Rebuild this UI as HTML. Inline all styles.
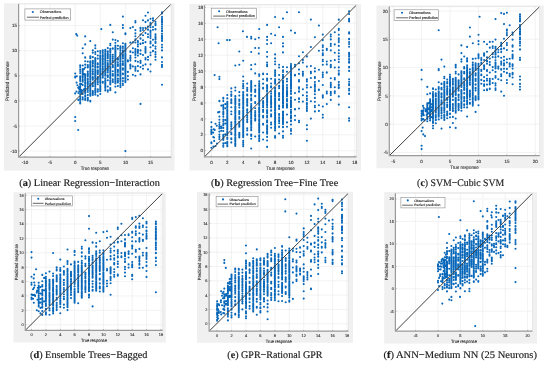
<!DOCTYPE html><html><head><meta charset="utf-8"><style>html,body{margin:0;padding:0;background:#fff;overflow:hidden}svg{display:block;text-rendering:geometricPrecision}</style></head><body>
<svg width="550" height="365" viewBox="0 0 550 365">
<g><rect x="4" y="3.3" width="170.5" height="167.3" fill="#f0f0f0"/><rect x="18.6" y="4" width="152.6" height="153.2" fill="#fff"/><path d="M25.0 4V157.2M18.6 151.1H171.2M50.1 4V157.2M18.6 126.0H171.2M75.2 4V157.2M18.6 100.9H171.2M100.3 4V157.2M18.6 75.8H171.2M125.4 4V157.2M18.6 50.7H171.2M150.5 4V157.2M18.6 25.6H171.2" stroke="#eeeeee" stroke-width="0.7" fill="none"/><path d="M110.3 70.8h0M137.9 61.7h0M90.3 84.6h0M137.9 53.0h0M97.8 82.3h0M105.3 85.5h0M102.8 81.9h0M110.3 89.3h0M80.2 81.0h0M122.9 50.7h0M110.3 55.3h0M100.3 59.6h0M125.4 59.3h0M97.8 95.8h0M105.3 75.0h0M87.8 71.6h0M102.8 77.1h0M90.3 95.5h0M95.3 81.8h0M122.9 52.8h0M95.3 63.5h0M107.8 51.2h0M162.0 40.2h0M148.0 29.6h0M120.4 50.6h0M110.3 74.6h0M95.3 58.6h0M90.3 92.0h0M162.0 50.4h0M110.3 68.4h0M87.8 82.5h0M115.4 71.1h0M125.4 34.3h0M115.4 49.5h0M150.5 38.1h0M81.5 92.0h0M110.3 56.2h0M105.3 78.8h0M82.7 97.2h0M115.4 68.7h0M130.4 67.0h0M115.4 74.7h0M95.3 70.8h0M130.4 42.8h0M110.3 62.8h0M110.3 61.1h0M122.9 51.6h0M90.3 69.1h0M125.4 72.8h0M120.4 47.3h0M125.4 60.4h0M90.3 77.9h0M125.4 56.4h0M90.3 90.4h0M85.2 96.8h0M135.4 42.5h0M135.4 52.3h0M140.5 53.7h0M105.3 82.0h0M95.3 62.7h0M78.3 99.9h0M115.4 75.6h0M120.4 71.4h0M125.4 59.5h0M95.3 54.0h0M92.8 63.7h0M115.4 57.7h0M125.4 55.9h0M148.0 26.6h0M90.3 94.1h0M107.8 58.2h0M145.5 58.1h0M105.3 72.4h0M112.8 81.0h0M80.2 69.3h0M117.9 41.0h0M155.5 29.5h0M125.4 43.7h0M140.5 74.4h0M117.9 70.8h0M95.3 89.6h0M122.9 48.0h0M92.8 92.0h0M125.4 57.4h0M82.7 76.5h0M125.4 44.6h0M90.3 81.5h0M100.3 77.6h0M97.8 70.9h0M120.4 61.5h0M90.3 76.3h0M102.8 55.8h0M78.2 87.8h0M95.3 75.1h0M105.3 61.3h0M85.2 82.7h0M115.4 79.8h0M100.3 68.5h0M120.4 56.2h0M115.4 66.3h0M105.3 67.1h0M135.4 30.1h0M115.4 75.4h0M125.4 54.3h0M100.3 71.4h0M110.3 78.3h0M90.3 95.8h0M162.0 36.5h0M95.3 66.6h0M95.3 83.8h0M85.2 61.2h0M95.3 71.5h0M122.9 58.5h0M120.4 57.7h0M87.8 99.5h0M100.3 79.1h0M105.3 73.9h0M117.9 80.4h0M105.3 66.0h0M112.8 75.0h0M130.4 68.5h0M120.4 64.2h0M100.3 73.2h0M105.3 83.5h0M100.3 71.9h0M85.2 86.1h0M90.3 77.1h0M95.3 86.3h0M97.8 66.7h0M97.8 84.3h0M112.8 60.6h0M162.0 22.7h0M125.4 44.0h0M125.4 48.0h0M122.9 73.6h0M115.4 73.1h0M150.5 34.0h0M120.4 65.4h0M107.8 53.9h0M85.2 85.9h0M107.8 54.2h0M92.8 50.4h0M87.8 74.8h0M110.3 83.0h0M125.4 63.5h0M95.3 71.7h0M122.9 64.7h0M110.3 50.5h0M90.3 61.3h0M153.0 27.0h0M102.8 64.6h0M95.3 77.8h0M130.4 57.6h0M87.8 65.0h0M120.4 60.6h0M90.3 41.1h0M102.8 63.4h0M95.3 64.1h0M130.4 64.9h0M102.8 71.3h0M162.0 47.4h0M115.4 74.8h0M120.4 64.5h0M110.3 80.5h0M97.8 51.2h0M102.8 71.6h0M132.9 48.3h0M90.3 84.2h0M122.9 55.5h0M100.3 56.7h0M115.4 48.9h0M100.3 74.7h0M100.3 65.4h0M110.3 63.1h0M75.2 76.9h0M107.8 56.9h0M162.0 28.7h0M95.3 92.8h0M122.9 63.2h0M105.3 78.3h0M92.8 78.6h0M150.5 22.8h0M75.2 93.4h0M97.8 71.9h0M162.0 30.9h0M95.3 72.0h0M130.4 55.7h0M115.4 45.5h0M125.4 74.0h0M115.4 52.9h0M100.3 79.3h0M122.9 50.4h0M80.2 86.2h0M105.3 65.7h0M100.3 66.5h0M107.8 90.2h0M87.8 65.9h0M92.8 93.1h0M110.3 68.4h0M102.8 61.5h0M125.4 81.3h0M115.4 81.5h0M135.4 53.7h0M120.4 55.4h0M115.4 58.8h0M95.3 82.8h0M125.4 62.0h0M95.3 78.7h0M85.2 79.0h0M148.0 37.1h0M110.3 54.6h0M125.4 46.1h0M110.3 74.6h0M115.4 61.8h0M80.2 91.7h0M90.3 64.8h0M117.9 81.5h0M112.8 48.8h0M90.3 87.7h0M143.0 43.1h0M90.3 88.8h0M110.3 64.0h0M90.3 65.3h0M120.4 65.8h0M95.3 75.4h0M87.8 95.1h0M82.7 48.2h0M90.3 70.9h0M90.3 86.5h0M110.3 80.3h0M105.3 51.0h0M143.0 55.0h0M143.0 43.3h0M125.4 59.2h0M117.9 64.9h0M130.4 51.2h0M127.9 76.1h0M80.2 83.5h0M87.8 81.4h0M100.3 71.3h0M85.2 82.9h0M115.4 86.6h0M95.3 59.3h0M95.3 64.9h0M95.3 80.3h0M85.2 75.8h0M120.4 64.0h0M115.4 67.8h0M115.4 59.1h0M80.2 78.8h0M105.3 75.7h0M120.4 61.7h0M90.3 85.2h0M100.3 87.8h0M80.2 87.0h0M85.2 88.4h0M92.8 60.9h0M105.3 75.5h0M105.3 69.7h0M140.5 34.6h0M97.8 78.6h0M80.2 65.6h0M125.4 71.3h0M82.7 93.9h0M85.2 80.6h0M148.0 56.9h0M122.9 68.7h0M100.3 88.1h0M87.8 66.8h0M102.8 56.8h0M100.3 59.5h0M140.5 38.8h0M105.3 56.5h0M85.2 64.6h0M155.5 48.8h0M115.4 75.6h0M87.8 61.6h0M85.2 92.0h0M105.3 51.9h0M85.2 75.3h0M115.4 60.9h0M115.4 72.5h0M80.2 80.0h0M125.4 67.9h0M125.4 51.8h0M150.5 27.2h0M117.9 59.5h0M120.4 68.5h0M90.3 62.8h0M80.2 67.0h0M82.7 73.7h0M153.0 39.8h0M115.4 68.6h0M137.9 51.7h0M100.3 62.4h0M122.9 43.2h0M82.7 99.5h0M90.3 83.9h0M95.3 72.0h0M110.3 80.7h0M110.3 77.6h0M107.8 77.1h0M105.3 59.3h0M112.8 65.5h0M153.0 29.7h0M105.3 90.1h0M125.4 81.1h0M82.7 76.4h0M100.3 56.4h0M110.3 59.2h0M115.4 75.9h0M95.3 78.8h0M102.8 66.5h0M137.9 71.0h0M115.4 68.2h0M112.8 32.2h0M82.7 98.9h0M82.7 81.5h0M92.8 62.1h0M87.8 100.6h0M162.0 44.7h0M76.5 91.5h0M100.3 88.8h0M82.7 70.1h0M115.4 69.4h0M82.7 69.1h0M84.0 69.1h0M85.2 91.7h0M95.3 63.1h0M112.8 62.2h0M125.4 72.7h0M95.3 67.7h0M95.3 88.2h0M125.4 65.3h0M120.4 66.9h0M87.8 74.5h0M125.4 64.9h0M125.4 69.9h0M90.3 78.0h0M115.4 56.4h0M90.3 76.2h0M95.3 92.7h0M107.8 69.0h0M110.3 67.1h0M107.8 68.9h0M110.3 51.3h0M92.8 66.4h0M125.4 73.1h0M95.3 84.6h0M150.5 23.6h0M110.3 48.7h0M97.8 78.2h0M90.3 100.8h0M107.8 64.5h0M100.3 67.8h0M115.4 47.6h0M107.8 65.2h0M80.2 84.0h0M125.4 69.2h0M82.7 72.9h0M125.4 47.0h0M125.4 65.4h0M155.5 42.3h0M117.9 74.4h0M90.3 91.8h0M105.3 80.3h0M105.3 58.7h0M115.4 58.0h0M100.3 65.5h0M117.9 58.4h0M90.3 101.5h0M100.3 62.9h0M110.3 63.7h0M105.3 56.9h0M87.8 86.1h0M153.0 45.5h0M120.4 65.4h0M125.4 58.9h0M100.3 86.2h0M132.9 42.4h0M125.4 64.7h0M162.0 36.1h0M90.3 67.6h0M107.8 48.1h0M100.3 65.0h0M115.4 48.8h0M95.3 81.7h0M85.2 90.5h0M107.8 54.3h0M115.4 77.6h0M100.3 62.5h0M162.0 12.4h0M102.8 68.3h0M97.8 77.1h0M125.4 54.8h0M105.3 55.4h0M95.3 58.1h0M95.3 59.0h0M137.9 46.5h0M148.0 69.4h0M115.4 57.1h0M95.3 71.8h0M120.4 70.6h0M92.8 92.1h0M100.3 55.2h0M110.3 63.5h0M102.8 56.6h0M100.3 61.6h0M162.0 18.8h0M90.3 77.4h0M115.4 62.3h0M80.2 96.6h0M85.2 36.4h0M92.8 85.4h0M162.0 66.9h0M120.4 72.4h0M135.4 51.4h0M82.7 77.4h0M120.4 75.3h0M105.3 74.3h0M105.3 62.4h0M120.4 54.4h0M97.8 80.0h0M110.3 61.6h0M95.3 90.5h0M102.8 69.6h0M110.3 55.1h0M90.3 86.6h0M95.3 67.2h0M105.3 50.0h0M105.3 58.4h0M125.4 78.5h0M115.4 63.6h0M110.3 43.7h0M140.5 30.9h0M90.3 73.1h0M85.2 77.8h0M102.8 59.9h0M87.8 66.0h0M110.3 49.0h0M112.8 75.7h0M87.8 66.9h0M120.4 48.1h0M110.3 80.3h0M105.3 68.9h0M150.5 43.5h0M135.4 61.1h0M92.8 77.4h0M90.3 85.4h0M150.5 55.3h0M90.3 69.0h0M122.9 68.3h0M97.8 55.5h0M100.3 57.5h0M110.3 62.5h0M155.5 54.2h0M76.6 82.6h0M90.3 56.3h0M120.4 56.7h0M102.8 72.4h0M95.3 80.5h0M148.0 12.5h0M95.3 58.9h0M120.4 58.7h0M153.0 51.2h0M122.9 78.0h0M120.4 78.3h0M120.4 56.8h0M125.4 54.6h0M95.3 73.7h0M115.4 80.1h0M125.4 60.6h0M145.5 49.2h0M150.5 47.2h0M150.5 42.0h0M85.2 57.7h0M100.3 57.4h0M105.3 58.5h0M145.5 47.1h0M105.3 83.1h0M95.3 72.0h0M80.2 98.7h0M95.3 75.3h0M125.4 65.2h0M80.2 76.3h0M90.3 91.0h0M97.8 91.8h0M110.3 58.6h0M100.3 51.3h0M140.5 43.9h0M92.8 77.0h0M110.3 73.3h0M125.4 72.9h0M155.5 43.0h0M140.5 53.9h0M87.8 76.5h0M125.4 55.4h0M117.9 78.5h0M105.3 53.5h0M80.2 77.0h0M90.3 81.0h0M122.9 46.5h0M85.2 93.1h0M97.8 89.2h0M95.3 83.2h0M120.4 48.9h0M100.3 65.9h0M85.2 79.6h0M100.3 75.9h0M100.3 79.0h0M120.4 52.6h0M100.3 68.7h0M120.4 59.4h0M110.3 54.2h0M145.5 22.1h0M120.4 70.2h0M102.8 72.5h0M107.8 66.9h0M105.3 90.4h0M140.5 43.5h0M87.8 67.5h0M105.3 62.6h0M110.3 74.6h0M105.3 66.4h0M115.4 83.5h0M107.8 86.5h0M105.3 80.3h0M120.4 81.3h0M100.3 64.0h0M115.4 60.4h0M120.4 66.4h0M87.8 90.2h0M100.3 89.1h0M132.9 52.5h0M153.0 18.3h0M162.0 21.1h0M81.5 84.0h0M125.4 73.4h0M127.9 79.5h0M150.5 32.1h0M120.4 63.5h0M117.9 45.7h0M120.4 48.5h0M112.8 39.6h0M125.4 80.5h0M110.3 62.6h0M92.8 91.1h0M85.2 67.5h0M150.5 64.4h0M122.9 74.2h0M90.3 89.3h0M125.4 49.0h0M97.8 91.3h0M115.4 60.5h0M100.3 81.4h0M92.8 74.5h0M90.3 74.5h0M84.0 74.2h0M85.2 96.1h0M84.0 89.2h0M85.2 92.3h0M125.4 67.9h0M110.3 69.2h0M87.8 81.4h0M110.3 84.5h0M110.3 52.3h0M107.8 64.7h0M92.8 63.3h0M105.3 74.7h0M140.5 67.1h0M100.3 94.0h0M110.3 61.0h0M155.5 54.4h0M95.3 59.4h0M120.4 57.6h0M107.8 63.3h0M125.4 78.8h0M100.3 51.0h0M110.3 73.3h0M100.3 58.5h0M135.4 54.9h0M150.5 41.6h0M115.4 82.2h0M162.0 12.4h0M120.4 83.4h0M125.4 81.3h0M145.5 51.8h0M95.3 67.0h0M162.0 66.0h0M102.8 52.9h0M107.8 76.6h0M90.3 84.1h0M125.4 80.4h0M100.3 88.9h0M120.4 58.6h0M92.8 57.0h0M100.3 77.6h0M100.3 77.9h0M95.3 75.9h0M80.2 90.8h0M122.9 63.4h0M137.9 66.1h0M92.8 73.6h0M90.3 71.8h0M100.3 66.1h0M85.2 74.9h0M115.4 46.1h0M100.3 79.1h0M110.3 88.1h0M150.5 31.5h0M135.4 68.9h0M155.5 34.3h0M127.9 72.1h0M112.8 54.7h0M110.3 71.9h0M80.2 86.2h0M85.2 83.4h0M110.3 24.9h0M135.4 36.2h0M105.3 71.1h0M76.8 76.3h0M92.8 69.3h0M122.9 27.9h0M90.3 76.1h0M90.3 66.0h0M95.3 60.2h0M115.4 40.0h0M125.4 49.9h0M92.8 52.8h0M115.4 69.7h0M110.3 73.2h0M105.3 51.4h0M112.8 71.2h0M125.4 53.3h0M92.8 95.0h0M107.8 72.5h0M85.2 89.1h0M110.3 75.0h0M125.4 66.5h0M162.0 31.2h0M105.3 59.8h0M97.8 74.1h0M112.8 65.1h0M100.3 64.9h0M87.8 88.8h0M110.3 60.3h0M125.4 66.0h0M145.5 64.4h0M162.0 13.5h0M100.3 65.4h0M95.3 67.8h0M85.2 64.8h0M105.3 75.7h0M125.4 72.7h0M95.3 75.2h0M130.4 42.5h0M120.4 65.1h0M90.3 58.2h0M115.4 48.9h0M125.4 65.7h0M155.5 56.9h0M90.3 65.8h0M125.4 54.3h0M125.4 55.3h0M95.3 74.7h0M95.3 69.4h0M143.0 40.2h0M100.3 67.9h0M95.3 72.7h0M120.4 61.2h0M87.8 75.6h0M107.8 55.5h0M100.3 83.0h0M110.3 56.7h0M115.4 65.3h0M115.4 67.0h0M105.3 75.3h0M145.5 15.8h0M125.4 60.6h0M155.5 41.9h0M105.3 87.4h0M120.4 64.7h0M105.3 86.6h0M95.3 52.1h0M115.4 60.0h0M137.9 44.4h0M125.4 64.4h0M95.3 69.3h0M92.8 82.7h0M125.4 44.5h0M120.4 54.8h0M135.4 60.9h0M90.3 57.8h0M135.4 66.9h0M105.3 59.1h0M95.3 61.5h0M100.3 70.9h0M162.0 57.4h0M143.0 35.3h0M85.2 83.9h0M97.8 70.4h0M120.4 57.3h0M80.2 97.1h0M80.2 89.8h0M82.7 76.0h0M135.4 50.9h0M100.3 78.7h0M97.8 90.8h0M125.4 49.8h0M97.8 73.7h0M120.4 64.3h0M100.3 60.8h0M97.8 67.3h0M102.8 55.1h0M90.3 66.0h0M85.2 88.8h0M140.5 50.4h0M135.4 33.4h0M105.3 81.1h0M120.4 80.1h0M135.4 70.7h0M102.8 59.0h0M120.4 67.3h0M122.9 73.6h0M85.2 80.9h0M87.8 92.0h0M122.9 78.5h0M120.4 78.4h0M90.3 88.3h0M125.4 63.4h0M125.4 62.2h0M100.3 86.6h0M100.3 59.5h0M85.2 78.5h0M105.3 84.4h0M85.2 80.3h0M110.3 58.4h0M115.4 56.5h0M112.8 79.2h0M85.2 74.4h0M115.4 42.7h0M122.9 78.2h0M90.3 93.5h0M115.4 72.2h0M125.4 71.6h0M90.3 67.2h0M150.5 52.6h0M162.0 17.0h0M120.4 65.2h0M140.5 60.8h0M95.3 74.1h0M117.9 59.7h0M155.5 39.4h0M82.7 73.9h0M125.4 77.2h0M95.3 63.1h0M125.4 55.0h0M115.4 68.2h0M125.4 54.5h0M102.8 50.9h0M105.3 64.8h0M155.5 54.5h0M85.2 77.7h0M90.3 65.9h0M162.0 37.9h0M150.5 18.7h0M90.3 89.6h0M162.0 30.8h0M95.3 58.5h0M145.5 59.5h0M150.5 30.5h0M80.2 84.0h0M79.0 87.1h0M100.3 79.0h0M155.5 36.0h0M125.4 78.8h0M102.8 77.6h0M135.4 68.8h0M97.8 67.6h0M100.3 53.0h0M90.3 85.4h0M148.0 59.7h0M125.4 50.7h0M105.3 65.9h0M95.3 60.7h0M153.0 50.7h0M102.8 75.4h0M92.8 73.5h0M105.3 88.0h0M120.4 54.0h0M122.9 81.0h0M85.2 82.5h0M137.9 42.0h0M117.9 82.4h0M82.7 70.8h0M125.4 69.1h0M162.0 16.9h0M130.4 51.9h0M79.2 88.9h0M105.3 69.1h0M112.8 65.1h0M145.5 33.1h0M110.3 73.0h0M85.2 95.2h0M155.5 25.2h0M137.9 50.5h0M107.8 70.9h0M82.7 81.8h0M130.4 57.7h0M120.4 70.4h0M162.0 21.4h0M78.5 93.0h0M105.3 88.0h0M95.3 66.5h0M85.2 99.9h0M120.4 87.1h0M100.3 83.1h0M80.2 77.6h0M87.8 79.8h0M125.4 71.5h0M115.4 68.1h0M92.8 63.6h0M120.4 78.2h0M87.8 78.7h0M117.9 72.0h0M115.4 53.4h0M77.4 85.2h0M110.3 63.1h0M120.4 73.7h0M122.9 25.1h0M120.4 58.0h0M140.5 62.2h0M122.9 64.9h0M155.5 29.1h0M105.3 75.5h0M80.2 84.4h0M90.3 73.4h0M95.3 77.1h0M81.5 90.1h0M85.2 74.3h0M110.3 56.4h0M95.3 76.9h0M120.4 74.4h0M135.4 57.5h0M135.4 39.3h0M100.3 85.1h0M120.4 76.5h0M130.4 64.6h0M90.3 56.5h0M90.3 79.3h0M115.4 54.8h0M95.3 80.6h0M90.3 70.4h0M100.3 69.6h0M75.2 76.6h0M105.3 87.9h0M82.7 90.7h0M95.3 76.3h0M92.8 65.9h0M100.3 82.6h0M87.8 73.4h0M105.3 63.0h0M120.4 69.4h0M100.3 58.1h0M155.5 24.6h0M135.4 69.1h0M97.8 66.7h0M80.2 73.1h0M122.9 56.6h0M95.3 45.3h0M100.3 89.5h0M112.8 62.3h0M162.0 24.6h0M97.8 79.7h0M105.3 73.5h0M115.4 76.5h0M120.4 70.2h0M92.8 94.1h0M115.4 64.9h0M110.3 70.6h0M117.9 75.6h0M85.2 89.1h0M87.8 88.1h0M162.0 40.2h0M125.4 70.8h0M125.4 71.1h0M127.9 60.3h0M148.0 34.3h0M102.8 73.9h0M122.9 58.1h0M115.4 66.8h0M110.3 68.1h0M117.9 59.4h0M97.8 66.6h0M135.4 39.9h0M102.8 58.3h0M90.3 73.6h0M79.3 91.4h0M115.4 53.7h0M95.3 82.0h0M143.0 20.3h0M90.3 81.8h0M97.8 95.6h0M162.0 21.4h0M110.3 45.3h0M155.5 23.7h0M125.4 53.6h0M87.8 97.8h0M92.8 86.2h0M102.8 55.0h0M140.5 38.3h0M100.3 59.3h0M105.3 66.4h0M107.8 60.8h0M100.3 64.3h0M125.4 60.0h0M82.7 74.8h0M92.8 71.7h0M125.4 51.7h0M115.4 62.9h0M110.3 76.1h0M100.3 82.1h0M87.8 86.2h0M105.3 73.7h0M162.0 57.2h0M115.4 74.0h0M112.8 48.3h0M162.0 38.8h0M140.5 28.7h0M162.0 26.7h0M143.0 43.3h0M117.9 58.8h0M97.8 81.8h0M115.4 68.7h0M100.3 81.7h0M125.4 74.1h0M87.8 74.5h0M105.3 63.7h0M130.4 58.8h0M105.3 70.4h0M115.4 60.4h0M85.2 88.3h0M95.3 72.6h0M143.0 30.0h0M117.9 86.1h0M100.3 76.3h0M110.3 66.8h0M125.4 61.7h0M125.4 62.2h0M125.4 68.4h0M95.3 94.6h0M95.3 82.4h0M115.4 56.1h0M110.3 58.8h0M110.3 61.2h0M92.8 73.8h0M97.8 58.6h0M122.9 64.0h0M100.3 85.1h0M122.9 83.5h0M82.7 85.1h0M137.9 49.9h0M92.8 78.4h0M107.8 75.8h0M155.5 37.3h0M95.3 59.4h0M92.8 62.8h0M162.0 35.9h0M150.5 36.1h0M110.3 58.0h0M82.7 71.5h0M115.4 52.0h0M95.3 45.6h0M92.8 93.2h0M155.5 46.6h0M115.4 58.2h0M105.3 87.9h0M82.7 71.0h0M100.3 69.7h0M135.4 21.0h0M97.8 72.7h0M100.3 89.4h0M115.4 92.4h0M95.3 48.2h0M110.3 84.1h0M122.9 64.5h0M95.3 66.2h0M105.3 71.0h0M112.8 66.1h0M100.3 80.5h0M92.8 63.0h0M85.2 75.0h0M110.3 72.1h0M127.9 71.8h0M75.2 93.5h0M135.4 22.5h0M148.0 29.8h0M110.3 81.9h0M153.0 20.4h0M120.4 67.6h0M110.3 62.6h0M105.3 71.3h0M105.3 54.1h0M120.4 65.3h0M95.3 77.3h0M120.4 53.5h0M107.8 80.2h0M117.9 66.0h0M132.9 74.7h0M95.3 76.4h0M102.8 69.7h0M95.3 61.0h0M82.7 79.2h0M115.4 70.1h0M115.4 61.2h0M162.0 40.9h0M115.4 56.8h0M102.8 50.3h0M145.5 48.6h0M75.2 73.5h0M97.8 64.3h0M122.9 69.7h0M90.3 62.5h0M100.3 81.1h0M130.4 28.1h0M100.3 71.7h0M95.3 72.0h0M145.5 27.9h0M85.2 85.8h0M135.4 49.1h0M97.8 63.4h0M92.8 71.3h0M107.8 91.7h0M107.8 70.2h0M153.0 45.2h0M122.9 85.1h0M105.3 53.8h0M110.3 90.3h0M97.8 72.1h0M162.0 40.9h0M100.3 71.3h0M145.5 52.8h0M115.4 62.0h0M150.5 25.1h0M100.3 82.2h0M105.3 71.2h0M100.3 90.1h0M125.4 67.1h0M143.0 28.0h0M125.4 45.1h0M105.3 85.5h0M125.4 58.4h0M120.4 64.9h0M110.3 51.5h0M90.3 71.3h0M95.3 73.6h0M120.4 46.4h0M90.3 75.1h0M110.3 55.0h0M125.4 55.6h0M115.4 55.6h0M115.4 48.0h0M95.3 61.2h0M87.8 98.5h0M80.2 94.3h0M82.7 53.2h0M95.3 71.9h0M110.3 64.3h0M105.3 62.5h0M90.3 89.9h0M97.8 71.8h0M105.3 60.1h0M125.4 51.2h0M115.4 50.8h0M81.5 93.1h0M107.8 63.0h0M90.3 66.2h0M135.4 75.7h0M140.5 63.0h0M110.3 49.9h0M120.4 59.3h0M120.4 78.9h0M125.4 62.0h0M95.3 78.0h0M92.8 92.4h0M120.4 75.4h0M148.0 20.4h0M95.3 84.6h0M112.8 56.7h0M110.3 73.0h0M100.3 73.8h0M122.9 54.8h0M87.8 74.4h0M100.3 69.9h0M105.3 68.2h0M143.0 68.7h0M120.4 76.8h0M120.4 55.3h0M162.0 20.0h0M92.8 57.2h0M115.4 49.8h0M85.2 57.3h0M90.3 61.9h0M120.4 85.4h0M125.4 55.5h0M115.4 78.9h0M112.8 74.0h0M125.4 67.1h0M143.0 65.5h0M155.5 59.7h0M125.4 64.5h0M105.3 70.2h0M122.9 58.3h0M95.3 74.6h0M150.5 71.5h0M95.3 91.9h0M162.0 50.2h0M97.8 90.8h0M95.3 83.1h0M100.3 70.5h0M107.8 52.1h0M90.3 73.1h0M95.3 77.9h0M140.5 27.7h0M155.5 52.1h0M90.3 67.7h0M105.3 54.5h0M105.3 73.9h0M125.4 33.4h0M117.9 64.2h0M102.8 82.7h0M125.4 70.8h0M115.4 59.6h0M92.8 79.8h0M125.4 54.6h0M105.3 69.2h0M145.5 42.1h0M117.9 62.2h0M90.3 85.3h0M122.9 55.4h0M112.8 67.2h0M110.3 68.7h0M105.3 82.6h0M117.9 48.7h0M82.7 65.5h0M110.3 66.8h0M127.9 61.5h0M90.3 94.5h0M87.8 84.3h0M105.3 49.8h0M110.3 43.8h0M100.3 68.0h0M107.8 75.2h0M117.9 58.4h0M125.4 75.8h0M82.7 76.6h0M100.3 91.3h0M115.4 51.4h0M80.2 103.4h0M137.9 55.6h0M115.4 81.0h0M107.8 66.0h0M105.3 68.8h0M90.3 85.8h0M84.0 74.1h0M117.9 69.8h0M155.5 37.9h0M125.4 82.1h0M80.2 71.1h0M80.2 88.1h0M110.3 74.4h0M112.8 75.2h0M115.4 69.8h0M145.5 21.8h0M162.0 33.7h0M100.3 80.6h0M105.3 70.4h0M162.0 64.7h0M120.4 73.6h0M82.7 80.2h0M150.5 24.0h0M115.4 67.8h0M90.3 73.1h0M100.3 80.6h0M112.8 58.5h0M115.4 71.2h0M105.3 68.4h0M120.4 69.0h0M110.3 82.1h0M162.0 21.1h0M130.4 65.7h0M90.3 64.5h0M85.2 44.4h0M130.4 60.6h0M115.4 74.7h0M162.0 62.0h0M105.3 72.2h0M90.3 83.4h0M80.2 65.4h0M122.9 68.4h0M85.2 98.8h0M115.4 66.2h0M110.3 59.0h0M120.4 65.7h0M132.9 27.0h0M95.3 58.9h0M107.8 68.1h0M122.9 61.2h0M90.3 66.6h0M85.2 76.5h0M87.8 83.4h0M155.5 21.8h0M125.4 78.0h0M90.3 94.0h0M75.2 77.4h0M115.4 48.5h0M100.3 67.9h0M92.8 83.4h0M90.3 66.1h0M105.3 60.9h0M100.3 55.7h0M132.9 66.4h0M110.3 60.4h0M145.5 42.3h0M155.5 42.2h0M145.5 50.0h0M107.8 70.4h0M112.8 81.9h0M110.3 49.3h0M80.2 100.0h0M137.9 41.1h0M90.3 89.6h0M110.3 68.0h0M120.4 69.0h0M125.4 78.0h0M110.3 49.4h0M115.4 67.2h0M125.4 63.4h0M115.4 59.2h0M117.9 69.9h0M135.4 49.2h0M85.2 86.4h0M110.3 72.1h0M80.2 89.9h0M90.3 85.1h0M80.2 102.1h0M75.2 117.0h0M75.2 121.0h0M78.2 130.0h0M125.4 151.1h0M140.5 103.9h0M76.2 34.1h0M77.2 35.6h0M101.3 29.1h0M122.9 16.6h0M162.0 84.8h0" stroke="#0867b9" stroke-width="2.1" stroke-linecap="round" fill="none"/><path d="M18.9 156.9L170.8 4.4" stroke="#404040" stroke-width="1.0" fill="none"/><path d="M18.6 4H171.2V157.2" stroke="#dcdcdc" stroke-width="0.6" fill="none"/><path d="M18.6 4V157.2H171.2" stroke="#9a9a9a" stroke-width="1.2" fill="none"/><path d="M25.0 157.2v-1.2M18.6 151.1h1.2M50.1 157.2v-1.2M18.6 126.0h1.2M75.2 157.2v-1.2M18.6 100.9h1.2M100.3 157.2v-1.2M18.6 75.8h1.2M125.4 157.2v-1.2M18.6 50.7h1.2M150.5 157.2v-1.2M18.6 25.6h1.2" stroke="#9a9a9a" stroke-width="0.7" fill="none"/><g font-family="Liberation Sans, sans-serif" font-size="4.5" fill="#333" stroke="#333" stroke-width="0.12"><text x="25.0" y="164.3" text-anchor="middle">-10</text><text x="17.0" y="152.7" text-anchor="end">-10</text><text x="50.1" y="164.3" text-anchor="middle">-5</text><text x="17.0" y="127.6" text-anchor="end">-5</text><text x="75.2" y="164.3" text-anchor="middle">0</text><text x="17.0" y="102.5" text-anchor="end">0</text><text x="100.3" y="164.3" text-anchor="middle">5</text><text x="17.0" y="77.4" text-anchor="end">5</text><text x="125.4" y="164.3" text-anchor="middle">10</text><text x="17.0" y="52.3" text-anchor="end">10</text><text x="150.5" y="164.3" text-anchor="middle">15</text><text x="17.0" y="27.2" text-anchor="end">15</text></g><text x="80.7" y="170.2" textLength="28.4" lengthAdjust="spacingAndGlyphs" font-family="Liberation Sans, sans-serif" font-size="4.9" fill="#333" stroke="#333" stroke-width="0.12">True response</text><text transform="translate(8.7 100.9) rotate(-90)" textLength="39.4" lengthAdjust="spacingAndGlyphs" font-family="Liberation Sans, sans-serif" font-size="4.9" fill="#333" stroke="#333" stroke-width="0.12">Predicted response</text><rect x="24.9" y="8.9" width="45.8" height="11.2" fill="#fff" stroke="#8a8a8a" stroke-width="0.6"/><path d="M32.8 12.0h0" stroke="#0867b9" stroke-width="2.1" stroke-linecap="round"/><path d="M26.9 17.2H39.1" stroke="#666" stroke-width="1.0"/><text x="39.8" y="13.4" textLength="21.6" lengthAdjust="spacingAndGlyphs" font-family="Liberation Sans, sans-serif" font-size="3.65" fill="#222" stroke="#222" stroke-width="0.1">Observations</text><text x="39.8" y="18.5" textLength="28.9" lengthAdjust="spacingAndGlyphs" font-family="Liberation Sans, sans-serif" font-size="3.7" fill="#222" stroke="#222" stroke-width="0.1">Perfect prediction</text></g>
<g><rect x="189.4" y="4" width="171.6" height="166.5" fill="#f0f0f0"/><rect x="204.5" y="5.0" width="152.0" height="151.8" fill="#fff"/><path d="M211.4 5.0V156.8M204.5 150.7H356.5M227.3 5.0V156.8M204.5 134.8H356.5M243.2 5.0V156.8M204.5 118.9H356.5M259.2 5.0V156.8M204.5 102.9H356.5M275.1 5.0V156.8M204.5 87.0H356.5M291.0 5.0V156.8M204.5 71.1H356.5M306.9 5.0V156.8M204.5 55.2H356.5M322.8 5.0V156.8M204.5 39.3H356.5M338.8 5.0V156.8M204.5 23.3H356.5M354.7 5.0V156.8M204.5 7.4H356.5" stroke="#eeeeee" stroke-width="0.7" fill="none"/><path d="M243.2 124.0h0M247.2 128.3h0M291.0 111.5h0M227.3 101.7h0M275.1 109.2h0M283.0 131.4h0M235.3 125.5h0M223.3 111.2h0M243.2 97.3h0M279.1 106.1h0M267.1 113.0h0M235.3 96.2h0M259.2 108.1h0M279.1 99.0h0M259.2 124.9h0M275.1 110.3h0M334.8 52.7h0M283.0 115.2h0M255.2 115.9h0M235.3 116.0h0M251.2 124.2h0M267.1 110.1h0M322.8 40.1h0M291.0 77.6h0M247.2 99.3h0M338.8 28.8h0M259.2 135.2h0M283.0 136.0h0M227.3 106.3h0M227.3 129.5h0M235.3 145.0h0M314.9 68.3h0M279.1 67.5h0M299.0 108.5h0M275.1 102.1h0M255.2 89.5h0M267.1 98.2h0M275.1 113.9h0M306.9 66.6h0M259.2 98.5h0M322.8 85.0h0M275.1 106.6h0M291.0 102.9h0M263.1 109.7h0M283.0 127.3h0M251.2 90.6h0M267.1 104.3h0M239.3 125.9h0M227.3 124.9h0M219.4 131.6h0M283.0 100.4h0M259.2 107.8h0M322.8 95.4h0M291.0 68.3h0M251.2 85.2h0M349.1 19.2h0M275.1 108.1h0M287.0 95.3h0M255.2 89.9h0M235.3 100.4h0M235.3 126.3h0M235.3 107.5h0M275.1 102.2h0M227.3 121.3h0M219.4 139.3h0M291.0 81.7h0M227.3 132.6h0M259.2 125.0h0M263.1 102.1h0M275.1 64.3h0M267.1 80.7h0M295.0 115.7h0M287.0 100.2h0M271.1 101.6h0M275.1 122.6h0M267.1 97.7h0M334.8 44.4h0M239.3 118.7h0M283.0 99.4h0M267.1 110.8h0M221.3 130.7h0M247.2 90.8h0M338.8 38.2h0M291.0 106.2h0M211.4 126.9h0M247.2 103.9h0M217.0 143.5h0M291.0 102.5h0M227.3 111.1h0M223.3 143.2h0M349.1 59.6h0M259.2 84.1h0M247.2 121.5h0M223.3 137.3h0M255.2 112.7h0M251.2 115.9h0M267.1 121.4h0M215.5 123.7h0M235.3 127.3h0M239.3 95.6h0M259.2 107.8h0M247.2 115.7h0M275.1 61.5h0M243.2 133.3h0M330.8 64.9h0M326.8 104.1h0M223.3 112.3h0M239.3 134.0h0M267.1 78.5h0M287.0 85.0h0M223.3 127.9h0M235.3 140.8h0M259.2 99.7h0M279.1 96.0h0M330.8 46.0h0M306.9 108.1h0M291.0 81.3h0M223.3 124.2h0M349.1 33.3h0M275.1 106.0h0M227.3 112.1h0M243.2 95.4h0M275.1 127.5h0M251.2 130.2h0M259.2 97.7h0M291.0 71.2h0M291.0 90.5h0M267.1 113.5h0M291.0 106.4h0M255.2 108.3h0M349.1 62.6h0M275.1 130.5h0M334.8 32.3h0M221.3 105.6h0M314.9 101.7h0M267.1 99.2h0M283.0 102.9h0M235.3 126.3h0M267.1 122.0h0M243.2 130.0h0M227.3 116.5h0M214.2 140.9h0M330.8 84.2h0M279.1 108.4h0M235.3 106.7h0M243.2 110.8h0M259.2 103.7h0M291.0 100.5h0M231.3 142.6h0M334.8 93.1h0M302.9 74.3h0M243.2 107.7h0M275.1 95.7h0M251.2 87.0h0M283.0 95.1h0M227.3 144.0h0M259.2 108.5h0M271.1 98.1h0M275.1 112.3h0M283.0 82.1h0M322.8 64.8h0M243.2 110.6h0M235.3 134.0h0M255.2 103.1h0M271.1 122.5h0M326.8 48.7h0M283.0 120.6h0M283.0 121.3h0M349.1 33.0h0M243.2 127.3h0M243.2 115.0h0M259.2 119.0h0M243.2 115.8h0M275.1 92.6h0M310.9 87.2h0M235.3 119.4h0M267.1 129.6h0M279.1 94.3h0M263.1 116.4h0M330.8 67.0h0M283.0 85.4h0M314.9 71.4h0M227.3 125.7h0M235.3 137.3h0M223.3 113.7h0M291.0 116.6h0M326.8 91.6h0M211.4 134.0h0M291.0 121.3h0M283.0 117.3h0M330.8 85.6h0M243.2 119.9h0M283.0 103.4h0M243.2 121.2h0M227.3 125.2h0M283.0 135.9h0M221.3 126.5h0M283.0 86.1h0M243.2 106.6h0M263.1 79.3h0M322.8 45.3h0M243.2 119.1h0M259.2 81.5h0M251.2 122.1h0M235.3 118.7h0M259.2 90.4h0M235.3 143.6h0M291.0 84.3h0M275.1 100.9h0M243.2 132.3h0M349.1 32.2h0M251.2 86.4h0M279.1 93.2h0M283.0 90.4h0M243.2 144.4h0M211.4 143.3h0M322.8 77.1h0M318.9 89.6h0M235.3 133.8h0M235.3 126.4h0M259.2 122.7h0M275.1 105.8h0M349.1 81.7h0M326.8 61.5h0M349.1 18.8h0M243.2 106.3h0M275.1 87.9h0M259.2 105.1h0M243.2 137.2h0M223.3 114.6h0M235.3 115.7h0M251.2 120.4h0M227.3 124.1h0M235.3 143.9h0M223.3 125.2h0M275.1 109.5h0M263.1 132.5h0M243.2 124.6h0M267.1 99.8h0M259.2 89.8h0M279.1 99.8h0M338.8 40.0h0M251.2 105.9h0M275.1 104.7h0M239.3 107.6h0M302.9 95.2h0M275.1 137.1h0M235.3 100.0h0M243.2 117.3h0M235.3 130.7h0M235.3 102.7h0M247.2 99.5h0M291.0 72.8h0M259.2 99.9h0M243.2 112.1h0M259.2 136.8h0M243.2 83.8h0M283.0 88.4h0M223.3 107.3h0M243.2 112.0h0M251.2 129.0h0M235.3 110.4h0M283.0 96.0h0M235.3 141.6h0M247.2 90.9h0M223.3 101.1h0M287.0 67.3h0M251.2 135.4h0M275.1 109.9h0M239.3 112.1h0M219.4 111.7h0M251.2 110.0h0M291.0 71.2h0M291.0 102.7h0M251.2 111.0h0M299.0 63.2h0M223.3 113.1h0M267.1 122.5h0M243.2 123.7h0M259.2 131.0h0M239.3 111.8h0M322.8 59.7h0M247.2 87.9h0M302.9 59.9h0M227.3 131.3h0M259.2 132.6h0M259.2 86.3h0M283.0 115.9h0M251.2 106.6h0M263.1 117.5h0M225.3 104.1h0M247.2 134.7h0M283.0 101.6h0M227.3 139.0h0M259.2 130.4h0M243.2 88.3h0M235.3 111.2h0M231.3 94.7h0M291.0 68.6h0M283.0 83.2h0M251.2 114.8h0M255.2 102.1h0M283.0 119.1h0M275.1 83.8h0M330.8 39.4h0M338.8 74.3h0M263.1 88.6h0M279.1 85.7h0M267.1 88.3h0M247.2 99.9h0M259.2 119.6h0M283.0 97.5h0M267.1 112.8h0M275.1 100.9h0M263.1 74.2h0M318.9 105.3h0M291.0 106.4h0M231.3 94.3h0M291.0 86.5h0M330.8 66.9h0M291.0 75.4h0M251.2 109.7h0M251.2 95.8h0M223.3 120.0h0M259.2 94.9h0M299.0 88.7h0M287.0 92.9h0M279.1 115.0h0M299.0 99.0h0M279.1 88.3h0M239.3 133.6h0M291.0 93.9h0M251.2 98.2h0M322.8 50.4h0M251.2 107.4h0M227.3 122.7h0M283.0 99.7h0M314.9 77.1h0M259.2 141.0h0M291.0 111.6h0M223.3 116.7h0M267.1 101.8h0M279.1 96.4h0M231.3 142.4h0M275.1 93.1h0M235.3 117.4h0M247.2 112.8h0M251.2 134.8h0M275.1 79.3h0M231.3 102.5h0M235.3 124.4h0M291.0 118.2h0M283.0 119.6h0M259.2 96.3h0M243.2 119.1h0M283.0 76.9h0M259.2 94.9h0M247.2 83.6h0M314.9 97.9h0M235.3 119.8h0M291.0 98.1h0M275.1 98.2h0M275.1 108.1h0M283.0 137.7h0M287.0 94.9h0M314.9 88.0h0M338.8 19.5h0M243.2 112.2h0M235.3 127.5h0M322.8 74.9h0M235.3 124.9h0M239.3 105.3h0M291.0 97.4h0M334.8 67.5h0M299.0 87.4h0M267.1 90.0h0M251.2 114.4h0M349.1 21.4h0M283.0 74.7h0M275.1 103.6h0M218.1 112.4h0M235.3 135.3h0M211.4 130.7h0M330.8 34.5h0M243.2 99.8h0M235.3 119.3h0M271.1 116.4h0M235.3 128.9h0M267.1 115.8h0M310.9 101.3h0M306.9 95.9h0M243.2 116.2h0M330.8 99.9h0M255.2 118.9h0M267.1 136.9h0M251.2 112.5h0M349.1 54.3h0M247.2 130.5h0M283.0 84.9h0M275.1 81.6h0M283.0 117.8h0M227.3 137.5h0M267.1 140.5h0M349.1 33.6h0M267.1 116.3h0M235.3 119.4h0M223.3 105.0h0M251.2 81.9h0M283.0 70.2h0M219.4 111.9h0M223.3 119.5h0M279.1 106.0h0M314.9 91.5h0M259.2 124.1h0M275.1 120.0h0M243.2 120.5h0M243.2 92.0h0M259.2 91.7h0M239.3 124.7h0M259.2 103.3h0M235.3 129.6h0M275.1 94.0h0M227.3 103.9h0M235.3 112.8h0M291.0 85.6h0M251.2 69.3h0M243.2 134.1h0M219.4 101.2h0M279.1 119.0h0M271.1 115.5h0M299.0 101.8h0M235.3 98.6h0M287.0 126.7h0M291.0 111.6h0M291.0 107.1h0M283.0 90.7h0M259.2 97.5h0M223.3 131.0h0M275.1 117.4h0M219.4 119.7h0M227.3 109.9h0M255.2 119.7h0M231.3 103.2h0M259.2 76.0h0M299.0 120.7h0M235.3 135.4h0M291.0 104.0h0M349.1 46.8h0M219.4 122.6h0M259.2 140.1h0M283.0 117.9h0M283.0 107.0h0M243.2 113.4h0M291.0 117.7h0M251.2 100.1h0M235.3 119.7h0M267.1 96.8h0M275.1 98.9h0M299.0 80.1h0M279.1 127.0h0M227.3 125.7h0M271.1 103.5h0M251.2 118.1h0M283.0 97.9h0M223.3 109.1h0M279.1 105.6h0M291.0 100.3h0M221.3 127.9h0M211.4 133.1h0M322.8 61.3h0M322.8 47.1h0M235.3 117.3h0M338.8 70.7h0M255.2 136.5h0M267.1 94.2h0M259.2 103.0h0M251.2 104.0h0M314.9 111.6h0M275.1 136.0h0M338.8 96.4h0M275.1 110.8h0M338.8 59.2h0M267.1 107.4h0M259.2 83.6h0M271.1 127.8h0M215.5 146.0h0M287.0 105.1h0M235.3 116.8h0M302.9 62.6h0M223.3 124.0h0M283.0 82.8h0M287.0 71.8h0M267.1 97.8h0M227.3 119.2h0M291.0 83.8h0M251.2 90.0h0M243.2 76.5h0M283.0 111.9h0M349.1 59.0h0M227.3 107.1h0M259.2 111.1h0M279.1 94.5h0M243.2 92.7h0M338.8 19.7h0M275.1 101.7h0M227.3 128.9h0M235.3 133.9h0M235.3 90.5h0M259.2 112.7h0M330.8 67.3h0M227.3 104.8h0M235.3 109.2h0M239.3 126.7h0M271.1 91.6h0M259.2 108.6h0M259.2 109.4h0M235.3 134.8h0M291.0 85.7h0M263.1 107.3h0M306.9 98.5h0M219.4 137.1h0M259.2 109.4h0M251.2 125.8h0M299.0 81.5h0M283.0 71.9h0M267.1 99.3h0M235.3 87.5h0M283.0 122.3h0M322.8 53.2h0M291.0 80.6h0M334.8 91.4h0M275.1 95.1h0M247.2 109.4h0M239.3 125.7h0M291.0 80.8h0M291.0 97.2h0M275.1 98.5h0M291.0 66.4h0M263.1 111.9h0M299.0 98.3h0M283.0 81.4h0M243.2 98.0h0M271.1 99.8h0M275.1 118.8h0M235.3 96.0h0M295.0 75.4h0M291.0 100.4h0M235.3 119.0h0M239.3 114.3h0M213.4 146.6h0M295.0 64.7h0M235.3 112.6h0M291.0 88.2h0M267.1 101.2h0M223.3 127.9h0M239.3 134.8h0M243.2 140.7h0M287.0 90.9h0M251.2 123.8h0M235.3 115.8h0M310.9 118.6h0M267.1 111.0h0M225.3 143.1h0M349.1 39.2h0M279.1 123.2h0M259.2 99.8h0M235.3 118.7h0M283.0 88.4h0M227.3 98.4h0M295.0 109.1h0M287.0 96.5h0M283.0 92.1h0M287.0 107.6h0M306.9 85.1h0M259.2 130.9h0M291.0 118.1h0M227.3 141.7h0M283.0 97.4h0M287.0 105.3h0M239.3 111.0h0M227.3 120.1h0M330.8 87.3h0M322.8 96.5h0M227.3 135.1h0M271.1 86.4h0M235.3 125.9h0M235.3 116.0h0M338.8 45.9h0M279.1 82.6h0M287.0 101.5h0M243.2 126.6h0M291.0 67.3h0M279.1 93.1h0M251.2 122.5h0M263.1 115.9h0M243.2 104.2h0M275.1 113.2h0M235.3 99.4h0M259.2 107.2h0M306.9 81.5h0M279.1 114.0h0M275.1 83.3h0M227.3 116.8h0M291.0 91.8h0M275.1 83.4h0M310.9 47.0h0M338.8 62.0h0M338.8 50.3h0M267.1 90.7h0M287.0 99.0h0M227.3 126.5h0M223.3 97.7h0M291.0 116.8h0M279.1 79.5h0M310.9 66.1h0M247.2 109.7h0M263.1 87.9h0M291.0 81.9h0M275.1 128.2h0M299.0 56.3h0M255.2 92.1h0M299.0 91.8h0M306.9 110.9h0M330.8 36.5h0M255.2 102.1h0M330.8 82.7h0M247.2 105.8h0M275.1 117.5h0M349.1 107.3h0M275.1 100.8h0M275.1 99.3h0M251.2 123.9h0M267.1 133.8h0M263.1 105.5h0M279.1 121.2h0M267.1 100.3h0M247.2 112.5h0M235.3 110.9h0M349.1 55.7h0M275.1 80.6h0M235.3 113.2h0M251.2 120.6h0M275.1 121.8h0M243.2 128.9h0M322.8 72.6h0M267.1 64.9h0M279.1 133.5h0M279.1 75.0h0M235.3 118.1h0M338.8 67.4h0M299.0 91.3h0M235.3 132.1h0M271.1 83.5h0M267.1 98.8h0M247.2 121.8h0M251.2 81.1h0M243.2 135.8h0M275.1 71.7h0M259.2 104.1h0M227.3 145.5h0M239.3 104.7h0M235.3 110.4h0M275.1 98.8h0M267.1 104.1h0M255.2 120.6h0M267.1 110.1h0M275.1 136.1h0M239.3 99.5h0M223.3 146.8h0M326.8 49.9h0M235.3 110.7h0M243.2 136.4h0M283.0 107.6h0M349.1 56.7h0M231.3 138.2h0M255.2 95.9h0M306.9 56.4h0M227.3 122.6h0M243.2 81.0h0M275.1 118.7h0M291.0 133.7h0M227.3 127.2h0M259.2 114.5h0M275.1 91.7h0M267.1 90.7h0M267.1 125.4h0M349.1 79.2h0M349.1 70.9h0M239.3 113.3h0M243.2 86.3h0M255.2 111.0h0M227.3 125.0h0M235.3 96.5h0M267.1 120.7h0M349.1 62.7h0M243.2 102.9h0M235.3 140.2h0M275.1 124.1h0M247.2 95.4h0M211.4 122.3h0M227.3 110.3h0M314.9 90.1h0M227.3 102.6h0M275.1 121.3h0M259.2 115.3h0M287.0 114.5h0M267.1 87.0h0M243.2 127.9h0M239.3 132.9h0M243.2 108.7h0M243.2 107.3h0M243.2 130.9h0M247.2 99.0h0M275.1 120.1h0M267.1 99.4h0M225.3 120.1h0M259.2 93.5h0M338.8 73.4h0M295.0 109.4h0M247.2 102.3h0M235.3 118.3h0M243.2 133.5h0M231.3 95.9h0M243.2 129.0h0M338.8 74.7h0M314.9 90.6h0M259.2 29.0h0M267.1 86.1h0M283.0 78.4h0M283.0 75.9h0M283.0 105.9h0M283.0 112.3h0M275.1 94.2h0M231.3 88.4h0M283.0 122.9h0M279.1 126.5h0M235.3 121.5h0M235.3 101.8h0M275.1 90.3h0M251.2 112.1h0M291.0 105.3h0M243.2 114.0h0M279.1 120.8h0M275.1 96.5h0M227.3 115.3h0M243.2 117.8h0M251.2 134.6h0M247.2 121.8h0M227.3 113.4h0M243.2 120.9h0M267.1 131.9h0M239.3 121.9h0M275.1 82.9h0M259.2 85.8h0M259.2 138.5h0M239.3 103.5h0M291.0 98.3h0M227.3 131.7h0M302.9 75.7h0M271.1 101.0h0M302.9 73.5h0M267.1 95.4h0M251.2 107.5h0M251.2 112.0h0M338.8 88.1h0M267.1 94.0h0M255.2 116.7h0M235.3 128.2h0M235.3 123.7h0M259.2 129.3h0M259.2 112.7h0M291.0 87.3h0M231.3 138.5h0M259.2 100.9h0M231.3 111.5h0M243.2 99.8h0M263.1 83.5h0M314.9 37.3h0M231.3 101.0h0M235.3 101.3h0M283.0 81.2h0M267.1 85.1h0M227.3 133.6h0M283.0 118.8h0M326.8 72.4h0M283.0 96.9h0M349.1 53.1h0M283.0 93.9h0M251.2 136.0h0M291.0 130.9h0M271.1 124.4h0M227.3 118.5h0M251.2 94.8h0M310.9 78.0h0M275.1 102.1h0M251.2 111.5h0M283.0 96.0h0M283.0 124.2h0M235.3 121.3h0M259.2 136.4h0M291.0 107.3h0M231.3 126.7h0M267.1 101.6h0M231.3 114.2h0M243.2 102.3h0M287.0 78.9h0M251.2 121.8h0M291.0 84.5h0M283.0 103.0h0M275.1 126.4h0M235.3 117.6h0M259.2 95.7h0M314.9 94.2h0M275.1 126.3h0M225.3 108.2h0M267.1 116.6h0M259.2 128.0h0M263.1 106.9h0M259.2 125.6h0M291.0 69.0h0M267.1 102.6h0M306.9 79.4h0M318.9 81.0h0M322.8 117.6h0M287.0 93.3h0M219.4 126.6h0M213.7 129.2h0M235.3 100.5h0M267.1 111.9h0M247.2 105.2h0M231.3 134.2h0M338.8 56.4h0M259.2 89.2h0M235.3 110.3h0M267.1 100.2h0M349.1 90.5h0M283.0 99.4h0M338.8 84.7h0M231.3 99.4h0M283.0 105.4h0M251.2 65.0h0M251.2 117.0h0M259.2 131.3h0M259.2 119.3h0M291.0 109.8h0M247.2 105.4h0M259.2 88.8h0M259.2 94.8h0M275.1 88.4h0M267.1 74.1h0M223.3 139.9h0M306.9 106.5h0M275.1 104.1h0M235.3 124.6h0M263.1 104.8h0M322.8 55.2h0M314.9 82.0h0M255.2 64.3h0M243.2 105.7h0M310.9 71.9h0M283.0 102.2h0M279.1 86.8h0M255.2 85.8h0M306.9 100.2h0M235.3 139.0h0M291.0 112.1h0M291.0 64.1h0M267.1 87.3h0M251.2 123.2h0M283.0 82.0h0M255.2 73.4h0M259.2 116.9h0M243.2 94.3h0M291.0 121.2h0M235.3 146.0h0M263.1 83.8h0M259.2 120.3h0M349.1 11.4h0M227.3 128.3h0M267.1 110.7h0M239.3 133.2h0M310.9 73.3h0M231.3 91.8h0M330.8 60.8h0M275.1 104.0h0M235.3 122.5h0M259.2 109.1h0M243.2 108.5h0M263.1 103.2h0M291.0 82.2h0M263.1 101.0h0M349.1 54.0h0M330.8 91.9h0M239.3 136.3h0M231.3 139.0h0M283.0 114.8h0M251.2 87.7h0M243.2 129.6h0M338.8 84.6h0M271.1 96.7h0M243.2 101.0h0M267.1 79.5h0M267.1 112.4h0M291.0 124.6h0M259.2 136.4h0M267.1 107.4h0M235.3 140.8h0M299.0 122.2h0M338.8 85.3h0M213.3 137.0h0M287.0 88.9h0M349.1 118.4h0M306.9 103.1h0M291.0 68.1h0M239.3 123.0h0M349.1 85.3h0M251.2 121.4h0M306.9 129.3h0M291.0 97.4h0M275.1 115.3h0M334.8 79.5h0M318.9 90.0h0M259.2 126.2h0M259.2 110.0h0M330.8 50.4h0M259.2 119.2h0M306.9 104.6h0M239.3 117.1h0M243.2 108.2h0M255.2 115.2h0M247.2 122.1h0M259.2 81.3h0M239.3 122.6h0M235.3 114.8h0M251.2 100.0h0M235.3 122.4h0M251.2 108.8h0M255.2 96.2h0M302.9 52.2h0M259.2 126.1h0M275.1 100.5h0M338.8 82.1h0M259.2 121.2h0M243.2 135.5h0M271.1 104.9h0M291.0 120.6h0M243.2 86.8h0M283.0 123.0h0M263.1 139.5h0M267.1 131.7h0M275.1 119.0h0M259.2 94.8h0M235.3 99.9h0M243.2 92.2h0M223.3 121.8h0M314.9 84.4h0M275.1 107.9h0M295.0 93.0h0M247.2 130.3h0M267.1 133.7h0M271.1 78.8h0M235.3 127.8h0M267.1 62.6h0M275.1 90.2h0M259.2 98.6h0M251.2 84.1h0M243.2 131.5h0M227.3 120.6h0M275.1 75.9h0M235.3 108.9h0M227.3 107.6h0M349.1 52.8h0M322.8 106.5h0M251.2 89.9h0M259.2 97.3h0M235.3 104.5h0M349.1 67.5h0M247.2 119.6h0M291.0 100.2h0M287.0 81.4h0M211.4 142.3h0M219.4 139.1h0M259.2 115.0h0M219.4 124.7h0M338.8 30.1h0M349.1 84.0h0M275.1 126.0h0M247.2 99.9h0M239.3 134.1h0M231.3 107.3h0M271.1 107.4h0M235.3 110.9h0M239.3 137.5h0M283.0 102.5h0M306.9 81.1h0M275.1 100.3h0M318.9 110.9h0M291.0 107.0h0M259.2 109.2h0M251.2 110.4h0M235.3 139.9h0M291.0 76.1h0M267.1 105.0h0M314.9 78.1h0M263.1 123.8h0M314.9 86.4h0M283.0 81.6h0M271.1 110.4h0M283.0 111.8h0M283.0 76.5h0M223.3 98.6h0M291.0 113.1h0M227.3 107.8h0M267.1 99.1h0M263.1 73.5h0M287.0 104.1h0M239.3 117.2h0M283.0 90.3h0M291.0 73.4h0M251.2 120.8h0M271.1 106.7h0M259.2 111.9h0M287.0 105.8h0M314.9 85.4h0M267.1 132.8h0M211.4 131.3h0M338.8 53.2h0M271.1 110.7h0M235.3 131.2h0M283.0 105.3h0M259.2 96.0h0M235.3 102.8h0M251.2 109.8h0M275.1 73.1h0M251.2 100.5h0M235.3 125.6h0M223.3 134.7h0M251.2 117.0h0M283.0 105.5h0M251.2 113.7h0M259.2 128.1h0M291.0 65.8h0M275.1 100.2h0M349.1 94.1h0M291.0 80.9h0M295.0 109.5h0M267.1 101.1h0M291.0 74.1h0M349.1 38.7h0M211.4 131.5h0M259.2 93.3h0M283.0 86.5h0M243.2 85.4h0M225.3 123.5h0M267.1 117.5h0M223.3 107.2h0M235.3 101.9h0M223.3 135.6h0M283.0 52.4h0M223.3 106.2h0M338.8 87.2h0M267.1 126.8h0M255.2 90.3h0M235.3 138.7h0M255.2 91.6h0M243.2 107.9h0M306.9 109.0h0M267.1 90.8h0M211.4 132.9h0M295.0 120.1h0M349.1 66.9h0M243.2 83.7h0M263.1 110.6h0M283.0 86.9h0M227.3 143.3h0M259.2 83.6h0M251.2 107.4h0M306.9 125.3h0M219.4 134.6h0M338.8 42.1h0M219.4 116.6h0M338.8 104.6h0M259.2 120.7h0M235.3 129.8h0M247.2 89.5h0M295.0 99.7h0M235.3 106.6h0M291.0 101.6h0M322.8 114.7h0M247.2 110.3h0M271.1 102.7h0M267.1 91.8h0M295.0 66.5h0M235.3 110.8h0M251.2 138.8h0M279.1 100.1h0M235.3 108.7h0M243.2 117.4h0M287.0 92.0h0M275.1 70.2h0M267.1 127.9h0M306.9 92.4h0M243.2 136.0h0M330.8 93.2h0M251.2 126.0h0M330.8 65.4h0M283.0 115.1h0M283.0 97.0h0M275.1 129.8h0M291.0 129.0h0M247.2 134.4h0M283.0 113.8h0M231.3 122.4h0M275.1 119.1h0M349.1 42.1h0M326.8 93.4h0M243.2 125.2h0M322.8 54.5h0M275.1 122.8h0M259.2 95.7h0M251.2 99.2h0M259.2 124.5h0M259.2 127.5h0M310.9 66.0h0M287.0 94.0h0M235.3 144.4h0M291.0 77.9h0M275.1 116.3h0M349.1 44.1h0M243.2 108.8h0M283.0 106.5h0M267.1 66.2h0M239.3 112.3h0M231.3 124.3h0M322.8 34.6h0M211.4 132.4h0M243.2 98.6h0M259.2 92.7h0M243.2 135.4h0M267.1 120.9h0M235.3 117.5h0M291.0 104.8h0M271.1 114.2h0M275.1 113.4h0M349.1 93.5h0M235.3 109.0h0M259.2 130.8h0M235.3 103.6h0M247.2 112.5h0M267.1 105.4h0M287.0 106.9h0M235.3 110.9h0M291.0 85.6h0M283.0 120.5h0M259.2 101.3h0M314.9 107.3h0M259.2 81.6h0M349.1 84.3h0M334.8 60.1h0M259.2 114.4h0M318.9 25.6h0M287.0 122.4h0M267.1 101.6h0M275.1 117.7h0M291.0 75.1h0M326.8 72.8h0M330.8 78.3h0M318.9 50.8h0M255.2 114.5h0M216.8 125.7h0M231.3 103.2h0M251.2 88.9h0M227.3 117.4h0M267.1 102.1h0M231.3 122.5h0M247.2 112.1h0M247.2 100.9h0M330.8 95.1h0M259.2 87.7h0M227.3 128.7h0M287.0 87.3h0M295.0 74.9h0M283.0 80.7h0M214.7 129.9h0M299.0 69.6h0M239.3 92.1h0M291.0 106.9h0M291.0 79.4h0M283.0 96.6h0M227.3 117.2h0M251.2 118.8h0M231.3 128.9h0M291.0 117.1h0M225.3 134.4h0M259.2 129.6h0M283.0 111.5h0M291.0 83.4h0M259.2 102.9h0M227.3 146.3h0M314.9 111.4h0M247.2 94.6h0M263.1 102.4h0M213.2 132.6h0M247.2 117.4h0M302.9 101.6h0M283.0 118.7h0M283.0 88.0h0M267.1 146.9h0M231.3 133.5h0M239.3 100.9h0M318.9 69.7h0M227.3 122.7h0M279.1 117.2h0M251.2 82.8h0M283.0 92.9h0M235.3 122.8h0M227.3 142.7h0M267.1 101.9h0M243.2 142.5h0M291.0 115.4h0M349.1 120.7h0M231.3 134.1h0M243.2 108.3h0M235.3 125.7h0M255.2 116.8h0M243.2 119.8h0M275.1 91.2h0M251.2 91.7h0M267.1 120.4h0M306.9 87.6h0M306.9 140.7h0M235.3 122.2h0M243.2 116.5h0M271.1 96.1h0M259.2 120.0h0M219.4 136.6h0M283.0 66.9h0M291.0 107.1h0M259.2 74.4h0M231.3 100.8h0M283.0 77.4h0M223.3 125.1h0M223.3 138.4h0M271.1 87.5h0M259.2 135.7h0M349.1 59.0h0M243.2 122.6h0M235.3 143.3h0M251.2 148.5h0M314.9 105.7h0M283.0 112.6h0M214.1 137.5h0M231.3 139.2h0M310.9 19.6h0M271.1 93.8h0M259.2 114.8h0M227.3 95.0h0M239.3 51.5h0M211.4 143.1h0M299.0 73.9h0M338.8 34.7h0M267.1 131.3h0M291.0 112.6h0M231.3 125.7h0M243.2 98.1h0M275.1 74.9h0M283.0 92.6h0M275.1 102.7h0M227.3 138.9h0M243.2 96.1h0M283.0 90.5h0M306.9 56.3h0M231.3 132.6h0M259.2 101.1h0M275.1 90.1h0M349.1 20.3h0M283.0 86.8h0M259.2 89.8h0M283.0 126.9h0M267.1 99.9h0M227.3 121.4h0M239.3 135.4h0M275.1 124.4h0M279.1 64.7h0M259.2 116.2h0M243.2 128.3h0M223.3 145.3h0M287.0 104.5h0M235.3 137.7h0M283.0 114.8h0M302.9 71.8h0M291.0 71.0h0M275.1 113.0h0M223.3 136.5h0M283.0 102.1h0M349.1 88.9h0M247.2 121.4h0M299.0 81.4h0M267.1 129.1h0M291.0 81.2h0M283.0 103.7h0M247.2 115.2h0M263.1 124.6h0M227.3 104.9h0M231.3 133.8h0M243.2 128.3h0M283.0 89.7h0M255.2 119.9h0M306.9 103.6h0M279.1 106.3h0M330.8 43.9h0M291.0 88.6h0M259.2 125.1h0M227.3 123.2h0M263.1 98.3h0M267.1 97.5h0M227.3 113.9h0M235.3 116.6h0M349.1 61.5h0M291.0 75.2h0M251.2 127.5h0M219.4 100.8h0M243.2 119.9h0M267.1 101.6h0M334.8 78.1h0M219.4 128.4h0M283.0 99.7h0M326.8 64.4h0M334.8 87.3h0M275.1 137.8h0M291.0 75.9h0M283.0 89.2h0M211.4 129.6h0M243.2 146.3h0M302.9 89.3h0M227.3 107.7h0M235.3 139.5h0M275.1 105.1h0M322.8 97.6h0M251.2 106.3h0M275.1 112.7h0M349.1 14.0h0M291.0 84.1h0M211.4 147.7h0M279.1 108.9h0M217.6 27.3h0M218.6 43.2h0M227.1 40.1h0M229.7 40.1h0M242.9 31.3h0M247.0 36.9h0M251.2 36.9h0M251.2 38.5h0M255.2 39.3h0M258.8 37.7h0M251.2 52.0h0M258.8 53.6h0M255.2 48.0h0M258.8 48.0h0M267.1 24.9h0M267.1 36.9h0M267.1 40.1h0M267.1 44.0h0M271.1 33.7h0M271.1 43.2h0M275.1 17.0h0M279.1 27.3h0M283.0 18.6h0M287.0 12.2h0M275.1 35.3h0M283.0 36.9h0M283.0 43.2h0M283.0 46.4h0M243.2 60.8h0M235.3 65.5h0M239.3 64.7h0M267.1 52.0h0M267.1 56.8h0M275.1 54.4h0M275.1 58.4h0M299.0 12.2h0M291.0 30.5h0M295.0 32.9h0M219.4 76.7h0M219.4 79.1h0M214.6 75.1h0" stroke="#0867b9" stroke-width="2.1" stroke-linecap="round" fill="none"/><path d="M204.8 156.5L356.1 5.4" stroke="#404040" stroke-width="1.0" fill="none"/><path d="M204.5 5.0H356.5V156.8" stroke="#dcdcdc" stroke-width="0.6" fill="none"/><path d="M204.5 5.0V156.8H356.5" stroke="#9a9a9a" stroke-width="1.2" fill="none"/><path d="M211.4 156.8v-1.2M204.5 150.7h1.2M227.3 156.8v-1.2M204.5 134.8h1.2M243.2 156.8v-1.2M204.5 118.9h1.2M259.2 156.8v-1.2M204.5 102.9h1.2M275.1 156.8v-1.2M204.5 87.0h1.2M291.0 156.8v-1.2M204.5 71.1h1.2M306.9 156.8v-1.2M204.5 55.2h1.2M322.8 156.8v-1.2M204.5 39.3h1.2M338.8 156.8v-1.2M204.5 23.3h1.2M354.7 156.8v-1.2M204.5 7.4h1.2" stroke="#9a9a9a" stroke-width="0.7" fill="none"/><g font-family="Liberation Sans, sans-serif" font-size="4.5" fill="#333" stroke="#333" stroke-width="0.12"><text x="211.4" y="163.9" text-anchor="middle">0</text><text x="202.9" y="152.3" text-anchor="end">0</text><text x="227.3" y="163.9" text-anchor="middle">2</text><text x="202.9" y="136.4" text-anchor="end">2</text><text x="243.2" y="163.9" text-anchor="middle">4</text><text x="202.9" y="120.5" text-anchor="end">4</text><text x="259.2" y="163.9" text-anchor="middle">6</text><text x="202.9" y="104.6" text-anchor="end">6</text><text x="275.1" y="163.9" text-anchor="middle">8</text><text x="202.9" y="88.6" text-anchor="end">8</text><text x="291.0" y="163.9" text-anchor="middle">10</text><text x="202.9" y="72.7" text-anchor="end">10</text><text x="306.9" y="163.9" text-anchor="middle">12</text><text x="202.9" y="56.8" text-anchor="end">12</text><text x="322.8" y="163.9" text-anchor="middle">14</text><text x="202.9" y="40.9" text-anchor="end">14</text><text x="338.8" y="163.9" text-anchor="middle">16</text><text x="202.9" y="25.0" text-anchor="end">16</text><text x="354.7" y="163.9" text-anchor="middle">18</text><text x="202.9" y="9.0" text-anchor="end">18</text></g><text x="266.3" y="169.8" textLength="28.4" lengthAdjust="spacingAndGlyphs" font-family="Liberation Sans, sans-serif" font-size="4.9" fill="#333" stroke="#333" stroke-width="0.12">True response</text><text transform="translate(195.6 100.9) rotate(-90)" textLength="39.4" lengthAdjust="spacingAndGlyphs" font-family="Liberation Sans, sans-serif" font-size="4.9" fill="#333" stroke="#333" stroke-width="0.12">Predicted response</text><rect x="211.2" y="8.2" width="45.2" height="10.7" fill="#fff" stroke="#8a8a8a" stroke-width="0.6"/><path d="M219.1 11.2h0" stroke="#0867b9" stroke-width="2.1" stroke-linecap="round"/><path d="M213.2 16.1H225.4" stroke="#666" stroke-width="1.0"/><text x="226.1" y="12.5" textLength="21.6" lengthAdjust="spacingAndGlyphs" font-family="Liberation Sans, sans-serif" font-size="3.65" fill="#222" stroke="#222" stroke-width="0.1">Observations</text><text x="226.1" y="17.4" textLength="28.9" lengthAdjust="spacingAndGlyphs" font-family="Liberation Sans, sans-serif" font-size="3.7" fill="#222" stroke="#222" stroke-width="0.1">Perfect prediction</text></g>
<g><rect x="376.5" y="5.5" width="167.3" height="162.8" fill="#f0f0f0"/><rect x="389.3" y="6.6" width="150.4" height="149.1" fill="#fff"/><path d="M393.2 6.6V155.7M389.3 152.5H539.7M421.6 6.6V155.7M389.3 124.2H539.7M450.0 6.6V155.7M389.3 95.9H539.7M478.5 6.6V155.7M389.3 67.6H539.7M506.9 6.6V155.7M389.3 39.3H539.7M535.3 6.6V155.7M389.3 11.0H539.7" stroke="#eeeeee" stroke-width="0.7" fill="none"/><path d="M433.0 115.0h0M444.3 103.6h0M478.5 72.5h0M464.2 68.1h0M433.0 112.3h0M455.7 87.5h0M458.6 94.5h0M438.7 92.7h0M472.8 69.3h0M433.0 107.9h0M452.9 88.0h0M461.4 110.8h0M455.7 78.5h0M464.2 105.0h0M472.8 83.6h0M498.3 52.3h0M444.3 110.2h0M467.1 82.4h0M472.8 85.5h0M444.3 96.4h0M423.2 111.8h0M520.0 37.9h0M447.2 91.4h0M447.2 82.7h0M501.2 91.6h0M464.2 100.5h0M455.7 93.2h0M478.5 75.5h0M427.3 118.7h0M472.8 79.9h0M450.0 104.7h0M433.0 97.6h0M469.9 84.7h0M512.6 51.0h0M441.5 104.2h0M467.1 104.6h0M447.2 82.4h0M472.8 75.5h0M472.8 76.7h0M441.5 84.1h0M478.5 77.3h0M469.9 78.0h0M472.8 72.1h0M478.5 82.9h0M455.7 95.0h0M475.6 100.1h0M495.5 76.1h0M433.0 104.9h0M484.1 66.2h0M452.9 81.9h0M458.6 85.8h0M438.7 100.6h0M472.8 94.7h0M444.3 112.1h0M495.5 60.3h0M444.3 87.5h0M461.4 102.8h0M452.9 104.0h0M467.1 61.4h0M438.7 98.9h0M438.7 95.2h0M472.8 71.3h0M475.6 88.3h0M464.2 100.6h0M512.6 84.3h0M441.5 107.2h0M484.1 90.3h0M438.7 69.0h0M509.7 76.2h0M467.1 91.6h0M467.1 88.4h0M520.0 79.7h0M478.5 80.7h0M478.5 81.2h0M430.1 106.2h0M450.0 105.5h0M433.0 112.7h0M438.7 113.4h0M441.5 111.0h0M489.8 64.6h0M435.8 107.3h0M447.2 88.3h0M458.6 106.3h0M484.1 53.2h0M509.7 66.4h0M472.8 81.5h0M441.5 83.5h0M461.4 86.9h0M472.8 95.3h0M430.1 103.2h0M469.9 75.5h0M450.0 100.8h0M464.2 78.4h0M469.9 80.3h0M469.9 69.3h0M461.4 96.9h0M461.4 94.3h0M438.7 107.2h0M458.6 83.1h0M435.8 99.2h0M458.6 88.6h0M461.4 82.1h0M478.5 97.8h0M452.9 99.9h0M427.3 117.6h0M461.4 105.1h0M438.7 108.2h0M472.8 104.2h0M452.9 90.0h0M450.0 90.5h0M506.9 59.2h0M452.9 104.9h0M450.0 86.8h0M450.0 82.5h0M458.6 82.0h0M433.0 94.5h0M461.4 78.5h0M461.4 86.8h0M472.8 71.6h0M492.7 70.2h0M484.1 60.0h0M472.8 85.5h0M478.5 84.7h0M478.5 96.8h0M444.3 107.7h0M458.6 107.5h0M450.0 104.2h0M444.3 108.3h0M464.2 101.3h0M447.2 82.0h0M467.1 89.8h0M464.2 87.5h0M433.0 116.9h0M455.7 90.0h0M452.9 83.6h0M472.8 89.9h0M433.0 106.1h0M438.7 88.2h0M461.4 45.4h0M452.9 87.5h0M469.9 96.9h0M450.0 85.3h0M438.7 106.8h0M512.6 65.9h0M444.3 86.3h0M438.7 105.0h0M444.3 119.9h0M450.0 106.2h0M441.5 102.7h0M461.4 85.2h0M481.3 74.6h0M435.8 108.7h0M455.7 100.7h0M469.9 91.3h0M495.5 54.7h0M520.0 20.6h0M438.7 101.1h0M461.4 85.4h0M495.5 89.9h0M430.1 112.8h0M464.2 85.4h0M438.7 110.2h0M475.6 78.8h0M481.3 75.2h0M461.4 90.2h0M425.7 111.3h0M430.1 106.5h0M455.7 102.5h0M484.1 54.6h0M444.3 81.9h0M469.9 84.1h0M452.9 81.1h0M444.3 110.1h0M472.8 102.9h0M447.2 99.1h0M450.0 101.6h0M475.6 63.3h0M458.6 107.7h0M478.5 85.6h0M461.4 77.5h0M438.7 94.9h0M455.7 110.6h0M495.5 77.8h0M461.4 81.4h0M509.7 64.2h0M422.6 111.5h0M450.0 105.6h0M475.6 66.9h0M472.8 72.8h0M461.4 86.6h0M469.9 102.9h0M495.5 57.1h0M472.8 87.2h0M461.4 82.9h0M461.4 99.1h0M469.9 93.6h0M450.0 85.0h0M469.9 78.5h0M467.1 98.3h0M478.5 66.2h0M458.6 80.4h0M427.3 121.3h0M461.4 106.9h0M489.8 62.0h0M467.1 80.5h0M467.1 74.7h0M452.9 79.3h0M450.0 99.3h0M472.8 92.4h0M433.0 128.2h0M489.8 83.9h0M495.5 53.1h0M504.0 48.4h0M435.8 123.3h0M435.8 96.4h0M501.2 57.8h0M452.9 84.7h0M444.3 102.7h0M450.0 96.7h0M469.9 97.1h0M438.7 119.3h0M458.6 95.4h0M469.9 72.1h0M472.8 80.0h0M421.6 110.9h0M478.5 80.4h0M455.7 82.5h0M455.7 118.5h0M461.4 79.8h0M444.3 114.6h0M501.2 69.8h0M441.5 110.2h0M461.4 78.5h0M438.7 96.1h0M467.1 70.9h0M506.9 12.7h0M495.5 52.8h0M435.8 115.6h0M467.1 76.5h0M501.2 44.9h0M438.7 103.1h0M455.7 84.7h0M472.8 82.9h0M472.8 68.1h0M455.7 81.7h0M467.1 77.3h0M469.9 90.5h0M450.0 107.1h0M467.1 98.2h0M464.2 100.2h0M472.8 81.6h0M461.4 73.3h0M450.0 109.1h0M455.7 99.0h0M512.6 54.5h0M438.7 103.3h0M438.7 115.3h0M421.6 118.5h0M484.1 66.4h0M520.0 33.6h0M444.3 99.7h0M444.3 115.9h0M438.7 108.8h0M467.1 84.0h0M458.6 97.0h0M478.5 74.7h0M441.5 128.6h0M495.5 57.6h0M455.7 82.7h0M478.5 86.3h0M478.5 54.3h0M506.9 30.8h0M458.6 80.7h0M467.1 94.3h0M461.4 96.7h0M438.7 97.8h0M461.4 103.6h0M512.6 57.5h0M506.9 68.9h0M427.3 108.5h0M469.9 91.9h0M450.0 90.1h0M435.8 95.0h0M438.7 104.6h0M478.5 75.4h0M504.0 95.8h0M461.4 59.2h0M450.0 85.5h0M461.4 95.8h0M478.5 68.2h0M472.8 80.1h0M430.1 99.2h0M441.5 103.5h0M489.8 78.9h0M458.6 110.1h0M469.9 95.5h0M478.5 94.1h0M467.1 46.9h0M472.8 87.3h0M461.4 96.7h0M441.5 96.4h0M438.7 91.4h0M520.0 31.5h0M426.5 110.0h0M472.8 93.7h0M495.5 71.9h0M444.3 116.5h0M430.1 110.4h0M452.9 94.1h0M450.0 87.0h0M455.7 112.8h0M455.7 85.4h0M487.0 51.7h0M435.8 93.7h0M487.0 80.6h0M430.1 103.4h0M481.3 62.6h0M450.0 93.7h0M472.8 83.4h0M423.3 119.0h0M455.7 83.3h0M469.9 75.4h0M467.1 76.4h0M478.5 78.8h0M438.7 105.3h0M452.9 94.1h0M467.1 83.8h0M427.3 113.6h0M478.5 58.3h0M455.7 88.5h0M444.3 76.7h0M441.5 93.5h0M467.1 65.2h0M430.1 111.7h0M444.3 78.3h0M447.2 113.9h0M444.3 96.9h0M472.8 70.2h0M467.1 94.1h0M506.9 83.0h0M472.8 86.2h0M444.3 104.8h0M450.0 80.1h0M435.8 104.6h0M444.3 89.9h0M467.1 86.8h0M472.8 74.3h0M447.2 92.0h0M450.0 89.1h0M478.5 54.3h0M504.0 65.5h0M433.0 96.1h0M433.0 101.0h0M475.6 65.5h0M458.6 104.9h0M455.7 106.9h0M467.1 84.7h0M475.6 73.3h0M431.5 117.0h0M504.0 63.2h0M504.0 71.8h0M455.7 80.4h0M455.7 88.9h0M444.3 87.0h0M464.2 56.5h0M438.7 103.4h0M461.4 75.3h0M506.9 45.1h0M461.4 102.4h0M478.5 68.5h0M438.7 70.2h0M495.5 71.7h0M435.8 106.5h0M441.5 104.6h0M472.8 82.9h0M447.2 99.4h0M435.8 89.5h0M433.0 97.1h0M478.5 64.9h0M427.3 116.6h0M430.1 103.7h0M487.0 60.6h0M478.5 88.6h0M450.0 108.7h0M438.7 95.8h0M489.8 58.6h0M478.5 90.6h0M469.9 76.7h0M461.4 80.7h0M461.4 93.3h0M520.0 29.8h0M461.4 97.3h0M433.0 97.5h0M433.0 95.6h0M467.1 76.5h0M472.8 64.5h0M467.1 74.1h0M472.8 84.8h0M444.3 109.9h0M450.0 100.1h0M444.3 97.4h0M450.0 91.0h0M444.3 92.2h0M478.5 99.4h0M438.7 112.1h0M441.5 93.2h0M472.8 86.7h0M452.9 89.8h0M450.0 94.7h0M520.0 33.2h0M501.2 42.9h0M441.5 94.5h0M438.7 95.8h0M458.6 80.9h0M464.2 82.0h0M450.0 108.1h0M467.1 84.5h0M469.9 76.5h0M478.5 96.9h0M444.3 111.7h0M467.1 71.5h0M430.1 115.3h0M430.1 115.4h0M430.1 114.2h0M435.8 94.2h0M478.5 78.5h0M450.0 97.1h0M458.6 86.8h0M455.7 91.6h0M441.5 96.8h0M430.1 116.3h0M438.7 110.0h0M489.8 41.9h0M450.0 84.2h0M455.7 82.8h0M444.3 106.0h0M472.8 78.5h0M472.8 65.2h0M450.0 93.5h0M461.4 91.1h0M452.9 107.1h0M464.2 93.4h0M467.1 84.9h0M464.2 73.3h0M501.2 74.6h0M492.7 53.2h0M430.1 106.5h0M450.0 84.3h0M428.7 108.5h0M450.0 101.1h0M478.5 80.9h0M469.9 76.8h0M464.2 79.3h0M433.0 95.3h0M478.5 77.3h0M467.1 73.5h0M447.2 88.7h0M478.5 78.1h0M427.3 111.4h0M438.7 97.6h0M478.5 96.8h0M430.1 106.6h0M435.8 102.2h0M461.4 80.9h0M472.8 83.3h0M464.2 89.4h0M427.3 105.9h0M444.3 103.6h0M472.8 72.2h0M450.0 114.1h0M438.7 96.3h0M423.2 113.2h0M444.3 107.5h0M512.6 74.3h0M430.1 104.0h0M461.4 81.0h0M506.9 62.5h0M472.8 98.8h0M444.3 96.6h0M467.1 60.0h0M435.8 105.1h0M458.6 86.1h0M444.3 66.6h0M495.5 83.4h0M489.8 82.0h0M475.6 96.3h0M450.0 103.0h0M478.5 88.7h0M520.0 76.5h0M450.0 97.7h0M461.4 90.4h0M438.7 97.5h0M433.0 103.2h0M472.8 78.1h0M430.1 101.9h0M467.1 69.6h0M433.0 108.0h0M469.9 73.0h0M475.6 69.4h0M487.0 75.3h0M452.9 88.6h0M452.9 78.9h0M452.9 91.2h0M472.8 83.9h0M478.5 94.1h0M435.8 107.4h0M450.0 100.8h0M430.1 102.4h0M444.3 99.3h0M472.8 67.4h0M481.3 79.9h0M520.0 37.5h0M431.5 109.9h0M452.9 92.6h0M495.5 65.0h0M461.4 83.8h0M450.0 94.9h0M478.5 44.2h0M489.8 88.5h0M438.7 93.5h0M461.4 75.6h0M438.7 87.0h0M438.7 101.9h0M461.4 83.5h0M444.3 93.5h0M478.5 70.0h0M450.0 82.1h0M438.7 91.2h0M467.1 67.1h0M444.3 94.3h0M431.5 111.2h0M520.0 86.7h0M438.7 98.2h0M435.8 108.3h0M458.6 80.9h0M423.3 110.3h0M478.5 86.8h0M433.0 106.1h0M428.7 113.3h0M509.7 63.4h0M461.4 103.9h0M512.6 55.5h0M501.2 43.0h0M472.8 71.1h0M427.3 110.3h0M467.1 84.5h0M430.1 106.9h0M426.6 115.0h0M484.1 55.8h0M447.2 106.9h0M472.8 68.3h0M461.4 103.5h0M478.5 90.2h0M467.1 84.2h0M520.0 25.0h0M455.7 86.2h0M484.1 84.4h0M478.5 92.4h0M464.2 73.0h0M461.4 102.5h0M455.7 101.8h0M467.1 77.5h0M438.7 88.9h0M455.7 87.2h0M467.1 93.2h0M447.2 104.7h0M441.5 97.6h0M433.0 117.8h0M478.5 89.3h0M495.5 66.9h0M478.5 82.2h0M472.8 43.2h0M467.1 104.6h0M430.1 120.4h0M495.5 50.6h0M455.7 110.4h0M472.8 84.1h0M435.8 109.6h0M472.8 97.0h0M438.7 100.3h0M504.0 13.9h0M472.8 77.6h0M461.4 90.0h0M467.1 94.2h0M444.3 89.8h0M458.6 105.4h0M433.0 114.7h0M444.3 95.5h0M444.3 119.4h0M438.7 109.8h0M455.7 92.6h0M430.1 115.9h0M427.3 119.0h0M450.0 117.3h0M520.0 29.8h0M472.8 87.8h0M455.7 87.8h0M438.7 111.8h0M435.8 95.6h0M455.7 95.1h0M467.1 72.7h0M478.5 77.7h0M455.7 94.7h0M484.1 69.1h0M478.5 72.9h0M484.1 68.0h0M450.0 77.0h0M455.7 71.8h0M438.7 110.8h0M464.2 85.3h0M428.7 108.6h0M455.7 90.0h0M438.7 116.8h0M458.6 74.3h0M438.7 107.7h0M422.8 114.0h0M455.7 66.1h0M455.7 99.9h0M461.4 76.1h0M435.8 119.3h0M458.6 90.5h0M447.2 88.2h0M433.0 108.5h0M455.7 80.8h0M469.9 82.4h0M447.2 94.8h0M472.8 71.6h0M478.5 74.7h0M421.6 120.5h0M441.5 108.0h0M444.3 83.1h0M467.1 93.0h0M458.6 83.7h0M464.2 98.3h0M433.0 113.0h0M444.3 106.0h0M438.7 98.7h0M472.8 83.7h0M472.8 105.8h0M447.2 97.8h0M495.5 39.6h0M435.8 96.0h0M421.6 115.6h0M450.0 106.3h0M469.9 94.6h0M492.7 67.1h0M461.4 53.1h0M435.8 102.3h0M467.1 102.3h0M421.6 113.4h0M478.5 105.3h0M450.0 106.2h0M433.0 118.3h0M438.7 112.3h0M478.5 82.0h0M506.9 35.0h0M438.7 100.5h0M520.0 19.0h0M489.8 84.4h0M450.0 85.5h0M430.1 103.2h0M438.7 106.6h0M455.7 101.5h0M441.5 87.9h0M438.7 94.1h0M444.3 96.9h0M495.5 85.5h0M427.3 104.4h0M512.6 64.4h0M455.7 111.0h0M472.8 58.8h0M461.4 81.3h0M487.0 89.2h0M438.7 82.2h0M444.3 115.5h0M461.4 83.6h0M461.4 72.3h0M450.0 106.4h0M447.2 113.2h0M433.0 118.2h0M461.4 83.9h0M478.5 34.8h0M489.8 47.8h0M455.7 94.6h0M520.0 49.4h0M509.7 73.7h0M447.2 99.9h0M435.8 112.2h0M478.5 69.8h0M487.0 90.3h0M467.1 101.3h0M509.7 58.8h0M458.6 74.5h0M461.4 90.4h0M433.0 114.4h0M450.0 105.3h0M512.6 34.8h0M433.0 99.2h0M435.8 117.2h0M427.3 111.2h0M458.6 99.5h0M467.1 96.5h0M461.4 80.8h0M495.5 88.2h0M469.9 103.7h0M467.1 76.0h0M467.1 94.7h0M461.4 83.0h0M433.0 119.0h0M433.0 110.1h0M467.1 84.0h0M441.5 102.7h0M455.7 102.6h0M467.1 72.4h0M467.1 96.0h0M444.3 95.7h0M444.3 115.9h0M438.7 92.3h0M469.9 99.5h0M472.8 79.7h0M435.8 94.5h0M444.3 98.3h0M438.7 112.0h0M467.1 91.4h0M447.2 98.6h0M495.5 53.4h0M444.3 95.0h0M467.1 68.1h0M467.1 83.3h0M487.0 70.1h0M472.8 73.3h0M512.6 58.5h0M464.2 85.0h0M423.7 107.9h0M450.0 99.1h0M472.8 86.6h0M450.0 82.2h0M469.9 69.5h0M435.8 94.5h0M467.1 94.4h0M450.0 108.7h0M492.7 46.3h0M433.0 108.3h0M450.0 89.5h0M475.6 64.6h0M452.9 110.4h0M455.7 104.6h0M450.0 97.0h0M433.0 100.4h0M450.0 110.2h0M495.5 68.2h0M475.6 90.6h0M447.2 92.9h0M469.9 92.1h0M478.5 79.5h0M478.5 80.4h0M430.1 106.0h0M438.7 109.2h0M498.3 56.4h0M444.3 92.4h0M478.5 80.5h0M467.1 70.5h0M495.5 47.1h0M433.0 104.1h0M481.3 83.8h0M495.5 66.2h0M444.3 110.0h0M472.8 81.8h0M424.5 120.4h0M489.8 82.1h0M455.7 108.5h0M472.8 80.6h0M478.5 70.8h0M427.3 107.9h0M495.5 62.5h0M433.0 116.0h0M438.7 95.6h0M455.7 101.3h0M444.3 91.1h0M467.1 84.9h0M438.7 111.9h0M467.1 86.1h0M475.6 90.5h0M504.0 64.7h0M452.9 108.7h0M444.3 119.7h0M464.2 88.0h0M467.1 78.6h0M512.6 56.6h0M464.2 88.7h0M455.7 93.7h0M447.2 93.7h0M472.8 68.3h0M467.1 82.5h0M433.0 105.0h0M447.2 83.5h0M438.7 97.2h0M458.6 84.8h0M450.0 76.7h0M438.7 103.4h0M461.4 93.5h0M469.9 36.6h0M450.0 81.8h0M478.5 83.6h0M433.0 115.0h0M430.1 118.5h0M472.8 85.6h0M461.4 76.6h0M475.6 111.9h0M481.3 69.8h0M461.4 71.3h0M478.5 79.3h0M467.1 72.4h0M461.4 96.9h0M461.4 79.4h0M520.0 57.7h0M450.0 74.8h0M455.7 98.9h0M455.7 64.9h0M467.1 102.1h0M430.1 101.5h0M467.1 69.4h0M427.3 111.2h0M450.0 104.9h0M455.7 105.8h0M461.4 81.1h0M464.2 73.0h0M467.1 86.3h0M427.3 108.8h0M450.0 78.1h0M472.8 97.2h0M455.7 73.5h0M478.5 98.6h0M461.4 91.5h0M464.2 84.5h0M469.9 27.5h0M520.0 34.8h0M423.8 115.2h0M435.8 98.8h0M433.0 97.6h0M441.5 94.0h0M427.3 105.5h0M520.0 14.4h0M438.7 96.7h0M455.7 80.0h0M495.5 68.5h0M455.7 84.6h0M444.3 100.5h0M444.3 90.0h0M455.7 101.5h0M447.2 93.0h0M455.7 100.6h0M455.7 91.9h0M433.0 106.9h0M495.5 54.8h0M509.7 25.2h0M461.4 61.6h0M433.0 103.4h0M506.9 43.0h0M450.0 81.8h0M450.0 80.6h0M444.3 103.2h0M512.6 68.6h0M472.8 95.1h0M447.2 91.4h0M450.0 104.2h0M455.7 85.0h0M450.0 105.0h0M469.9 84.3h0M492.7 57.1h0M428.7 103.1h0M484.1 65.2h0M484.1 41.8h0M441.5 112.7h0M520.0 37.7h0M495.5 52.2h0M472.8 98.2h0M433.0 100.5h0M455.7 101.0h0M475.6 68.1h0M461.4 103.2h0M430.1 116.9h0M475.6 97.2h0M455.7 98.6h0M441.5 113.5h0M450.0 83.4h0M433.0 102.0h0M450.0 82.9h0M421.6 116.1h0M520.0 33.9h0M435.8 93.2h0M450.0 102.6h0M447.2 105.0h0M455.7 87.2h0M450.0 89.3h0M501.2 69.0h0M438.7 113.8h0M520.0 31.4h0M452.9 83.5h0M520.0 16.4h0M450.0 91.5h0M433.0 107.6h0M478.5 86.5h0M438.7 94.1h0M472.8 75.9h0M495.5 46.7h0M441.5 88.6h0M447.2 115.4h0M461.4 96.7h0M489.8 47.5h0M489.8 80.8h0M458.6 104.3h0M461.4 72.0h0M478.5 63.7h0M438.7 108.6h0M512.6 39.8h0M489.8 89.1h0M444.3 93.3h0M467.1 80.4h0M472.8 92.7h0M467.1 75.0h0M433.0 125.8h0M430.1 108.1h0M441.5 118.1h0M433.0 88.4h0M458.6 82.0h0M472.8 97.2h0M464.2 97.0h0M506.9 80.0h0M458.6 104.0h0M455.7 79.5h0M435.8 120.2h0M498.3 49.8h0M469.9 75.5h0M520.0 59.9h0M481.3 59.9h0M433.0 88.9h0M467.1 85.0h0M458.6 83.0h0M475.6 75.6h0M430.1 105.8h0M469.9 84.8h0M467.1 68.1h0M450.0 100.2h0M435.8 100.3h0M472.8 82.9h0M430.1 106.1h0M450.0 80.5h0M427.3 117.4h0M447.2 115.0h0M444.3 99.9h0M467.1 89.9h0M472.8 82.5h0M472.8 76.3h0M455.7 84.2h0M475.6 88.6h0M469.9 72.9h0M461.4 97.8h0M478.5 86.5h0M520.0 34.4h0M458.6 85.6h0M504.0 24.1h0M467.1 95.9h0M452.9 87.4h0M458.6 82.3h0M467.1 70.2h0M447.2 111.6h0M512.6 45.3h0M450.0 97.7h0M467.1 81.7h0M489.8 89.1h0M478.5 70.5h0M469.9 96.8h0M472.8 58.9h0M475.6 99.2h0M464.2 89.9h0M455.7 106.3h0M501.2 13.1h0M438.7 106.4h0M435.8 95.2h0M447.2 93.3h0M444.3 95.0h0M520.0 41.7h0M461.4 80.7h0M495.5 65.9h0M461.4 86.2h0M441.5 115.7h0M495.5 53.4h0M495.5 68.2h0M435.8 94.2h0M475.6 68.9h0M464.2 71.7h0M438.7 101.5h0M450.0 90.9h0M472.8 73.0h0M438.7 110.7h0M467.1 58.2h0M461.4 82.8h0M461.4 86.4h0M438.7 111.5h0M478.5 96.8h0M461.4 108.1h0M472.8 88.6h0M467.1 100.2h0M450.0 94.2h0M472.8 101.1h0M452.9 123.0h0M512.6 33.0h0M455.7 88.8h0M438.7 99.8h0M455.7 97.8h0M452.9 96.4h0M492.7 79.0h0M447.2 89.9h0M501.2 48.9h0M427.3 114.3h0M435.8 112.7h0M444.3 98.0h0M472.8 78.6h0M467.1 84.2h0M455.7 77.8h0M455.7 93.4h0M484.1 81.1h0M441.5 96.9h0M478.5 86.9h0M450.0 104.5h0M472.8 71.9h0M478.5 95.0h0M455.7 111.4h0M438.7 101.6h0M444.3 93.0h0M444.3 89.3h0M433.0 114.0h0M455.7 83.1h0M467.1 72.2h0M452.9 111.0h0M498.3 68.6h0M481.3 71.0h0M478.5 69.2h0M478.5 94.2h0M447.2 86.4h0M475.6 74.8h0M430.1 99.2h0M427.3 111.9h0M431.5 104.2h0M447.2 93.2h0M472.8 99.3h0M427.3 112.3h0M450.0 113.6h0M467.1 97.9h0M484.1 80.7h0M461.4 92.3h0M444.3 117.4h0M433.0 116.6h0M461.4 107.5h0M478.5 74.9h0M478.5 73.6h0M467.1 90.4h0M438.7 105.3h0M433.0 121.0h0M430.1 102.3h0M444.3 111.8h0M461.4 82.8h0M438.7 105.5h0M467.1 100.5h0M447.2 118.3h0M478.5 88.4h0M461.4 74.7h0M475.6 87.8h0M444.3 96.5h0M464.2 87.9h0M501.2 74.3h0M421.6 111.3h0M512.6 72.9h0M467.1 78.8h0M520.0 83.9h0M444.3 84.8h0M458.6 100.2h0M472.8 69.7h0M467.1 73.1h0M467.1 92.3h0M489.8 65.0h0M438.7 107.9h0M472.8 90.6h0M455.7 84.3h0M506.9 59.2h0M492.7 48.0h0M455.7 67.5h0M450.0 103.1h0M501.2 76.2h0M487.0 78.8h0M478.5 93.7h0M506.9 50.0h0M492.7 54.2h0M458.6 89.1h0M450.0 90.7h0M430.1 115.1h0M455.7 89.0h0M441.5 109.0h0M472.8 87.5h0M467.1 73.4h0M481.3 58.0h0M472.8 69.0h0M444.3 90.0h0M450.0 102.7h0M461.4 86.1h0M461.4 83.2h0M487.0 57.4h0M467.1 91.2h0M450.0 127.2h0M444.3 106.0h0M464.2 67.1h0M433.0 122.1h0M455.7 91.9h0M501.2 49.5h0M512.6 64.9h0M461.4 82.6h0M461.4 108.0h0M450.0 97.3h0M464.2 104.2h0M455.7 100.1h0M467.1 83.4h0M498.3 66.5h0M475.6 84.3h0M435.8 110.1h0M438.7 107.0h0M472.8 102.1h0M520.0 28.0h0M467.1 95.2h0M484.1 77.1h0M444.3 96.7h0M444.3 112.3h0M520.0 32.6h0M495.5 48.2h0M455.7 93.7h0M478.5 76.6h0M467.1 61.5h0M478.5 55.6h0M464.2 85.9h0M472.8 62.6h0M487.0 61.4h0M455.7 105.9h0M472.8 79.3h0M504.0 38.7h0M428.7 109.1h0M444.3 108.0h0M450.0 84.8h0M464.2 68.5h0M455.7 110.5h0M487.0 44.3h0M438.7 103.1h0M447.2 102.5h0M433.0 104.6h0M438.7 108.9h0M467.1 101.1h0M430.1 110.9h0M487.0 71.1h0M475.6 67.0h0M433.0 92.0h0M478.5 89.8h0M435.8 111.2h0M461.4 83.3h0M441.5 89.5h0M438.7 97.8h0M461.4 86.1h0M495.5 63.6h0M433.0 116.8h0M441.5 115.8h0M458.6 103.8h0M498.3 68.0h0M450.0 90.7h0M495.5 63.1h0M461.4 83.6h0M455.7 79.4h0M475.6 84.8h0M438.7 119.4h0M461.4 90.6h0M427.3 107.0h0M461.4 81.5h0M520.0 89.6h0M433.0 122.9h0M433.0 103.4h0M464.2 79.6h0M512.6 39.5h0M461.4 86.2h0M504.0 68.8h0M447.2 94.7h0M520.0 43.3h0M441.5 101.9h0M478.5 92.8h0M450.0 100.0h0M478.5 90.9h0M427.3 103.3h0M447.2 93.3h0M512.6 74.5h0M478.5 70.5h0M458.6 99.3h0M450.0 79.9h0M487.0 84.6h0M438.7 96.1h0M438.7 106.2h0M430.1 93.4h0M469.9 79.4h0M506.9 72.7h0M435.8 115.0h0M475.6 79.4h0M475.6 58.5h0M438.7 115.0h0M461.4 97.4h0M464.2 73.5h0M430.1 100.5h0M487.0 63.8h0M435.8 109.7h0M438.7 93.4h0M472.8 101.2h0M461.4 105.5h0M478.5 69.3h0M467.1 61.0h0M433.0 95.7h0M455.7 85.5h0M520.0 21.5h0M447.2 105.6h0M438.7 101.4h0M501.2 80.2h0M433.0 101.2h0M452.9 95.1h0M520.0 29.4h0M489.8 72.5h0M435.8 101.4h0M433.0 104.7h0M458.6 87.9h0M472.8 83.8h0M478.5 69.4h0M438.7 109.5h0M455.7 85.2h0M455.7 81.5h0M447.2 91.0h0M469.9 73.3h0M461.4 103.7h0M455.7 79.5h0M475.6 80.9h0M447.2 79.6h0M467.1 89.3h0M478.5 57.0h0M450.0 106.3h0M427.3 114.0h0M423.0 105.9h0M478.5 68.4h0M478.5 77.3h0M472.8 79.9h0M427.3 94.2h0M444.3 98.7h0M492.7 41.7h0M461.4 80.0h0M455.7 103.6h0M520.0 37.7h0M509.7 75.3h0M444.3 83.9h0M472.8 76.6h0M478.5 81.0h0M484.1 55.2h0M506.9 35.2h0M475.6 69.1h0M431.5 107.2h0M447.2 107.1h0M438.7 113.2h0M467.1 80.9h0M461.4 91.3h0M520.0 18.4h0M444.3 112.2h0M435.8 109.6h0M427.3 86.9h0M438.7 114.2h0M501.2 61.5h0M467.1 100.4h0M444.3 82.1h0M464.2 93.1h0M467.1 84.0h0M450.0 84.4h0M421.6 120.0h0M472.8 84.8h0M464.2 82.0h0M433.0 106.8h0M461.4 72.8h0M438.7 110.5h0M455.7 99.4h0M472.8 72.1h0M467.1 107.4h0M450.0 93.1h0M475.6 98.4h0M444.3 99.5h0M467.1 103.6h0M444.3 85.9h0M467.1 116.5h0M464.2 83.5h0M467.1 74.4h0M484.1 85.9h0M478.5 41.1h0M520.0 39.5h0M441.5 59.6h0M520.0 49.6h0M469.9 79.6h0M438.7 110.1h0M423.2 114.6h0M444.3 98.1h0M455.7 81.7h0M467.1 82.0h0M501.2 52.1h0M484.1 68.3h0M512.6 77.5h0M495.5 19.1h0M495.5 50.2h0M520.0 26.2h0M475.6 70.1h0M438.7 98.7h0M464.2 107.3h0M455.7 81.7h0M472.8 85.8h0M444.3 93.4h0M512.6 45.7h0M444.3 92.4h0M455.7 79.4h0M438.7 112.5h0M512.6 46.7h0M501.2 63.3h0M492.7 83.0h0M441.5 100.3h0M450.0 103.1h0M506.9 33.0h0M495.5 77.6h0M433.0 107.8h0M455.7 127.9h0M430.1 110.6h0M478.5 96.8h0M484.1 68.6h0M481.3 64.1h0M478.5 79.2h0M455.7 100.9h0M450.0 91.9h0M469.9 102.7h0M455.7 90.5h0M504.0 56.7h0M455.7 98.9h0M455.7 94.8h0M520.0 45.6h0M444.3 91.5h0M450.0 81.7h0M433.0 106.2h0M512.6 73.7h0M461.4 79.0h0M455.7 112.7h0M501.2 64.8h0M506.9 72.9h0M441.5 97.6h0M435.8 116.1h0M495.5 71.7h0M498.3 66.5h0M461.4 97.7h0M472.8 90.0h0M427.3 109.1h0M458.6 90.7h0M433.0 105.8h0M435.8 103.5h0M430.1 106.3h0M461.4 86.0h0M464.2 98.3h0M455.7 103.1h0M472.8 82.0h0M433.0 94.2h0M444.3 100.0h0M438.7 92.1h0M461.4 78.8h0M478.5 72.3h0M438.7 99.4h0M501.2 46.2h0M450.0 83.7h0M438.7 115.6h0M444.3 108.4h0M475.6 73.5h0M425.5 109.4h0M455.7 81.6h0M444.3 108.3h0M461.4 75.8h0M452.9 116.9h0M433.0 93.7h0M438.7 91.8h0M504.0 60.4h0M461.4 101.0h0M512.6 32.5h0M498.3 79.2h0M467.1 82.2h0M506.9 29.6h0M455.7 92.8h0M447.2 91.9h0M478.5 75.6h0M450.0 106.9h0M444.3 110.1h0M458.6 109.3h0M452.9 96.8h0M421.6 145.7h0M421.6 149.1h0M421.6 131.0h0M423.3 134.4h0M425.0 136.1h0M422.7 127.6h0M438.7 30.2h0M479.6 16.7h0M421.6 69.9h0M421.6 79.5h0" stroke="#0867b9" stroke-width="2.1" stroke-linecap="round" fill="none"/><path d="M389.6 155.4L539.3 7.0" stroke="#404040" stroke-width="1.0" fill="none"/><path d="M389.3 6.6H539.7V155.7" stroke="#dcdcdc" stroke-width="0.6" fill="none"/><path d="M389.3 6.6V155.7H539.7" stroke="#9a9a9a" stroke-width="1.2" fill="none"/><path d="M393.2 155.7v-1.2M389.3 152.5h1.2M421.6 155.7v-1.2M389.3 124.2h1.2M450.0 155.7v-1.2M389.3 95.9h1.2M478.5 155.7v-1.2M389.3 67.6h1.2M506.9 155.7v-1.2M389.3 39.3h1.2M535.3 155.7v-1.2M389.3 11.0h1.2" stroke="#9a9a9a" stroke-width="0.7" fill="none"/><g font-family="Liberation Sans, sans-serif" font-size="4.5" fill="#333" stroke="#333" stroke-width="0.12"><text x="393.2" y="162.8" text-anchor="middle">-5</text><text x="387.7" y="154.1" text-anchor="end">-5</text><text x="421.6" y="162.8" text-anchor="middle">0</text><text x="387.7" y="125.8" text-anchor="end">0</text><text x="450.0" y="162.8" text-anchor="middle">5</text><text x="387.7" y="97.5" text-anchor="end">5</text><text x="478.5" y="162.8" text-anchor="middle">10</text><text x="387.7" y="69.2" text-anchor="end">10</text><text x="506.9" y="162.8" text-anchor="middle">15</text><text x="387.7" y="40.9" text-anchor="end">15</text><text x="535.3" y="162.8" text-anchor="middle">20</text><text x="387.7" y="12.6" text-anchor="end">20</text></g><text x="450.3" y="168.7" textLength="28.4" lengthAdjust="spacingAndGlyphs" font-family="Liberation Sans, sans-serif" font-size="4.9" fill="#333" stroke="#333" stroke-width="0.12">True response</text><text transform="translate(381.3 100.9) rotate(-90)" textLength="39.4" lengthAdjust="spacingAndGlyphs" font-family="Liberation Sans, sans-serif" font-size="4.9" fill="#333" stroke="#333" stroke-width="0.12">Predicted response</text><rect x="394.1" y="9.8" width="44.5" height="10.8" fill="#fff" stroke="#8a8a8a" stroke-width="0.6"/><path d="M402.0 12.8h0" stroke="#0867b9" stroke-width="2.1" stroke-linecap="round"/><path d="M396.1 17.8H408.3" stroke="#666" stroke-width="1.0"/><text x="409.0" y="14.1" textLength="21.6" lengthAdjust="spacingAndGlyphs" font-family="Liberation Sans, sans-serif" font-size="3.65" fill="#222" stroke="#222" stroke-width="0.1">Observations</text><text x="409.0" y="19.1" textLength="28.9" lengthAdjust="spacingAndGlyphs" font-family="Liberation Sans, sans-serif" font-size="3.7" fill="#222" stroke="#222" stroke-width="0.1">Perfect prediction</text></g>
<g><rect x="13.5" y="192.3" width="152.3" height="150.2" fill="#f0f0f0"/><rect x="25.3" y="193.2" width="137.4" height="137.1" fill="#fff"/><path d="M31.5 193.2V330.3M25.3 324.7H162.7M45.9 193.2V330.3M25.3 310.3H162.7M60.3 193.2V330.3M25.3 295.9H162.7M74.6 193.2V330.3M25.3 281.6H162.7M89.0 193.2V330.3M25.3 267.2H162.7M103.4 193.2V330.3M25.3 252.8H162.7M117.8 193.2V330.3M25.3 238.4H162.7M132.2 193.2V330.3M25.3 224.0H162.7M146.5 193.2V330.3M25.3 209.7H162.7M160.9 193.2V330.3M25.3 195.3H162.7" stroke="#eeeeee" stroke-width="0.7" fill="none"/><path d="M114.2 258.3h0M81.8 273.7h0M155.9 243.3h0M45.9 308.7h0M89.0 279.9h0M67.5 283.2h0M103.4 273.2h0M53.1 299.0h0M125.0 243.9h0M81.8 282.5h0M78.2 261.9h0M74.6 275.1h0M103.4 253.6h0M155.9 261.3h0M67.5 292.1h0M142.9 267.7h0M146.5 233.7h0M53.1 283.6h0M89.0 270.5h0M96.2 268.3h0M114.2 263.4h0M92.6 272.0h0M49.5 287.3h0M78.2 288.9h0M78.2 274.8h0M78.2 269.0h0M135.8 249.8h0M67.5 294.5h0M56.7 299.8h0M81.8 280.4h0M89.0 249.3h0M107.0 286.2h0M85.4 289.9h0M60.3 275.9h0M146.5 276.9h0M78.2 265.3h0M92.6 270.9h0M74.6 263.3h0M56.7 306.0h0M96.2 272.0h0M99.8 283.5h0M53.1 304.3h0M74.6 270.2h0M67.5 306.2h0M53.1 273.6h0M56.7 290.9h0M135.8 251.8h0M125.0 261.4h0M67.5 249.5h0M96.2 283.3h0M40.5 302.6h0M139.4 223.6h0M81.8 295.0h0M103.4 275.3h0M60.3 274.9h0M67.5 278.9h0M67.5 269.4h0M155.9 237.0h0M74.6 252.0h0M78.2 286.5h0M128.6 264.4h0M139.4 241.6h0M71.0 279.7h0M63.9 288.0h0M103.4 279.8h0M45.9 314.5h0M71.0 287.5h0M125.0 253.4h0M139.4 238.1h0M60.3 270.9h0M45.9 292.0h0M103.4 272.5h0M89.0 283.8h0M60.3 313.2h0M81.8 271.2h0M45.9 283.0h0M96.2 281.3h0M81.8 276.6h0M96.2 254.5h0M45.9 308.8h0M89.0 274.1h0M67.5 281.6h0M78.2 303.2h0M67.5 294.1h0M89.0 270.4h0M85.4 289.6h0M89.0 271.4h0M42.3 311.1h0M56.7 305.4h0M45.9 290.6h0M67.5 287.7h0M78.2 272.6h0M45.9 296.7h0M92.6 290.0h0M78.2 271.4h0M78.2 277.5h0M89.0 272.9h0M107.0 280.8h0M85.4 272.9h0M45.9 298.9h0M53.1 307.8h0M96.2 283.5h0M67.5 293.1h0M99.8 258.0h0M81.8 288.8h0M67.5 294.7h0M96.2 232.8h0M53.1 288.5h0M60.3 274.3h0M60.3 285.6h0M74.6 267.9h0M139.4 239.3h0M103.4 265.2h0M103.4 280.0h0M89.0 276.3h0M36.1 269.2h0M60.3 294.6h0M81.8 280.0h0M132.2 232.7h0M67.5 287.1h0M81.8 287.0h0M110.6 276.9h0M67.5 301.7h0M99.8 259.1h0M89.0 265.5h0M81.8 266.7h0M89.0 258.4h0M78.2 281.1h0M45.9 276.9h0M132.2 267.2h0M142.9 255.4h0M103.4 253.2h0M67.5 261.9h0M89.0 267.9h0M99.8 267.7h0M42.3 298.0h0M103.4 277.7h0M45.9 296.2h0M114.2 272.0h0M60.3 288.6h0M135.8 241.4h0M60.3 279.9h0M81.8 291.1h0M103.4 274.2h0M155.9 229.8h0M96.2 264.0h0M103.4 279.2h0M71.0 276.8h0M99.8 263.1h0M67.5 278.6h0M146.5 253.9h0M103.4 274.9h0M67.5 282.2h0M103.4 281.2h0M44.1 290.2h0M146.5 230.6h0M96.2 284.8h0M67.5 284.9h0M89.0 269.7h0M103.4 267.3h0M89.0 228.8h0M132.2 245.5h0M74.6 278.3h0M67.5 292.4h0M67.5 291.7h0M60.3 288.3h0M78.2 291.1h0M99.8 257.7h0M125.0 256.3h0M89.0 291.0h0M103.4 263.1h0M155.9 247.6h0M92.6 272.7h0M45.9 285.3h0M89.0 269.7h0M38.7 288.2h0M92.6 266.9h0M155.9 265.1h0M78.2 280.6h0M146.5 262.0h0M38.7 302.2h0M53.1 304.1h0M110.6 267.2h0M63.9 294.3h0M71.0 285.6h0M49.5 288.4h0M38.7 301.7h0M99.8 260.7h0M96.2 246.3h0M49.5 300.3h0M89.0 261.7h0M60.3 304.2h0M132.2 246.8h0M49.5 286.1h0M85.4 288.6h0M132.2 279.2h0M81.8 274.3h0M92.6 263.2h0M103.4 266.4h0M96.2 262.6h0M103.4 258.0h0M56.7 280.7h0M139.4 215.9h0M81.8 285.7h0M139.4 264.7h0M96.2 284.1h0M96.2 265.5h0M121.4 235.3h0M45.9 305.6h0M125.0 266.9h0M60.3 296.3h0M103.4 277.9h0M56.7 277.5h0M74.6 278.2h0M49.5 305.1h0M103.4 260.5h0M60.3 300.6h0M74.6 296.8h0M103.4 281.0h0M67.5 286.8h0M125.0 255.6h0M81.8 267.7h0M114.2 255.3h0M103.4 250.4h0M96.2 246.7h0M63.9 284.9h0M81.8 278.3h0M114.2 269.2h0M146.5 237.7h0M60.3 281.6h0M60.3 293.7h0M60.3 287.8h0M89.0 273.1h0M53.1 283.1h0M96.2 274.5h0M63.9 279.7h0M110.6 244.5h0M60.3 286.9h0M146.5 257.0h0M67.5 276.4h0M38.7 293.2h0M53.1 305.8h0M103.4 274.8h0M53.1 298.4h0M60.3 277.7h0M155.9 238.7h0M74.6 250.9h0M89.0 272.6h0M81.8 265.4h0M74.6 283.9h0M132.2 275.9h0M38.7 295.2h0M67.5 269.2h0M74.6 271.8h0M96.2 287.8h0M96.2 259.2h0M33.7 278.4h0M45.9 293.5h0M60.3 288.8h0M67.5 290.0h0M99.8 267.8h0M96.2 277.7h0M146.5 231.5h0M71.0 274.9h0M74.6 279.0h0M53.1 283.6h0M132.2 246.2h0M132.2 248.5h0M128.6 267.6h0M96.2 263.1h0M125.0 239.8h0M85.4 276.5h0M110.6 248.5h0M67.5 304.9h0M99.8 269.5h0M99.8 266.4h0M89.0 278.2h0M110.6 271.9h0M92.6 276.3h0M60.3 279.4h0M42.3 285.0h0M67.5 301.9h0M53.1 279.6h0M139.4 260.3h0M81.8 286.3h0M96.2 282.3h0M146.5 238.8h0M103.4 279.4h0M117.8 256.2h0M81.8 246.8h0M99.8 255.8h0M128.6 254.0h0M74.6 268.2h0M96.2 251.3h0M128.6 235.2h0M60.3 294.8h0M45.9 285.2h0M78.2 266.6h0M132.2 274.7h0M81.8 262.8h0M56.7 291.0h0M155.9 229.2h0M74.6 282.8h0M74.6 281.9h0M45.9 299.3h0M74.6 278.9h0M155.9 229.4h0M74.6 280.5h0M103.4 270.0h0M146.5 221.9h0M33.0 289.2h0M96.2 268.8h0M53.1 298.7h0M81.8 297.0h0M110.6 256.1h0M67.5 274.7h0M96.2 279.2h0M60.3 293.3h0M89.0 272.1h0M96.2 271.7h0M81.8 297.8h0M67.5 293.0h0M96.2 288.6h0M49.5 310.4h0M67.5 281.9h0M103.4 286.2h0M81.8 275.0h0M45.9 288.1h0M92.6 273.8h0M139.4 233.3h0M53.1 304.4h0M146.5 255.5h0M34.7 285.4h0M128.6 234.3h0M89.0 281.3h0M60.3 307.1h0M53.1 301.7h0M74.6 276.2h0M74.6 270.7h0M81.8 297.0h0M81.8 263.2h0M45.9 295.1h0M60.3 281.2h0M53.1 281.0h0M103.4 265.1h0M53.1 293.9h0M92.6 286.9h0M45.9 309.4h0M89.0 273.0h0M74.6 293.0h0M81.8 285.9h0M99.8 291.5h0M63.9 291.5h0M96.2 276.2h0M139.4 261.6h0M96.2 278.5h0M89.0 275.0h0M96.2 286.5h0M132.2 264.4h0M38.7 287.1h0M155.9 258.1h0M74.6 292.6h0M132.2 264.6h0M42.3 306.5h0M60.3 285.7h0M81.8 296.4h0M85.4 277.3h0M107.0 269.0h0M63.9 272.1h0M60.3 283.8h0M89.0 290.5h0M53.1 300.0h0M139.4 256.6h0M60.3 298.8h0M34.0 287.8h0M89.0 271.8h0M56.7 307.8h0M139.4 267.9h0M45.9 295.7h0M81.8 278.1h0M89.0 284.7h0M78.2 282.6h0M42.3 303.1h0M81.8 268.9h0M49.5 271.6h0M40.5 313.4h0M139.4 227.9h0M60.3 294.3h0M44.1 277.9h0M31.5 297.6h0M117.8 263.7h0M117.8 261.5h0M96.2 260.6h0M103.4 270.5h0M60.3 283.3h0M85.4 256.4h0M96.2 264.5h0M60.3 281.8h0M96.2 276.4h0M103.4 266.3h0M81.8 293.4h0M89.0 287.2h0M38.7 297.1h0M67.5 292.6h0M67.5 289.7h0M67.5 281.7h0M146.5 271.0h0M114.2 274.7h0M42.3 292.0h0M85.4 274.5h0M53.1 294.9h0M89.0 260.2h0M155.9 235.1h0M53.1 291.0h0M71.0 274.6h0M67.5 270.9h0M96.2 259.8h0M103.4 252.8h0M42.3 290.6h0M56.7 294.6h0M67.5 289.3h0M135.8 250.9h0M99.8 270.9h0M89.0 253.1h0M142.9 218.3h0M71.0 273.1h0M103.4 282.6h0M60.3 298.3h0M60.3 285.1h0M139.4 258.6h0M103.4 257.0h0M89.0 278.3h0M53.1 304.9h0M63.9 272.9h0M146.5 236.4h0M74.6 267.1h0M40.5 307.9h0M60.3 292.2h0M85.4 274.1h0M117.8 242.4h0M74.6 282.2h0M60.3 300.3h0M103.4 279.5h0M63.9 280.3h0M60.3 295.9h0M85.4 287.6h0M81.8 287.1h0M117.8 274.5h0M74.6 280.5h0M89.0 288.6h0M74.6 266.5h0M92.6 265.6h0M132.2 262.0h0M45.9 300.5h0M132.2 266.0h0M139.4 257.5h0M67.5 291.2h0M33.8 302.7h0M74.6 294.8h0M92.6 277.7h0M53.1 280.4h0M53.1 301.6h0M67.5 288.8h0M132.2 232.5h0M89.0 271.9h0M96.2 266.2h0M85.4 263.8h0M92.6 242.8h0M74.6 282.7h0M78.2 278.4h0M45.9 313.6h0M155.9 245.4h0M53.1 308.4h0M103.4 257.4h0M89.0 269.8h0M99.8 286.6h0M81.8 294.8h0M81.8 270.1h0M67.5 283.3h0M45.9 300.9h0M89.0 267.5h0M89.0 265.2h0M67.5 298.2h0M146.5 265.7h0M146.5 252.9h0M67.5 278.7h0M74.6 276.7h0M56.7 289.8h0M96.2 272.7h0M53.1 276.1h0M63.9 296.8h0M128.6 251.4h0M53.1 294.7h0M132.2 241.3h0M81.8 270.5h0M53.1 300.2h0M103.4 253.8h0M85.4 276.8h0M103.4 283.6h0M67.5 304.3h0M63.9 266.5h0M45.9 280.8h0M49.5 280.2h0M81.8 252.7h0M71.0 288.5h0M42.3 314.9h0M53.1 287.7h0M78.2 284.7h0M42.3 293.9h0M36.7 292.6h0M92.6 273.1h0M45.9 301.2h0M74.6 275.3h0M107.0 270.5h0M45.9 314.2h0M71.0 290.1h0M53.1 308.0h0M103.4 256.8h0M81.8 268.5h0M45.9 312.3h0M99.8 268.6h0M146.5 265.5h0M103.4 262.7h0M56.7 267.2h0M155.9 239.8h0M92.6 306.4h0M67.5 280.4h0M45.9 305.8h0M81.8 281.4h0M45.9 294.1h0M49.5 292.6h0M89.0 272.2h0M99.8 273.9h0M89.0 287.7h0M74.6 277.2h0M103.4 264.5h0M117.8 267.0h0M38.7 289.3h0M96.2 276.8h0M103.4 281.5h0M89.0 258.5h0M74.6 275.5h0M103.4 270.6h0M38.7 285.6h0M139.4 238.1h0M81.8 285.3h0M85.4 276.6h0M92.6 262.4h0M74.6 265.7h0M63.9 271.0h0M60.3 281.8h0M53.1 310.1h0M31.5 282.8h0M117.8 253.5h0M155.9 238.3h0M96.2 263.5h0M63.9 304.6h0M71.0 271.7h0M103.4 276.0h0M78.2 270.8h0M71.0 289.5h0M103.4 232.1h0M60.3 288.4h0M45.9 278.7h0M71.0 273.2h0M125.0 235.0h0M155.9 233.1h0M56.7 303.0h0M103.4 265.9h0M45.9 305.9h0M92.6 259.5h0M49.5 279.8h0M56.7 279.2h0M103.4 262.7h0M45.9 281.9h0M81.8 286.0h0M67.5 294.1h0M155.9 236.8h0M99.8 262.6h0M60.3 298.3h0M155.9 252.7h0M89.0 291.2h0M53.1 294.5h0M60.3 296.8h0M103.4 273.4h0M135.8 226.2h0M38.7 311.2h0M85.4 272.5h0M53.1 309.6h0M96.2 274.6h0M34.6 294.7h0M96.2 273.0h0M81.8 283.0h0M89.0 284.4h0M78.2 277.6h0M92.6 259.7h0M103.4 273.9h0M45.9 288.2h0M67.5 277.8h0M53.1 310.4h0M74.6 281.3h0M89.0 289.5h0M71.0 292.1h0M103.4 264.9h0M31.5 284.7h0M53.1 282.9h0M49.5 287.8h0M45.9 296.8h0M89.0 259.4h0M96.2 290.1h0M67.5 298.3h0M96.2 267.6h0M67.5 271.2h0M85.4 278.3h0M40.5 287.1h0M67.5 284.4h0M42.3 274.9h0M99.8 278.6h0M92.6 269.1h0M117.8 250.1h0M125.0 269.2h0M81.8 287.7h0M53.1 294.4h0M63.9 274.8h0M89.0 271.4h0M96.2 254.6h0M96.2 270.4h0M45.9 294.3h0M49.5 294.7h0M96.2 256.0h0M45.9 285.5h0M81.8 267.2h0M74.6 293.6h0M103.4 288.4h0M45.9 282.8h0M96.2 260.9h0M67.5 291.3h0M92.6 290.7h0M53.1 289.8h0M89.0 269.2h0M99.8 250.6h0M96.2 263.2h0M99.8 269.8h0M89.0 278.1h0M81.8 287.8h0M92.6 259.4h0M49.5 284.7h0M92.6 272.1h0M53.1 288.1h0M74.6 295.6h0M74.6 265.9h0M45.9 283.3h0M56.7 299.5h0M96.2 290.5h0M89.0 268.3h0M78.2 288.0h0M96.2 266.5h0M71.0 288.1h0M74.6 278.1h0M74.6 278.4h0M99.8 262.8h0M42.3 298.9h0M103.4 260.2h0M37.5 299.7h0M67.5 286.6h0M155.9 235.6h0M56.7 277.9h0M67.5 276.2h0M53.1 299.1h0M110.6 283.2h0M53.1 290.5h0M71.0 284.9h0M67.5 291.2h0M56.7 278.1h0M81.8 283.1h0M67.5 295.7h0M114.2 263.0h0M74.6 282.3h0M96.2 278.2h0M38.7 300.0h0M110.6 259.0h0M89.0 248.4h0M63.9 291.5h0M81.8 275.7h0M31.5 257.6h0M53.1 300.6h0M96.2 268.6h0M74.6 298.0h0M132.2 231.8h0M96.2 277.0h0M107.0 237.7h0M110.6 270.7h0M49.5 281.7h0M110.6 272.4h0M96.2 269.0h0M53.1 292.0h0M53.1 289.8h0M63.9 304.8h0M103.4 255.0h0M71.0 273.2h0M81.8 280.6h0M81.8 276.5h0M89.0 294.5h0M74.6 289.6h0M44.1 301.4h0M135.8 231.2h0M85.4 286.1h0M38.7 287.4h0M53.1 296.6h0M114.2 242.8h0M135.8 257.1h0M81.8 273.9h0M67.5 297.5h0M74.6 280.5h0M67.5 278.6h0M78.2 269.4h0M89.0 263.7h0M53.1 285.6h0M142.9 234.6h0M56.7 275.4h0M45.9 301.3h0M89.0 282.9h0M67.5 299.8h0M99.8 252.7h0M53.1 299.3h0M81.8 283.0h0M49.5 279.7h0M103.4 277.1h0M60.3 306.9h0M135.8 227.8h0M56.7 293.3h0M85.4 283.9h0M74.6 295.5h0M135.8 235.0h0M67.5 295.3h0M89.0 285.9h0M132.2 219.0h0M45.9 297.9h0M81.8 292.2h0M125.0 276.2h0M60.3 303.8h0M49.5 285.2h0M89.0 297.4h0M103.4 277.2h0M132.2 275.6h0M78.2 272.5h0M56.7 279.5h0M31.5 276.7h0M71.0 272.8h0M53.1 289.3h0M89.0 256.8h0M96.2 252.8h0M96.2 264.4h0M56.7 276.9h0M155.9 226.7h0M103.4 281.1h0M89.0 270.8h0M103.4 258.8h0M128.6 253.2h0M67.5 292.5h0M103.4 283.0h0M74.6 301.6h0M74.6 298.8h0M155.9 226.7h0M53.1 305.4h0M81.8 268.0h0M103.4 268.3h0M89.0 291.1h0M71.0 276.3h0M103.4 282.2h0M60.3 286.0h0M81.8 272.3h0M81.8 295.1h0M53.1 305.2h0M53.1 309.5h0M125.0 272.6h0M49.5 303.0h0M155.9 245.1h0M67.5 303.1h0M155.9 223.9h0M96.2 275.7h0M81.8 285.0h0M132.2 265.3h0M49.5 314.7h0M85.4 240.2h0M96.2 268.9h0M96.2 261.0h0M67.5 264.0h0M45.9 297.2h0M146.5 223.4h0M67.5 303.3h0M110.6 268.4h0M53.1 299.0h0M63.9 282.8h0M155.9 232.9h0M49.5 300.8h0M89.0 273.1h0M99.8 241.3h0M103.4 263.0h0M114.2 259.7h0M45.9 292.0h0M96.2 285.5h0M92.6 259.4h0M81.8 281.4h0M60.3 285.6h0M117.8 241.9h0M67.5 279.9h0M92.6 286.6h0M67.5 269.8h0M74.6 262.2h0M155.9 253.2h0M56.7 291.4h0M110.6 273.6h0M45.9 283.4h0M89.0 281.7h0M67.5 268.9h0M103.4 257.0h0M99.8 259.5h0M155.9 224.2h0M96.2 284.7h0M103.4 272.6h0M71.0 281.4h0M103.4 269.4h0M103.4 257.0h0M81.8 256.4h0M60.3 288.2h0M155.9 248.1h0M78.2 282.5h0M103.4 258.8h0M45.9 281.2h0M67.5 300.6h0M56.7 285.7h0M99.8 279.0h0M71.0 292.3h0M103.4 273.9h0M67.5 269.3h0M67.5 261.1h0M67.5 276.8h0M60.3 295.1h0M89.0 273.4h0M81.8 293.0h0M146.5 238.3h0M67.5 302.1h0M53.1 293.8h0M125.0 259.0h0M135.8 217.1h0M81.8 283.9h0M45.9 304.5h0M81.8 288.0h0M56.7 305.0h0M67.5 289.5h0M74.6 276.4h0M42.3 281.3h0M81.8 248.8h0M81.8 274.2h0M60.3 289.6h0M45.9 305.2h0M89.0 272.8h0M92.6 276.9h0M155.9 242.4h0M89.0 280.8h0M56.7 302.9h0M56.7 269.8h0M31.5 299.1h0M45.9 303.3h0M103.4 290.8h0M38.7 299.1h0M74.6 277.8h0M56.7 291.3h0M89.0 288.4h0M103.4 254.8h0M81.8 286.8h0M96.2 281.1h0M45.9 297.9h0M42.3 285.8h0M60.3 295.9h0M99.8 274.2h0M117.8 251.5h0M99.8 261.1h0M60.3 294.2h0M74.6 276.5h0M92.6 242.3h0M53.1 291.9h0M67.5 273.9h0M96.2 265.2h0M78.2 275.2h0M71.0 275.5h0M56.7 287.1h0M103.4 268.5h0M63.9 299.3h0M74.6 265.2h0M81.8 270.6h0M53.1 313.5h0M139.4 263.8h0M63.9 298.7h0M99.8 266.1h0M89.0 269.7h0M53.1 295.5h0M37.1 290.7h0M74.6 261.9h0M99.8 288.4h0M49.5 308.4h0M103.4 284.2h0M53.1 303.0h0M67.5 283.6h0M49.5 288.2h0M53.1 253.0h0M89.0 273.2h0M96.2 269.9h0M42.3 285.0h0M103.4 287.1h0M81.8 278.4h0M81.8 286.5h0M81.8 289.5h0M49.5 286.3h0M121.4 256.4h0M125.0 246.4h0M45.9 288.7h0M63.9 271.9h0M53.1 287.4h0M74.6 302.8h0M74.6 274.7h0M121.4 253.0h0M92.6 283.7h0M114.2 250.7h0M110.6 236.7h0M53.1 299.9h0M99.8 283.2h0M89.0 277.9h0M53.1 295.9h0M81.8 252.2h0M96.2 253.2h0M53.1 304.1h0M132.2 217.9h0M121.4 257.2h0M155.9 228.4h0M31.5 252.1h0M67.5 303.6h0M53.1 310.4h0M49.5 299.3h0M89.0 294.6h0M74.6 300.4h0M89.0 280.6h0M103.4 289.9h0M74.6 291.5h0M103.4 272.8h0M117.8 275.7h0M155.9 232.1h0M33.8 295.0h0M67.5 286.2h0M114.2 246.6h0M117.8 229.0h0M56.7 309.7h0M110.6 278.2h0M146.5 235.6h0M103.4 266.3h0M49.5 297.8h0M96.2 284.1h0M32.3 294.9h0M85.4 288.8h0M85.4 273.8h0M103.4 287.6h0M63.9 272.0h0M78.2 274.7h0M71.0 298.1h0M45.9 291.6h0M67.5 295.6h0M96.2 278.5h0M96.2 272.8h0M53.1 311.8h0M38.7 289.7h0M125.0 262.1h0M92.6 268.3h0M45.9 289.6h0M85.4 273.3h0M60.3 281.6h0M96.2 258.4h0M117.8 257.4h0M67.5 281.5h0M103.4 261.9h0M40.5 299.0h0M60.3 296.0h0M67.5 297.4h0M74.6 298.5h0M74.6 299.9h0M132.2 231.9h0M60.3 278.0h0M53.1 307.9h0M117.8 242.4h0M85.4 282.3h0M89.0 272.2h0M74.6 255.0h0M85.4 258.6h0M110.6 294.7h0M56.7 289.3h0M74.6 274.2h0M60.3 290.4h0M85.4 280.6h0M67.5 286.7h0M67.5 288.7h0M67.5 287.7h0M67.5 290.6h0M89.0 263.6h0M45.9 291.9h0M67.5 274.6h0M31.5 294.5h0M71.0 286.3h0M53.1 297.9h0M85.4 292.0h0M53.1 290.0h0M155.9 232.6h0M96.2 286.3h0M56.7 281.4h0M155.9 223.0h0M110.6 252.4h0M49.5 286.2h0M92.6 266.2h0M125.0 242.9h0M34.1 274.6h0M49.5 284.3h0M53.1 295.0h0M89.0 216.1h0M45.9 309.0h0M49.5 283.3h0M45.9 289.5h0M74.6 269.6h0M60.3 291.9h0M74.6 271.5h0M146.5 248.0h0M81.8 260.7h0M67.5 289.5h0M71.0 264.4h0M89.0 269.3h0M146.5 227.3h0M74.6 271.7h0M103.4 254.7h0M96.2 281.2h0M92.6 281.2h0M89.0 251.3h0M89.0 258.2h0M78.2 285.7h0M49.5 304.6h0M89.0 267.7h0M45.9 299.1h0M99.8 263.1h0M60.3 289.9h0M96.2 288.4h0M89.0 274.7h0M67.5 310.1h0M96.2 259.1h0M155.9 249.6h0M81.8 278.4h0M81.8 262.8h0M85.4 287.9h0M38.7 305.2h0M60.3 282.6h0M103.4 265.3h0M49.5 296.8h0M60.3 290.2h0M142.9 240.9h0M155.9 234.7h0M74.6 291.4h0M49.5 289.9h0M103.4 291.7h0M155.9 257.5h0M78.2 270.5h0M103.4 287.5h0M60.3 268.0h0M103.4 262.1h0M37.8 287.8h0M128.6 257.5h0M74.6 269.1h0M85.4 281.9h0M92.6 270.5h0M74.6 293.2h0M67.5 290.0h0M60.3 298.6h0M85.4 265.6h0M146.5 266.1h0M110.6 250.7h0M53.1 289.9h0M92.6 255.8h0M117.8 238.5h0M53.1 302.5h0M78.2 283.7h0M78.2 267.1h0M89.0 270.8h0M45.9 292.3h0M81.8 276.8h0M78.2 275.1h0M103.4 256.8h0M92.6 259.9h0M103.4 250.6h0M74.6 289.4h0M89.0 260.8h0M53.1 296.0h0M96.2 271.8h0M135.8 227.3h0M99.8 287.2h0M96.2 287.7h0M81.8 297.3h0M96.2 265.1h0M146.5 258.9h0M45.9 293.4h0M92.6 267.8h0M63.9 291.8h0M53.1 288.2h0M67.5 289.1h0M89.0 276.2h0M45.9 298.5h0M42.3 295.4h0M96.2 287.4h0M74.6 263.4h0M78.2 292.1h0M45.9 273.3h0M38.7 303.3h0M67.5 284.7h0M99.8 279.2h0M60.3 286.5h0M81.8 295.9h0M67.5 276.8h0M53.1 296.3h0M85.4 286.3h0M56.7 286.7h0M81.8 282.7h0M60.3 293.1h0M60.3 298.5h0M42.3 286.4h0M60.3 301.9h0M96.2 271.0h0M85.4 276.0h0M92.6 274.6h0M96.2 280.8h0M155.9 229.1h0M74.6 265.5h0M78.2 277.0h0M103.4 281.6h0M36.8 310.2h0M74.6 272.9h0M67.5 271.9h0M92.6 266.7h0M34.3 282.5h0M67.5 299.6h0M107.0 283.6h0M103.4 260.5h0M99.8 269.8h0M53.1 281.4h0M45.9 284.0h0M96.2 285.3h0M45.9 305.4h0M42.3 289.8h0M117.8 227.6h0M60.3 294.7h0M78.2 280.2h0M53.1 289.6h0M63.9 289.6h0M142.9 225.6h0M74.6 278.3h0M81.8 281.6h0M63.9 299.0h0M37.0 290.9h0M96.2 284.5h0M155.9 221.5h0M53.1 298.1h0M89.0 279.3h0M81.8 271.9h0M89.0 279.7h0M81.8 279.7h0M96.2 272.1h0M81.8 280.9h0M89.0 273.8h0M63.9 307.8h0M110.6 259.4h0M121.4 241.3h0M81.8 285.3h0M60.3 300.6h0M45.9 290.3h0M99.8 279.8h0M125.0 252.6h0M40.5 293.6h0M74.6 293.6h0M60.3 259.6h0M74.6 286.4h0M49.5 300.5h0M96.2 288.9h0M45.9 291.5h0M49.5 293.8h0M81.8 269.7h0M96.2 290.8h0M103.4 280.0h0M89.0 273.5h0M81.8 295.5h0M132.2 237.3h0M155.9 258.3h0M132.2 253.8h0M125.0 245.2h0M71.0 295.0h0M74.6 274.1h0M67.5 280.4h0M60.3 283.8h0M60.3 269.9h0M42.3 307.6h0M81.8 284.0h0M89.0 295.5h0M103.4 263.9h0M85.4 266.1h0M53.1 310.6h0M78.2 268.6h0M81.8 262.9h0M56.7 291.2h0M103.4 280.4h0M53.1 283.5h0M67.5 287.7h0M107.0 259.8h0M99.8 266.4h0M110.6 270.5h0M67.5 269.8h0M96.2 254.0h0M60.3 296.6h0M74.6 261.6h0M81.8 271.7h0M103.4 281.2h0M49.5 295.5h0M155.9 245.0h0M45.9 285.2h0M103.4 273.8h0M60.3 302.9h0M49.5 292.2h0M139.4 248.9h0M74.6 281.7h0M110.6 280.1h0M67.5 289.4h0M53.1 300.5h0M60.3 300.9h0M81.8 296.0h0M114.2 276.7h0M71.0 286.0h0M74.6 291.8h0M38.7 303.5h0M78.2 274.5h0M67.5 300.6h0M67.5 291.0h0M89.0 269.7h0M103.4 263.6h0M56.7 289.1h0M67.5 286.1h0M81.8 268.5h0M117.8 263.9h0M81.8 270.5h0M45.9 283.3h0M142.9 239.8h0M60.3 290.3h0M92.6 289.8h0M110.6 256.5h0M38.7 297.3h0M96.2 243.0h0M110.6 269.2h0M92.6 257.5h0M89.0 271.1h0M53.1 288.3h0M155.9 239.0h0M33.1 298.8h0M121.4 223.8h0M103.4 259.7h0M139.4 240.8h0M42.3 304.5h0M139.4 226.4h0M103.4 259.5h0M103.4 267.4h0M60.3 303.0h0M56.7 297.8h0M45.9 291.1h0M103.4 266.6h0M103.4 272.6h0M45.9 294.9h0M49.5 301.9h0M67.5 307.2h0M56.7 267.8h0M74.6 277.4h0M96.2 272.0h0M103.4 267.9h0M53.1 284.1h0M71.0 294.4h0M42.3 301.0h0M67.5 278.5h0M45.9 300.8h0M45.9 285.3h0M63.9 274.8h0M53.1 301.3h0M45.9 280.5h0M49.5 302.3h0M89.0 267.6h0M45.9 286.2h0M53.1 290.0h0M103.4 261.9h0M67.5 298.4h0M56.7 292.1h0M155.9 231.6h0M78.2 285.0h0M67.5 284.8h0M99.8 265.1h0M125.0 254.2h0M74.6 272.5h0M103.4 280.7h0M125.0 239.3h0M35.1 295.9h0M142.9 227.0h0M45.9 300.8h0M67.5 282.6h0M107.0 231.3h0M56.7 310.1h0M71.0 279.0h0M99.8 262.6h0M114.2 264.5h0M103.4 270.1h0M74.6 265.3h0M142.9 252.8h0M71.0 283.2h0M74.6 289.1h0M135.8 233.5h0M60.3 279.0h0M38.7 291.4h0M60.3 278.3h0M96.2 282.9h0M85.4 263.7h0M38.7 282.7h0M56.7 270.4h0M117.8 251.5h0M103.4 267.4h0M74.6 276.0h0M60.3 291.6h0M89.0 259.9h0M38.7 306.4h0M74.6 279.5h0M96.2 263.8h0M99.8 267.3h0M60.3 282.6h0M155.9 292.3h0" stroke="#0867b9" stroke-width="2.1" stroke-linecap="round" fill="none"/><path d="M25.6 330.0L162.3 193.6" stroke="#404040" stroke-width="1.0" fill="none"/><path d="M25.3 193.2H162.7V330.3" stroke="#dcdcdc" stroke-width="0.6" fill="none"/><path d="M25.3 193.2V330.3H162.7" stroke="#9a9a9a" stroke-width="1.2" fill="none"/><path d="M31.5 330.3v-1.2M25.3 324.7h1.2M45.9 330.3v-1.2M25.3 310.3h1.2M60.3 330.3v-1.2M25.3 295.9h1.2M74.6 330.3v-1.2M25.3 281.6h1.2M89.0 330.3v-1.2M25.3 267.2h1.2M103.4 330.3v-1.2M25.3 252.8h1.2M117.8 330.3v-1.2M25.3 238.4h1.2M132.2 330.3v-1.2M25.3 224.0h1.2M146.5 330.3v-1.2M25.3 209.7h1.2M160.9 330.3v-1.2M25.3 195.3h1.2" stroke="#9a9a9a" stroke-width="0.7" fill="none"/><g font-family="Liberation Sans, sans-serif" font-size="3.9" fill="#333" stroke="#333" stroke-width="0.12"><text x="31.5" y="336.4" text-anchor="middle">0</text><text x="23.7" y="326.1" text-anchor="end">0</text><text x="45.9" y="336.4" text-anchor="middle">2</text><text x="23.7" y="311.7" text-anchor="end">2</text><text x="60.3" y="336.4" text-anchor="middle">4</text><text x="23.7" y="297.3" text-anchor="end">4</text><text x="74.6" y="336.4" text-anchor="middle">6</text><text x="23.7" y="283.0" text-anchor="end">6</text><text x="89.0" y="336.4" text-anchor="middle">8</text><text x="23.7" y="268.6" text-anchor="end">8</text><text x="103.4" y="336.4" text-anchor="middle">10</text><text x="23.7" y="254.2" text-anchor="end">10</text><text x="117.8" y="336.4" text-anchor="middle">12</text><text x="23.7" y="239.8" text-anchor="end">12</text><text x="132.2" y="336.4" text-anchor="middle">14</text><text x="23.7" y="225.4" text-anchor="end">14</text><text x="146.5" y="336.4" text-anchor="middle">16</text><text x="23.7" y="211.1" text-anchor="end">16</text><text x="160.9" y="336.4" text-anchor="middle">18</text><text x="23.7" y="196.7" text-anchor="end">18</text></g><text x="81.0" y="341.8" textLength="25.9" lengthAdjust="spacingAndGlyphs" font-family="Liberation Sans, sans-serif" font-size="4.5" fill="#333" stroke="#333" stroke-width="0.12">True response</text><text transform="translate(17.6 280.2) rotate(-90)" textLength="36.0" lengthAdjust="spacingAndGlyphs" font-family="Liberation Sans, sans-serif" font-size="4.5" fill="#333" stroke="#333" stroke-width="0.12">Predicted response</text><rect x="31.4" y="195.9" width="40.9" height="10.0" fill="#fff" stroke="#8a8a8a" stroke-width="0.6"/><path d="M38.3 198.7h0" stroke="#0867b9" stroke-width="2.1" stroke-linecap="round"/><path d="M32.7 203.3H43.6" stroke="#666" stroke-width="1.0"/><text x="44.8" y="199.9" textLength="19.5" lengthAdjust="spacingAndGlyphs" font-family="Liberation Sans, sans-serif" font-size="3.3" fill="#222" stroke="#222" stroke-width="0.1">Observations</text><text x="44.8" y="204.5" textLength="26.1" lengthAdjust="spacingAndGlyphs" font-family="Liberation Sans, sans-serif" font-size="3.35" fill="#222" stroke="#222" stroke-width="0.1">Perfect prediction</text></g>
<g><rect x="197" y="191.8" width="156.0" height="150.9" fill="#f0f0f0"/><rect x="209.1" y="193.2" width="139.3" height="138.0" fill="#fff"/><path d="M217.1 193.2V331.2M209.1 323.7H348.4M231.5 193.2V331.2M209.1 309.4H348.4M246.0 193.2V331.2M209.1 295.1H348.4M260.4 193.2V331.2M209.1 280.8H348.4M274.9 193.2V331.2M209.1 266.5H348.4M289.3 193.2V331.2M209.1 252.2H348.4M303.7 193.2V331.2M209.1 237.9H348.4M318.2 193.2V331.2M209.1 223.6H348.4M332.6 193.2V331.2M209.1 209.3H348.4M347.1 193.2V331.2M209.1 195.0H348.4" stroke="#eeeeee" stroke-width="0.7" fill="none"/><path d="M289.3 278.3h0M289.3 254.0h0M267.6 311.5h0M246.0 261.7h0M227.9 283.5h0M253.2 275.7h0M256.8 264.5h0M227.9 293.5h0M227.9 289.8h0M342.0 217.8h0M274.9 274.1h0M246.0 268.7h0M260.4 277.3h0M342.0 204.1h0M318.2 240.3h0M296.5 271.4h0M256.8 265.1h0M264.0 272.8h0M278.5 277.0h0M227.9 287.2h0M267.6 265.9h0M246.0 299.5h0M311.0 276.1h0M227.9 291.0h0M278.5 264.4h0M311.0 275.9h0M242.4 278.5h0M318.2 227.4h0M311.0 269.6h0M217.1 309.5h0M282.1 283.2h0M218.2 318.5h0M267.6 287.1h0M260.4 270.1h0M238.8 285.6h0M253.2 296.7h0M289.3 284.9h0M249.6 295.0h0M238.8 307.6h0M282.1 264.3h0M260.4 279.5h0M289.3 266.2h0M246.0 305.3h0M249.6 286.6h0M289.3 290.9h0M267.6 276.5h0M267.6 271.6h0M246.0 302.3h0M217.1 319.7h0M332.6 262.9h0M231.5 287.2h0M296.5 281.1h0M253.2 297.5h0M307.4 247.1h0M256.8 262.5h0M292.9 261.4h0M267.6 282.6h0M246.0 301.3h0M282.1 258.4h0M278.5 301.2h0M282.1 269.0h0M260.4 278.4h0M242.4 278.3h0M274.9 283.7h0M231.5 291.3h0M282.1 250.2h0M274.9 279.0h0M253.2 278.2h0M289.3 262.5h0M238.8 292.0h0M256.8 282.0h0M289.3 295.4h0M253.2 304.3h0M282.1 283.5h0M274.9 268.8h0M300.1 271.0h0M342.0 230.3h0M282.1 282.9h0M289.3 263.4h0M238.8 268.9h0M282.1 290.4h0M296.5 275.9h0M256.8 277.4h0M267.6 278.5h0M264.0 281.7h0M321.8 237.1h0M249.6 308.6h0M256.8 271.4h0M218.1 309.2h0M260.4 299.6h0M274.9 300.1h0M292.9 248.8h0M332.6 199.7h0M253.2 272.4h0M342.0 250.6h0M238.8 284.2h0M289.3 283.2h0M238.8 278.7h0M256.8 288.6h0M231.5 276.0h0M303.7 234.0h0M289.3 294.4h0M238.8 296.7h0M267.6 290.9h0M246.0 318.3h0M264.0 268.5h0M267.6 263.6h0M231.5 299.6h0M303.7 255.6h0M246.0 267.3h0M260.4 281.0h0M227.9 292.4h0M219.1 305.2h0M238.8 276.9h0M253.2 278.4h0M332.6 254.5h0M318.2 218.8h0M264.0 284.1h0M260.4 297.6h0M278.5 257.1h0M303.7 279.1h0M253.2 271.8h0M289.3 250.6h0M256.8 301.8h0M274.9 298.0h0M282.1 265.2h0M267.6 280.1h0M282.1 290.5h0M282.1 259.1h0M221.0 300.4h0M224.3 298.2h0M238.8 280.2h0M242.4 285.4h0M238.8 298.0h0M227.9 298.8h0M242.4 295.7h0M274.9 285.9h0M318.2 233.8h0M253.2 276.8h0M253.2 275.3h0M260.4 272.4h0M278.5 268.3h0M289.3 294.9h0M300.1 252.3h0M253.2 292.8h0M282.1 279.5h0M253.2 270.4h0M289.3 285.4h0M246.0 288.3h0M311.0 288.5h0M267.6 274.4h0M282.1 260.6h0M267.6 273.0h0M249.6 290.4h0M264.0 286.1h0M227.9 300.1h0M226.1 301.1h0M267.6 265.4h0M264.0 281.5h0M289.3 269.4h0M224.3 294.4h0M267.6 262.1h0M264.0 261.3h0M274.9 269.7h0M282.1 288.0h0M267.6 293.5h0M267.6 307.4h0M264.0 289.2h0M274.9 295.9h0M246.0 298.4h0M267.6 275.4h0M278.5 256.0h0M238.8 285.9h0M342.0 263.3h0M282.1 278.3h0M314.6 257.5h0M246.0 276.3h0M260.4 289.0h0M246.0 286.7h0M227.9 288.4h0M217.1 305.9h0M246.0 293.0h0M303.7 246.1h0M238.8 276.6h0M282.1 272.4h0M246.0 297.5h0M227.9 285.7h0M238.8 281.2h0M278.5 294.4h0M267.6 278.0h0M267.6 264.0h0M260.4 280.3h0M246.0 291.2h0M264.0 273.0h0M332.6 200.6h0M238.8 310.5h0M282.1 252.3h0M246.0 289.2h0M238.8 289.2h0M253.2 269.7h0M231.5 290.6h0M292.9 298.9h0M253.2 287.1h0M238.8 285.1h0M217.9 315.7h0M227.9 296.3h0M242.4 289.5h0M260.4 287.4h0M274.9 283.6h0M342.0 256.3h0M318.2 247.8h0M246.0 286.4h0M274.9 283.0h0M332.6 233.2h0M231.5 276.8h0M303.7 279.4h0M256.8 299.2h0M289.3 288.5h0M253.2 306.5h0M274.9 268.5h0M267.6 304.2h0M231.5 277.2h0M285.7 264.7h0M289.3 295.7h0M264.0 301.4h0M256.8 277.7h0M307.4 237.7h0M253.2 283.3h0M311.0 220.0h0M260.4 307.3h0M253.2 271.8h0M253.2 305.8h0M227.9 292.9h0M246.0 245.5h0M242.4 286.0h0M227.9 297.3h0M267.6 287.7h0M260.4 283.4h0M224.3 305.4h0M238.8 282.4h0M332.6 226.6h0M235.2 269.8h0M253.2 295.3h0M307.4 277.4h0M231.5 299.2h0M256.8 306.7h0M289.3 257.2h0M217.1 313.7h0M229.7 289.0h0M332.6 259.9h0M282.1 266.4h0M246.0 313.5h0M264.0 260.6h0M246.0 276.2h0M318.2 228.2h0M307.4 279.5h0M229.7 282.7h0M267.6 274.6h0M238.8 269.8h0M256.8 298.9h0M282.1 267.6h0M282.1 266.0h0M238.8 285.2h0M253.2 294.7h0M260.4 279.9h0M256.8 277.6h0M282.1 288.5h0M289.3 282.0h0M253.2 303.3h0M260.4 286.4h0M229.7 296.9h0M253.2 260.9h0M307.4 242.3h0M267.6 269.8h0M267.6 279.1h0M274.9 285.7h0M271.2 293.0h0M289.3 278.6h0M246.0 293.3h0M249.6 298.4h0M318.2 256.8h0M264.0 287.6h0M321.8 242.4h0M235.2 301.4h0M289.3 281.2h0M260.4 269.4h0M260.4 283.0h0M311.0 244.6h0M235.2 293.8h0M267.6 261.4h0M246.0 288.8h0M253.2 258.3h0M289.3 278.0h0M256.8 290.4h0M289.3 284.9h0M217.1 309.4h0M342.0 232.8h0M314.6 254.2h0M278.5 270.0h0M238.8 309.9h0M274.9 296.0h0M238.8 300.2h0M253.2 284.6h0M224.3 298.3h0M229.7 295.7h0M238.8 305.6h0M238.8 287.2h0M296.5 266.2h0M246.0 306.8h0M289.3 275.1h0M221.1 291.2h0M227.9 314.7h0M227.9 301.2h0M332.6 252.0h0M289.3 265.8h0M217.1 317.2h0M332.6 201.1h0M242.4 286.0h0M246.0 293.6h0M271.2 252.1h0M238.8 286.5h0M342.0 214.8h0M253.2 295.2h0M271.2 261.1h0M271.2 250.6h0M246.0 282.6h0M282.1 273.1h0M342.0 229.4h0M274.9 289.4h0M231.5 296.0h0M289.3 237.2h0M278.5 265.0h0M264.0 283.8h0M274.9 275.8h0M246.0 296.7h0M249.6 263.1h0M267.6 276.0h0M229.7 287.0h0M271.2 283.5h0M238.8 297.9h0M246.0 305.3h0M318.2 240.1h0M271.2 272.6h0M246.0 273.9h0M282.1 291.2h0M342.0 260.1h0M318.2 251.6h0M289.3 264.5h0M253.2 290.3h0M271.2 282.3h0M271.2 281.7h0M231.5 312.8h0M282.1 274.8h0M267.6 277.8h0M267.6 261.8h0M282.1 246.7h0M231.5 284.3h0M242.4 272.6h0M342.0 230.6h0M249.6 269.2h0M246.0 289.8h0M231.5 303.6h0M249.6 265.8h0M267.6 274.1h0M224.3 309.5h0M246.0 301.2h0M246.0 273.0h0M238.8 314.2h0M289.3 272.1h0M321.8 252.4h0M325.4 218.6h0M260.4 281.8h0M229.7 283.8h0M253.2 295.1h0M267.6 286.5h0M253.2 298.5h0M282.1 286.5h0M282.1 257.2h0M318.2 261.2h0M260.4 273.6h0M246.0 263.2h0M325.4 209.8h0M311.0 230.3h0M235.2 314.6h0M242.4 284.1h0M278.5 254.4h0M289.3 266.6h0M321.8 203.8h0M224.3 306.7h0M238.8 288.8h0M260.4 281.1h0M267.6 281.9h0M289.3 260.8h0M267.6 285.0h0M267.6 265.2h0M246.0 277.8h0M274.9 276.9h0M271.2 297.5h0M300.1 269.9h0M238.8 287.9h0M235.2 268.5h0M253.2 288.4h0M253.2 281.3h0M260.4 304.5h0M238.8 278.7h0M282.1 252.6h0M289.3 268.4h0M220.9 302.2h0M325.4 243.3h0M231.5 301.4h0M249.6 272.9h0M264.0 286.5h0M260.4 267.9h0M242.4 291.1h0M282.1 275.1h0M296.5 248.8h0M242.4 299.8h0M238.8 307.6h0M267.6 272.2h0M238.8 315.4h0M292.9 251.0h0M296.5 275.7h0M289.3 277.8h0M260.4 302.9h0M289.3 258.1h0M256.8 284.1h0M260.4 265.3h0M231.5 278.7h0M224.3 297.3h0M278.5 291.3h0M238.8 311.9h0M314.6 235.9h0M267.6 265.7h0M271.2 269.2h0M318.2 253.8h0M249.6 293.7h0M223.0 298.2h0M242.4 285.7h0M260.4 299.1h0M238.8 277.6h0M246.0 316.3h0M282.1 260.9h0M253.2 262.3h0M253.2 275.2h0M246.0 279.0h0M267.6 263.8h0M342.0 226.3h0M238.8 274.2h0M296.5 268.6h0M289.3 248.6h0M274.9 287.2h0M267.6 274.1h0M267.6 276.0h0M231.5 305.2h0M271.2 288.6h0M342.0 209.3h0M282.1 290.5h0M260.4 283.0h0M260.4 283.4h0M311.0 261.8h0M220.8 312.0h0M238.8 306.4h0M314.6 243.1h0M274.9 268.5h0M289.3 300.6h0M267.6 319.2h0M226.1 295.7h0M267.6 282.0h0M274.9 285.2h0M231.5 297.2h0M264.0 260.4h0M300.1 274.5h0M227.9 297.7h0M227.9 283.1h0M231.5 295.8h0M282.1 293.1h0M318.2 245.1h0M238.8 291.7h0M296.5 267.5h0M242.4 297.5h0M267.6 257.6h0M285.7 293.2h0M235.2 286.5h0M264.0 290.0h0M303.7 276.4h0M253.2 286.8h0M289.3 251.3h0M260.4 283.5h0M300.1 247.7h0M256.8 265.8h0M289.3 276.3h0M231.5 303.4h0M253.2 288.5h0M238.8 283.5h0M256.8 270.6h0M256.8 301.7h0M246.0 295.4h0M260.4 283.7h0M282.1 254.4h0M271.2 283.4h0M246.0 288.8h0M282.1 296.1h0M282.1 270.3h0M260.4 260.5h0M260.4 295.7h0M238.8 277.3h0M289.3 285.8h0M253.2 265.5h0M246.0 298.3h0M332.6 262.4h0M249.6 264.4h0M238.8 301.6h0M253.2 284.8h0M267.6 295.8h0M274.9 259.4h0M256.8 277.9h0M282.1 270.1h0M224.3 297.3h0M332.6 226.7h0M260.4 277.9h0M260.4 269.5h0M260.4 278.5h0M246.0 301.1h0M289.3 263.7h0M260.4 299.0h0M231.5 306.3h0M253.2 289.9h0M264.0 298.5h0M253.2 282.9h0M231.5 289.7h0M318.2 274.0h0M238.8 277.7h0M282.1 254.7h0M260.4 273.4h0M264.0 294.3h0M278.5 265.4h0M217.1 304.0h0M264.0 279.7h0M260.4 295.7h0M260.4 296.4h0M218.3 304.3h0M217.1 310.0h0M264.0 273.8h0M260.4 271.9h0M253.2 263.9h0M235.2 282.5h0M253.2 264.1h0M278.5 266.2h0M289.3 287.7h0M285.7 293.9h0M218.9 312.9h0M253.2 292.7h0M264.0 264.7h0M289.3 268.1h0M267.6 290.2h0M289.3 289.0h0M282.1 283.7h0M231.5 287.1h0M342.0 238.1h0M267.6 276.8h0M274.9 278.7h0M246.0 287.6h0M325.4 257.8h0M342.0 221.1h0M253.2 273.3h0M264.0 301.2h0M227.9 287.0h0M285.7 286.6h0M274.9 300.3h0M246.0 294.4h0M289.3 284.3h0M267.6 288.9h0M332.6 219.7h0M289.3 261.0h0M231.5 306.5h0M246.0 272.1h0M296.5 270.0h0M224.3 313.5h0M235.2 290.0h0M332.6 237.2h0M289.3 262.9h0M246.0 273.4h0M253.2 294.2h0M224.3 296.2h0M235.2 297.0h0M223.2 313.0h0M271.2 274.5h0M274.9 272.6h0M238.8 272.5h0M289.3 285.8h0M264.0 270.9h0M274.9 263.4h0M278.5 271.1h0M238.8 288.7h0M289.3 279.5h0M260.4 283.8h0M264.0 283.1h0M235.2 304.4h0M246.0 305.3h0M260.4 297.6h0M282.1 283.4h0M260.4 308.3h0M267.6 284.7h0M285.7 279.4h0M256.8 276.4h0M217.1 313.2h0M267.6 265.1h0M300.1 257.0h0M224.3 303.0h0M260.4 292.1h0M274.9 275.9h0M264.0 286.2h0M231.5 305.0h0M267.6 272.6h0M231.5 301.5h0M229.7 281.8h0M253.2 282.8h0M267.6 278.3h0M300.1 273.5h0M242.4 301.6h0M342.0 209.3h0M253.2 283.8h0M289.3 281.4h0M267.6 264.9h0M289.3 265.0h0M303.7 251.4h0M296.5 269.1h0M238.8 288.7h0M318.2 254.2h0M235.2 313.8h0M282.1 289.3h0M227.9 313.9h0M249.6 306.1h0M235.2 288.0h0M274.9 283.7h0M249.6 289.6h0M267.6 295.3h0M242.4 282.2h0M256.8 281.2h0M318.2 237.2h0M274.9 272.5h0M264.0 263.2h0M282.1 283.6h0M342.0 264.4h0M253.2 306.7h0M231.5 278.6h0M246.0 295.4h0M238.8 291.6h0M256.8 260.0h0M282.1 273.3h0M285.7 281.8h0M231.5 296.4h0M238.8 284.2h0M253.2 281.0h0M296.5 260.6h0M264.0 262.4h0M267.6 265.4h0M246.0 279.6h0M267.6 266.3h0M274.9 267.8h0M253.2 279.2h0M274.9 289.7h0M285.7 258.9h0M253.2 284.6h0M260.4 284.8h0M235.2 280.5h0M246.0 272.5h0M226.1 304.5h0M227.9 304.5h0M231.5 288.4h0M318.2 240.8h0M282.1 271.0h0M271.2 275.6h0M289.3 264.9h0M238.8 294.8h0M253.2 308.3h0M271.2 294.8h0M303.7 240.0h0M267.6 273.5h0M235.2 286.6h0M227.9 309.8h0M224.3 302.2h0M285.7 292.1h0M318.2 244.7h0M238.8 308.7h0M289.3 260.4h0M226.1 294.1h0M289.3 251.2h0M282.1 272.1h0M260.4 269.5h0M264.0 264.6h0M242.4 283.9h0M332.6 264.0h0M246.0 294.9h0M285.7 258.1h0M271.2 299.9h0M267.6 276.0h0M271.2 252.4h0M231.5 294.5h0M231.5 291.1h0M342.0 199.6h0M282.1 271.1h0M274.9 283.7h0M267.6 303.8h0M246.0 268.3h0M238.8 315.5h0M271.2 297.8h0M223.3 309.1h0M224.3 306.7h0M253.2 266.6h0M271.2 295.3h0M332.6 223.7h0M260.4 275.5h0M249.6 302.2h0M314.6 246.9h0M249.6 295.1h0M264.0 291.8h0M264.0 306.7h0M226.1 295.0h0M231.5 315.4h0M222.0 305.2h0M289.3 272.8h0M253.2 311.6h0M278.5 273.9h0M260.4 278.8h0M264.0 299.5h0M303.7 271.8h0M256.8 276.5h0M231.5 275.5h0M278.5 261.1h0M224.3 288.6h0M267.6 294.7h0M253.2 299.8h0M260.4 270.6h0M282.1 274.9h0M296.5 267.5h0M321.8 229.4h0M289.3 253.4h0M289.3 275.8h0M292.9 259.3h0M253.2 287.3h0M253.2 293.1h0M224.3 296.4h0M260.4 258.4h0M227.9 311.8h0M242.4 291.3h0M260.4 267.5h0M260.4 289.0h0M285.7 260.7h0M260.4 289.9h0M282.1 267.4h0M224.3 297.2h0M282.1 291.4h0M285.7 273.6h0M217.1 308.4h0M253.2 261.7h0M274.9 282.4h0M235.2 290.4h0M289.3 290.9h0M342.0 246.2h0M289.3 263.4h0M274.9 289.9h0M289.3 261.3h0M292.9 267.5h0M314.6 204.4h0M253.2 293.9h0M274.9 261.6h0M231.5 303.3h0M325.4 243.1h0M227.9 291.7h0M246.0 253.3h0M271.2 258.2h0M242.4 279.6h0M260.4 279.8h0M253.2 291.9h0M278.5 281.8h0M267.6 254.8h0M289.3 297.6h0M274.9 276.7h0M282.1 261.7h0M217.1 306.8h0M278.5 268.6h0M325.4 260.3h0M235.2 282.2h0M289.3 253.3h0M289.3 264.7h0M231.5 292.1h0M274.9 248.0h0M249.6 288.4h0M253.2 306.8h0M342.0 217.3h0M271.2 267.9h0M264.0 277.2h0M289.3 285.0h0M256.8 260.8h0M235.2 290.7h0M342.0 218.8h0M238.8 291.2h0M318.2 245.1h0M342.0 273.3h0M260.4 275.3h0M235.2 292.3h0M260.4 294.1h0M267.6 281.3h0M289.3 281.6h0M342.0 202.6h0M246.0 308.1h0M224.3 309.4h0M342.0 238.3h0M218.8 304.4h0M321.8 246.7h0M318.2 210.1h0M318.2 229.9h0M256.8 291.7h0M238.8 288.0h0M274.9 269.6h0M260.4 288.0h0M282.1 285.3h0M238.8 298.6h0M260.4 297.5h0M325.4 232.0h0M271.2 289.3h0M332.6 238.6h0M285.7 268.4h0M235.2 278.4h0M274.9 277.5h0M238.8 293.2h0M231.5 306.3h0M274.9 289.5h0M222.6 293.2h0M227.9 295.5h0M256.8 281.5h0M238.8 277.7h0M278.5 259.5h0M246.0 278.2h0M246.0 275.6h0M267.6 290.8h0M267.6 253.9h0M296.5 240.8h0M289.3 277.3h0M292.9 282.6h0M231.5 274.6h0M227.9 304.2h0M285.7 266.1h0M256.8 307.8h0M227.9 308.3h0M267.6 270.8h0M253.2 293.8h0M242.4 281.3h0M278.5 284.7h0M282.1 274.2h0M246.0 260.6h0M278.5 270.3h0M242.4 276.1h0M311.0 260.0h0M256.8 263.9h0M260.4 286.8h0M238.8 286.5h0M260.4 276.0h0M246.0 311.2h0M289.3 286.4h0M235.2 300.6h0M267.6 263.6h0M256.8 298.9h0M325.4 224.3h0M274.9 278.2h0M267.6 278.7h0M238.8 294.3h0M231.5 279.2h0M274.9 270.5h0M332.6 250.0h0M231.5 293.9h0M260.4 276.1h0M253.2 277.9h0M224.3 302.6h0M274.9 260.6h0M260.4 279.9h0M264.0 298.0h0M289.3 281.4h0M274.9 256.8h0M246.0 278.4h0M321.8 208.0h0M332.6 233.6h0M282.1 277.7h0M235.2 288.5h0M274.9 297.8h0M218.8 311.1h0M246.0 277.0h0M260.4 277.8h0M260.4 258.6h0M289.3 250.7h0M267.6 292.6h0M274.9 267.0h0M260.4 280.5h0M282.1 262.9h0M238.8 288.7h0M318.2 264.7h0M296.5 262.4h0M325.4 247.6h0M307.4 273.0h0M289.3 270.7h0M246.0 284.0h0M325.4 243.0h0M289.3 265.4h0M260.4 263.5h0M231.5 303.2h0M342.0 246.1h0M242.4 279.5h0M238.8 297.2h0M267.6 290.4h0M303.7 277.7h0M246.0 278.6h0M242.4 279.7h0M289.3 261.3h0M267.6 264.1h0M271.2 268.4h0M274.9 268.4h0M289.3 290.1h0M289.3 271.5h0M246.0 299.6h0M253.2 289.5h0M342.0 222.7h0M296.5 252.1h0M267.6 287.3h0M253.2 277.1h0M318.2 256.4h0M246.0 265.7h0M260.4 271.5h0M274.9 285.8h0M285.7 287.6h0M282.1 287.8h0M282.1 277.1h0M242.4 281.6h0M253.2 310.1h0M285.7 264.2h0M271.2 269.6h0M325.4 262.2h0M229.7 290.3h0M342.0 206.2h0M264.0 262.4h0M249.6 283.0h0M231.5 289.2h0M229.7 296.2h0M342.0 220.5h0M289.3 284.2h0M342.0 215.5h0M296.5 274.6h0M260.4 293.7h0M238.8 277.7h0M267.6 300.5h0M246.0 278.4h0M238.8 303.1h0M267.6 290.9h0M271.2 259.8h0M342.0 209.9h0M289.3 269.1h0M217.1 312.4h0M238.8 278.8h0M267.6 256.5h0M282.1 268.5h0M342.0 227.9h0M267.6 264.4h0M260.4 289.3h0M223.6 291.8h0M260.4 281.1h0M303.7 254.0h0M227.9 302.0h0M267.6 274.0h0M307.4 248.7h0M321.8 206.7h0M217.1 306.1h0M249.6 287.6h0M238.8 295.8h0M342.0 209.2h0M289.3 271.0h0M246.0 293.4h0M256.8 289.3h0M278.5 278.0h0M224.3 313.2h0M238.8 289.2h0M289.3 265.0h0M249.6 299.1h0M246.0 302.2h0M325.4 246.1h0M282.1 270.3h0M303.7 228.4h0M289.3 252.2h0M267.6 291.6h0M238.8 296.1h0M282.1 270.2h0M267.6 280.5h0M282.1 301.0h0M278.5 271.7h0M289.3 255.8h0M227.9 305.3h0M238.8 293.2h0M311.0 215.9h0M282.1 270.5h0M303.7 281.1h0M227.9 316.6h0M267.6 292.9h0M217.1 301.4h0M238.8 281.7h0M227.9 304.7h0M238.8 302.6h0M246.0 263.8h0M231.5 281.3h0M274.9 271.3h0M271.2 261.2h0M282.1 268.7h0M342.0 216.4h0M246.0 296.8h0M246.0 275.7h0M249.6 263.0h0M289.3 262.9h0M274.9 286.7h0M285.7 271.5h0M246.0 303.8h0M235.2 297.3h0M260.4 274.1h0M325.4 211.7h0M246.0 282.5h0M285.7 271.1h0M282.1 260.3h0M253.2 277.1h0M282.1 292.6h0M332.6 262.6h0M242.4 293.5h0M246.0 277.1h0M256.8 295.1h0M238.8 308.2h0M256.8 274.4h0M282.1 286.2h0M303.7 234.8h0M278.5 266.9h0M267.6 274.3h0M332.6 239.7h0M238.8 278.9h0M282.1 246.1h0M253.2 311.2h0M292.9 272.4h0M238.8 279.9h0M246.0 289.3h0M231.5 285.2h0M260.4 312.4h0M282.1 252.8h0M246.0 312.2h0M318.2 253.6h0M289.3 290.4h0M246.0 307.1h0M274.9 256.0h0M274.9 291.2h0M235.2 272.0h0M274.9 282.5h0M274.9 266.8h0M311.0 250.5h0M249.6 270.7h0M235.2 305.1h0M267.6 290.5h0M303.7 236.3h0M235.2 277.0h0M242.4 269.6h0M231.5 301.6h0M342.0 251.1h0M285.7 277.4h0M231.5 283.3h0M296.5 279.5h0M260.4 272.2h0M224.3 309.9h0M227.9 310.9h0M246.0 278.8h0M224.3 296.2h0M238.8 273.4h0M227.9 320.4h0M238.8 312.3h0M231.5 309.0h0M260.4 285.8h0M289.3 270.0h0M289.3 277.1h0M267.6 286.6h0M227.9 310.1h0M307.4 275.1h0M227.9 303.3h0M217.1 314.5h0M285.7 265.0h0M274.9 273.7h0M285.7 302.3h0M246.0 285.5h0M318.2 244.6h0M311.0 251.5h0M226.1 303.9h0M314.6 224.1h0M285.7 292.2h0M303.7 284.1h0M264.0 274.8h0M289.3 267.9h0M325.4 244.1h0M318.2 267.9h0M246.0 279.1h0M238.8 300.2h0M274.9 279.1h0M260.4 278.4h0M303.7 232.1h0M260.4 283.8h0M238.8 305.1h0M253.2 261.3h0M321.8 247.8h0M282.1 257.4h0M238.8 307.5h0M238.8 278.6h0M256.8 307.0h0M300.1 247.2h0M267.6 295.4h0M246.0 292.9h0M242.4 309.4h0M246.0 290.5h0M267.6 265.1h0M242.4 287.5h0M231.5 287.4h0M289.3 274.2h0M274.9 274.4h0M274.9 270.1h0M246.0 282.0h0M260.4 290.3h0M311.0 261.4h0M246.0 301.4h0M260.4 278.4h0M231.5 286.2h0M256.8 259.2h0M231.5 278.6h0M285.7 261.0h0M342.0 246.7h0M231.5 305.4h0M253.2 291.9h0M314.6 259.7h0M235.2 290.2h0M289.3 291.0h0M231.5 274.7h0M260.4 275.6h0M289.3 294.2h0M289.3 283.5h0M289.3 267.4h0M253.2 268.2h0M267.6 271.8h0M235.2 275.0h0M342.0 233.1h0M282.1 255.1h0M256.8 282.4h0M264.0 273.1h0M271.2 258.4h0M253.2 263.2h0M253.2 304.6h0M325.4 213.0h0M238.8 300.0h0M307.4 272.0h0M267.6 271.7h0M260.4 284.8h0M260.4 272.6h0M217.1 314.9h0M253.2 288.1h0M260.4 295.2h0M227.9 304.8h0M217.1 320.7h0M221.2 314.4h0M274.9 268.0h0M222.0 295.8h0M314.6 262.3h0M274.9 291.8h0M282.1 260.7h0M226.1 301.1h0M267.6 290.6h0M242.4 303.4h0M332.6 237.0h0M253.2 287.6h0M238.8 298.9h0M260.4 259.2h0M253.2 283.5h0M238.8 293.3h0M289.3 301.8h0M242.4 281.4h0M282.1 265.2h0M303.7 268.4h0M282.1 270.5h0M311.0 289.2h0M314.6 242.6h0M223.5 298.0h0M246.0 284.4h0M325.4 240.2h0M267.6 263.1h0M332.6 241.5h0M260.4 290.5h0M253.2 281.4h0M289.3 258.1h0M246.0 276.8h0M256.8 268.4h0M289.3 287.6h0M256.8 288.5h0M274.9 266.3h0M238.8 280.5h0M242.4 301.3h0M342.0 257.2h0M238.8 299.2h0M238.8 276.9h0M217.1 312.4h0M231.5 317.4h0M256.8 314.8h0M274.9 261.1h0M311.0 243.5h0M342.0 227.1h0M253.2 306.0h0M264.0 258.2h0M256.8 284.7h0M260.4 289.6h0M303.7 291.3h0M260.4 277.1h0M282.1 276.9h0M303.7 264.4h0M256.8 249.4h0M253.2 266.8h0M231.5 306.1h0M278.5 266.3h0M289.3 293.1h0M274.9 284.5h0M246.0 296.2h0M282.1 257.0h0M242.4 289.2h0M289.3 271.0h0M300.1 268.5h0M253.2 266.9h0M274.9 294.5h0M260.4 270.4h0M253.2 277.2h0M318.2 260.4h0M249.6 291.2h0M289.3 250.5h0M285.7 268.6h0M231.5 283.8h0M289.3 258.3h0M253.2 269.7h0M253.2 308.1h0M260.4 279.7h0M256.8 286.2h0M260.4 267.7h0M285.7 279.6h0M249.6 290.4h0M238.8 302.3h0M285.7 278.1h0M260.4 268.1h0M267.6 291.8h0M238.8 287.6h0M278.5 270.2h0M274.9 296.0h0M274.9 279.3h0M332.6 228.9h0M231.5 302.3h0M267.6 279.8h0M227.9 287.4h0M253.2 289.1h0M274.9 263.4h0M289.3 292.2h0M246.0 292.5h0M318.2 231.8h0M332.6 252.6h0M332.6 253.9h0M260.4 292.1h0M274.9 280.6h0M260.4 268.8h0M229.7 279.0h0M246.0 303.3h0M296.5 239.6h0M238.8 305.4h0M260.4 299.6h0M278.5 286.9h0M260.4 270.9h0M271.2 255.1h0M267.6 276.4h0M235.2 285.5h0M224.3 301.2h0M267.6 275.1h0M274.9 272.7h0M267.6 264.6h0M342.0 271.3h0M238.8 317.1h0M231.5 290.0h0M289.3 270.6h0M318.2 233.2h0M329.0 220.6h0M318.2 221.8h0M256.8 291.5h0M271.2 287.7h0M274.9 253.9h0M271.2 272.6h0M260.4 285.9h0M289.3 257.8h0M285.7 281.3h0M224.3 301.9h0M325.4 240.3h0M260.4 281.4h0M282.1 268.9h0M342.0 240.2h0M274.9 294.2h0M246.0 303.0h0M274.9 281.4h0M260.4 311.0h0M238.8 304.0h0M238.8 277.1h0M285.7 250.5h0M260.4 275.6h0M260.4 296.8h0M253.2 285.3h0M274.9 276.2h0M274.9 293.5h0M289.3 275.9h0M249.6 270.4h0M274.9 265.3h0M267.6 263.2h0M231.5 295.8h0M303.7 298.6h0M274.9 255.7h0M264.0 285.2h0M267.6 273.8h0M267.6 270.8h0M260.4 265.1h0M267.6 261.0h0M289.3 252.6h0M253.2 301.1h0M285.7 287.6h0M217.1 317.3h0M249.6 277.8h0M282.1 287.2h0M274.9 258.6h0M231.5 309.7h0M253.2 303.1h0M260.4 269.4h0M289.3 258.0h0M231.5 286.3h0M238.8 284.2h0M249.6 281.9h0M256.8 301.6h0M282.1 263.5h0M256.8 293.4h0M282.1 285.1h0M242.4 297.8h0M253.2 294.6h0M289.3 276.1h0M260.4 278.0h0M267.6 292.8h0M285.3 199.3h0M285.3 211.4h0M296.5 213.6h0M318.2 198.6h0M224.3 260.1h0M224.3 262.9h0M225.8 267.9h0" stroke="#0867b9" stroke-width="2.1" stroke-linecap="round" fill="none"/><path d="M209.4 330.9L348.0 193.6" stroke="#404040" stroke-width="1.0" fill="none"/><path d="M209.1 193.2H348.4V331.2" stroke="#dcdcdc" stroke-width="0.6" fill="none"/><path d="M209.1 193.2V331.2H348.4" stroke="#9a9a9a" stroke-width="1.2" fill="none"/><path d="M217.1 331.2v-1.2M209.1 323.7h1.2M231.5 331.2v-1.2M209.1 309.4h1.2M246.0 331.2v-1.2M209.1 295.1h1.2M260.4 331.2v-1.2M209.1 280.8h1.2M274.9 331.2v-1.2M209.1 266.5h1.2M289.3 331.2v-1.2M209.1 252.2h1.2M303.7 331.2v-1.2M209.1 237.9h1.2M318.2 331.2v-1.2M209.1 223.6h1.2M332.6 331.2v-1.2M209.1 209.3h1.2M347.1 331.2v-1.2M209.1 195.0h1.2" stroke="#9a9a9a" stroke-width="0.7" fill="none"/><g font-family="Liberation Sans, sans-serif" font-size="3.9" fill="#333" stroke="#333" stroke-width="0.12"><text x="217.1" y="337.3" text-anchor="middle">0</text><text x="207.5" y="325.1" text-anchor="end">0</text><text x="231.5" y="337.3" text-anchor="middle">2</text><text x="207.5" y="310.8" text-anchor="end">2</text><text x="246.0" y="337.3" text-anchor="middle">4</text><text x="207.5" y="296.5" text-anchor="end">4</text><text x="260.4" y="337.3" text-anchor="middle">6</text><text x="207.5" y="282.2" text-anchor="end">6</text><text x="274.9" y="337.3" text-anchor="middle">8</text><text x="207.5" y="267.9" text-anchor="end">8</text><text x="289.3" y="337.3" text-anchor="middle">10</text><text x="207.5" y="253.6" text-anchor="end">10</text><text x="303.7" y="337.3" text-anchor="middle">12</text><text x="207.5" y="239.3" text-anchor="end">12</text><text x="318.2" y="337.3" text-anchor="middle">14</text><text x="207.5" y="225.0" text-anchor="end">14</text><text x="332.6" y="337.3" text-anchor="middle">16</text><text x="207.5" y="210.7" text-anchor="end">16</text><text x="347.1" y="337.3" text-anchor="middle">18</text><text x="207.5" y="196.4" text-anchor="end">18</text></g><text x="265.8" y="342.7" textLength="25.9" lengthAdjust="spacingAndGlyphs" font-family="Liberation Sans, sans-serif" font-size="4.5" fill="#333" stroke="#333" stroke-width="0.12">True response</text><text transform="translate(201.2 280.2) rotate(-90)" textLength="36.0" lengthAdjust="spacingAndGlyphs" font-family="Liberation Sans, sans-serif" font-size="4.5" fill="#333" stroke="#333" stroke-width="0.12">Predicted response</text><rect x="216.1" y="196.5" width="41.9" height="10.3" fill="#fff" stroke="#8a8a8a" stroke-width="0.6"/><path d="M223.0 199.4h0" stroke="#0867b9" stroke-width="2.1" stroke-linecap="round"/><path d="M217.4 204.1H228.3" stroke="#666" stroke-width="1.0"/><text x="229.5" y="200.6" textLength="19.5" lengthAdjust="spacingAndGlyphs" font-family="Liberation Sans, sans-serif" font-size="3.3" fill="#222" stroke="#222" stroke-width="0.1">Observations</text><text x="229.5" y="205.3" textLength="26.1" lengthAdjust="spacingAndGlyphs" font-family="Liberation Sans, sans-serif" font-size="3.35" fill="#222" stroke="#222" stroke-width="0.1">Perfect prediction</text></g>
<g><rect x="384.2" y="192.1" width="152.8" height="151.5" fill="#f0f0f0"/><rect x="395.4" y="193.2" width="137.1" height="138.0" fill="#fff"/><path d="M415.6 193.2V331.2M395.4 311.2H532.5M438.0 193.2V331.2M395.4 288.8H532.5M460.4 193.2V331.2M395.4 266.4H532.5M482.8 193.2V331.2M395.4 243.9H532.5M505.2 193.2V331.2M395.4 221.4H532.5M527.6 193.2V331.2M395.4 199.0H532.5" stroke="#eeeeee" stroke-width="0.7" fill="none"/><path d="M469.4 258.2h0M460.4 264.0h0M460.4 279.5h0M460.4 261.4h0M515.5 230.2h0M473.8 233.3h0M476.1 250.5h0M460.4 271.8h0M476.1 271.9h0M449.2 260.6h0M444.7 271.0h0M487.3 261.3h0M441.4 266.8h0M515.5 207.3h0M482.8 243.8h0M482.8 243.1h0M444.7 273.9h0M453.7 240.2h0M487.3 225.9h0M464.9 269.0h0M473.8 281.2h0M449.2 261.7h0M451.4 266.7h0M467.1 259.8h0M480.6 252.8h0M469.4 241.7h0M447.0 268.6h0M491.8 229.1h0M451.4 274.3h0M464.9 251.6h0M471.6 266.4h0M458.2 264.9h0M464.9 273.4h0M500.7 221.5h0M464.9 271.3h0M469.4 258.5h0M515.5 207.1h0M455.9 275.3h0M500.7 209.0h0M460.4 248.5h0M458.2 259.9h0M496.2 250.4h0M444.7 275.9h0M491.8 260.3h0M482.8 251.8h0M500.7 252.0h0M444.7 268.3h0M455.9 249.7h0M482.8 249.3h0M464.9 259.9h0M440.2 274.4h0M478.3 266.3h0M482.8 240.8h0M515.5 248.7h0M451.4 288.3h0M455.9 254.0h0M487.3 268.7h0M447.0 254.1h0M455.9 279.3h0M464.9 265.5h0M464.9 276.4h0M469.4 274.9h0M491.8 258.3h0M473.8 264.1h0M473.8 254.5h0M473.8 263.0h0M453.7 267.6h0M464.9 248.4h0M515.5 216.1h0M505.2 224.5h0M480.6 254.3h0M469.4 257.3h0M491.8 212.3h0M473.8 259.8h0M462.6 244.9h0M469.4 244.1h0M451.4 287.4h0M471.6 249.0h0M458.2 285.0h0M482.8 232.6h0M482.8 270.6h0M515.5 226.1h0M482.8 253.9h0M444.7 278.3h0M478.3 243.4h0M482.8 264.4h0M496.2 233.1h0M467.1 281.6h0M464.9 268.6h0M469.4 243.9h0M451.4 262.8h0M498.5 234.9h0M515.5 244.1h0M455.9 265.1h0M498.5 241.4h0M453.7 283.8h0M447.0 262.3h0M478.3 253.0h0M482.8 268.1h0M451.4 280.4h0M498.5 212.7h0M462.6 252.4h0M451.4 271.4h0M458.2 269.3h0M447.0 291.4h0M482.8 249.4h0M455.9 260.9h0M478.3 260.1h0M464.9 271.6h0M449.2 279.1h0M471.6 244.1h0M507.4 247.1h0M451.4 283.4h0M503.0 225.9h0M449.2 258.7h0M471.6 259.7h0M451.4 263.8h0M515.5 220.1h0M469.4 268.6h0M496.2 238.1h0M478.3 243.8h0M464.9 254.8h0M455.9 257.5h0M496.2 247.3h0M496.2 225.4h0M482.8 265.4h0M482.8 236.7h0M443.6 265.4h0M453.7 252.2h0M469.4 264.7h0M447.0 258.2h0M471.6 275.9h0M494.0 247.1h0M460.4 248.2h0M478.3 262.7h0M451.4 260.3h0M482.8 249.2h0M500.7 223.9h0M482.8 266.2h0M464.9 266.5h0M460.4 261.5h0M447.0 280.0h0M487.3 251.8h0M505.2 233.5h0M469.4 242.4h0M480.6 247.1h0M453.7 263.4h0M480.6 262.1h0M455.9 283.3h0M478.3 262.1h0M438.0 268.8h0M460.4 266.2h0M455.9 252.1h0M443.6 271.0h0M455.9 269.5h0M509.7 217.8h0M458.2 243.0h0M449.2 299.6h0M476.1 235.6h0M482.8 271.7h0M460.4 244.3h0M509.7 221.2h0M478.3 253.1h0M469.4 253.6h0M500.7 232.2h0M482.8 261.4h0M473.8 259.1h0M455.9 264.5h0M469.4 253.7h0M473.8 246.0h0M500.7 240.8h0M485.0 264.6h0M444.7 284.1h0M469.4 261.3h0M485.0 247.8h0M464.9 271.1h0M480.6 244.5h0M455.9 277.0h0M496.2 253.6h0M451.4 266.8h0M455.9 257.2h0M455.9 268.5h0M451.4 258.6h0M476.1 253.1h0M487.3 260.7h0M451.4 257.2h0M451.4 268.5h0M462.6 277.9h0M458.2 254.6h0M473.8 270.2h0M449.2 288.0h0M471.6 265.5h0M469.4 270.1h0M449.2 263.6h0M464.9 253.2h0M460.4 280.3h0M445.8 260.0h0M460.4 280.0h0M473.8 264.3h0M496.2 221.2h0M498.5 253.1h0M478.3 281.8h0M462.6 261.0h0M451.4 270.8h0M478.3 264.2h0M471.6 247.2h0M491.8 260.6h0M455.9 256.0h0M473.8 273.3h0M447.0 284.3h0M458.2 275.1h0M464.9 266.1h0M482.8 261.7h0M460.4 267.8h0M473.8 257.8h0M515.5 240.1h0M494.0 243.7h0M467.1 270.0h0M453.7 265.4h0M473.8 272.5h0M482.8 244.4h0M473.8 263.1h0M480.6 241.4h0M453.7 280.0h0M455.9 266.9h0M451.4 266.1h0M444.7 263.7h0M464.9 254.1h0M482.8 240.2h0M460.4 245.8h0M498.5 233.6h0M460.4 257.4h0M460.4 278.8h0M487.3 228.6h0M476.1 271.1h0M469.4 270.7h0M455.9 244.8h0M447.0 267.7h0M451.4 259.9h0M451.4 265.2h0M464.9 240.1h0M460.4 258.5h0M469.4 248.9h0M455.9 260.3h0M478.3 258.0h0M494.0 251.9h0M482.8 257.3h0M471.6 260.5h0M455.9 256.2h0M482.8 259.8h0M482.8 254.8h0M447.0 262.7h0M487.3 234.4h0M509.7 213.5h0M451.4 268.0h0M451.4 281.0h0M478.3 246.8h0M467.1 268.2h0M447.0 276.4h0M473.8 248.2h0M482.8 257.0h0M478.3 267.4h0M444.7 270.0h0M443.6 278.2h0M469.4 270.2h0M476.1 239.2h0M509.7 222.5h0M478.3 263.5h0M476.1 268.8h0M496.2 240.2h0M462.6 249.1h0M451.4 271.0h0M447.0 267.0h0M460.4 253.2h0M491.8 217.4h0M469.4 276.4h0M443.6 262.3h0M505.2 217.7h0M482.8 268.4h0M444.7 252.8h0M482.8 265.1h0M451.4 283.1h0M444.7 272.9h0M462.6 255.0h0M478.3 265.0h0M455.9 265.5h0M464.9 267.2h0M487.3 208.7h0M449.2 275.3h0M473.8 241.6h0M458.2 286.3h0M444.7 260.9h0M480.6 240.3h0M476.1 250.2h0M464.9 265.0h0M464.9 258.0h0M462.6 277.6h0M476.1 264.7h0M441.4 261.5h0M447.0 266.8h0M447.0 251.0h0M447.0 277.2h0M469.4 270.2h0M464.9 263.0h0M473.8 230.2h0M469.4 259.3h0M482.8 249.7h0M478.3 265.3h0M442.5 258.9h0M447.0 275.0h0M476.1 251.4h0M487.3 237.5h0M482.8 256.0h0M447.0 268.7h0M473.8 263.8h0M451.4 257.4h0M458.2 265.7h0M487.3 262.6h0M473.8 276.8h0M487.3 245.3h0M473.8 251.6h0M505.2 244.4h0M455.9 237.5h0M467.1 277.7h0M485.0 238.9h0M480.6 266.6h0M444.7 264.7h0M453.7 269.5h0M460.4 268.2h0M473.8 242.7h0M455.9 273.9h0M487.3 271.3h0M482.8 241.6h0M464.9 258.2h0M455.9 264.9h0M455.9 291.5h0M453.7 276.7h0M467.1 266.1h0M469.4 237.2h0M500.7 257.5h0M467.1 265.7h0M469.4 279.9h0M453.7 259.7h0M515.5 202.7h0M467.1 252.7h0M451.4 254.7h0M455.9 263.5h0M478.3 253.6h0M455.9 273.2h0M515.5 220.5h0M469.4 271.8h0M482.8 242.4h0M473.8 237.2h0M478.3 262.2h0M462.6 273.4h0M482.8 233.9h0M482.8 251.6h0M482.8 243.0h0M473.8 245.4h0M482.8 254.1h0M482.8 234.7h0M455.9 278.9h0M444.7 271.5h0M509.7 207.9h0M462.6 244.7h0M447.0 265.3h0M496.2 243.2h0M487.3 245.9h0M473.8 253.4h0M447.0 274.3h0M491.8 258.2h0M467.1 271.7h0M447.0 272.2h0M451.4 284.0h0M451.4 250.7h0M491.8 239.9h0M500.7 236.9h0M509.7 234.0h0M460.4 279.7h0M471.6 259.8h0M473.8 245.3h0M460.4 268.1h0M438.0 282.5h0M444.7 271.8h0M447.0 263.6h0M464.9 242.9h0M464.9 273.9h0M442.5 280.9h0M444.7 271.6h0M460.4 220.3h0M473.8 248.6h0M469.4 246.0h0M480.6 241.5h0M469.4 238.7h0M447.0 280.0h0M447.0 261.6h0M460.4 278.3h0M473.8 251.1h0M491.8 258.1h0M496.2 225.4h0M503.0 240.5h0M491.8 259.1h0M462.6 277.0h0M469.4 251.2h0M444.7 275.2h0M489.5 237.2h0M471.6 245.0h0M443.6 259.9h0M500.7 256.0h0M478.3 251.0h0M515.5 207.9h0M447.0 280.3h0M464.9 271.3h0M447.0 253.8h0M489.5 238.5h0M451.4 280.5h0M478.3 239.6h0M476.1 247.5h0M473.8 282.0h0M464.9 265.8h0M464.9 270.5h0M482.8 266.3h0M473.8 201.3h0M460.4 260.3h0M478.3 256.2h0M476.1 244.4h0M464.9 273.6h0M478.3 236.6h0M451.4 277.9h0M464.9 249.1h0M482.8 259.1h0M482.8 216.4h0M480.6 258.6h0M515.5 218.3h0M462.6 277.7h0M505.2 232.9h0M482.8 267.5h0M480.6 274.1h0M460.4 273.9h0M447.0 287.6h0M480.6 258.3h0M444.7 285.4h0M476.1 266.7h0M438.0 280.7h0M451.4 263.1h0M464.9 261.5h0M482.8 256.2h0M458.2 259.3h0M509.7 221.0h0M489.5 255.8h0M480.6 253.9h0M460.4 288.5h0M464.9 272.3h0M515.5 232.2h0M471.6 259.5h0M473.8 255.2h0M469.4 258.0h0M451.4 253.7h0M515.5 211.8h0M473.8 273.9h0M476.1 232.2h0M482.8 250.4h0M467.1 269.5h0M455.9 279.9h0M485.0 272.4h0M451.4 278.1h0M460.4 269.7h0M478.3 268.4h0M464.9 267.0h0M473.8 259.7h0M453.7 251.0h0M487.3 251.7h0M491.8 263.7h0M464.9 260.6h0M505.2 234.6h0M491.8 235.4h0M473.8 273.1h0M453.7 269.2h0M442.5 279.9h0M509.7 223.3h0M509.7 238.0h0M473.8 240.1h0M469.4 265.6h0M478.3 253.3h0M462.6 268.0h0M458.2 253.8h0M460.4 276.9h0M460.4 283.6h0M469.4 255.3h0M438.0 281.1h0M453.7 257.4h0M469.4 240.4h0M496.2 212.6h0M469.4 254.7h0M455.9 262.1h0M489.5 239.6h0M491.8 244.6h0M455.9 268.6h0M515.5 233.0h0M478.3 254.4h0M455.9 260.9h0M473.8 239.2h0M460.4 268.0h0M509.7 242.6h0M473.8 277.6h0M444.7 266.2h0M469.4 270.5h0M469.4 238.8h0M482.8 256.4h0M489.5 237.7h0M476.1 251.4h0M471.6 251.2h0M469.4 233.7h0M451.4 259.9h0M478.3 263.0h0M469.4 250.3h0M462.6 275.0h0M480.6 240.2h0M460.4 244.8h0M478.3 238.6h0M460.4 265.9h0M451.4 283.0h0M469.4 291.3h0M505.2 213.9h0M451.4 266.5h0M451.4 257.6h0M458.2 264.6h0M491.8 244.2h0M464.9 244.6h0M460.4 282.6h0M460.4 273.6h0M460.4 256.0h0M469.4 260.1h0M462.6 248.3h0M451.4 278.9h0M478.3 241.9h0M451.4 249.6h0M469.4 282.9h0M467.1 266.3h0M438.0 264.4h0M455.9 265.2h0M482.8 254.9h0M487.3 249.1h0M491.8 224.7h0M451.4 270.9h0M478.3 252.1h0M460.4 266.3h0M453.7 266.4h0M451.4 262.7h0M496.2 217.0h0M515.5 215.8h0M469.4 256.5h0M489.5 254.6h0M449.2 285.6h0M440.1 275.9h0M464.9 260.2h0M500.7 248.1h0M469.4 260.8h0M455.9 268.6h0M509.7 236.8h0M473.8 262.4h0M460.4 263.0h0M471.6 264.5h0M473.8 260.5h0M447.0 279.8h0M469.4 249.1h0M473.8 261.7h0M447.0 272.8h0M451.4 257.8h0M442.5 277.1h0M453.7 265.9h0M442.5 274.4h0M471.6 263.4h0M482.8 275.7h0M447.0 264.2h0M496.2 212.2h0M455.9 268.0h0M438.8 266.5h0M464.9 258.7h0M458.2 275.7h0M460.4 266.2h0M458.2 260.7h0M482.8 256.3h0M460.4 264.3h0M487.3 242.0h0M476.1 254.8h0M478.3 262.9h0M480.6 246.1h0M451.4 284.2h0M509.7 242.3h0M471.6 264.0h0M438.0 266.3h0M451.4 246.0h0M505.2 246.4h0M473.8 242.5h0M439.4 262.5h0M447.0 284.7h0M503.0 215.5h0M453.7 247.8h0M464.9 260.1h0M469.4 258.7h0M441.7 259.7h0M464.9 260.5h0M471.6 262.3h0M442.5 287.1h0M467.1 249.7h0M482.8 243.3h0M476.1 254.1h0M453.7 249.2h0M464.9 252.3h0M451.4 257.8h0M462.6 264.3h0M460.4 262.2h0M464.9 255.5h0M478.3 260.2h0M451.4 251.6h0M509.7 229.0h0M480.6 261.9h0M498.5 236.6h0M460.4 275.3h0M473.8 246.0h0M476.1 255.2h0M503.0 226.9h0M478.3 236.3h0M469.4 288.8h0M451.4 259.5h0M482.8 274.4h0M509.7 235.6h0M473.8 275.6h0M469.4 255.4h0M438.0 290.0h0M515.5 228.9h0M487.3 221.0h0M473.8 266.2h0M469.4 247.6h0M478.3 233.5h0M491.8 257.5h0M460.4 250.2h0M451.4 275.0h0M460.4 255.8h0M449.2 280.7h0M464.9 240.4h0M480.6 250.4h0M460.4 236.4h0M464.9 250.1h0M451.4 260.0h0M515.5 218.6h0M451.4 272.2h0M500.7 242.1h0M455.9 256.6h0M500.7 232.9h0M451.4 268.9h0M473.8 275.0h0M471.6 235.2h0M451.4 268.4h0M473.8 258.0h0M469.4 253.5h0M500.7 229.5h0M447.0 256.7h0M467.1 230.4h0M442.5 278.8h0M482.8 245.2h0M444.7 274.5h0M491.8 244.6h0M478.3 263.5h0M509.7 235.8h0M469.4 260.4h0M447.0 265.8h0M478.3 264.5h0M443.6 267.4h0M449.2 268.7h0M458.2 269.4h0M469.4 244.0h0M447.0 262.8h0M469.4 240.4h0M451.4 300.2h0M455.9 273.8h0M509.7 201.5h0M469.4 272.6h0M515.5 201.4h0M478.3 250.4h0M462.6 239.0h0M482.8 267.0h0M476.1 257.4h0M455.9 256.1h0M458.2 267.2h0M460.4 250.2h0M462.6 255.2h0M509.7 238.4h0M505.2 240.3h0M444.7 272.9h0M464.9 245.4h0M451.4 275.7h0M482.8 255.2h0M469.4 250.7h0M464.9 251.0h0M480.6 245.1h0M491.8 251.7h0M441.0 263.8h0M451.4 283.2h0M447.0 261.6h0M489.5 252.2h0M460.4 246.1h0M460.4 267.7h0M458.2 265.4h0M451.4 261.3h0M451.4 281.7h0M460.4 271.6h0M505.2 209.8h0M462.6 254.7h0M445.8 274.1h0M460.4 269.4h0M464.9 282.5h0M482.8 254.2h0M478.3 245.6h0M469.4 256.1h0M458.2 248.1h0M447.0 262.0h0M451.4 260.7h0M460.4 288.1h0M496.2 205.7h0M438.0 266.8h0M462.6 284.1h0M476.1 244.0h0M447.0 252.1h0M467.1 268.1h0M482.8 249.2h0M469.4 261.0h0M460.4 270.0h0M469.4 254.9h0M471.6 264.2h0M460.4 250.2h0M482.8 254.4h0M460.4 263.7h0M471.6 248.4h0M464.9 261.4h0M464.9 249.1h0M453.7 284.3h0M455.9 256.5h0M469.4 263.1h0M469.4 257.8h0M453.7 253.4h0M473.8 250.3h0M500.7 219.8h0M473.8 251.1h0M473.8 252.6h0M482.8 261.4h0M473.8 271.3h0M455.9 275.8h0M449.2 234.0h0M455.9 275.4h0M464.9 236.8h0M458.2 266.8h0M451.4 278.7h0M485.0 242.7h0M496.2 244.3h0M449.2 278.9h0M464.9 266.6h0M515.5 220.6h0M505.2 220.2h0M455.9 272.2h0M451.4 266.9h0M453.7 272.0h0M440.4 266.2h0M482.8 246.1h0M496.2 223.8h0M442.5 274.3h0M505.2 218.8h0M455.9 259.7h0M460.4 267.8h0M478.3 257.5h0M447.0 269.9h0M482.8 270.9h0M451.4 267.6h0M447.0 269.6h0M460.4 263.9h0M453.7 261.6h0M460.4 259.9h0M445.8 257.3h0M462.6 284.5h0M478.3 253.4h0M460.4 271.4h0M464.9 251.3h0M460.4 270.0h0M451.4 269.4h0M487.3 240.9h0M473.8 264.6h0M478.3 252.8h0M469.4 275.5h0M473.8 256.9h0M464.9 280.0h0M467.1 253.3h0M473.8 276.4h0M460.4 279.3h0M460.4 281.3h0M447.0 280.3h0M482.8 268.9h0M449.2 288.2h0M467.1 266.8h0M460.4 263.5h0M447.0 247.9h0M464.9 258.0h0M469.4 262.0h0M478.3 264.5h0M447.0 266.4h0M462.6 247.3h0M503.0 244.3h0M469.4 257.1h0M464.9 249.6h0M469.4 246.2h0M447.0 273.6h0M494.0 245.6h0M451.4 267.9h0M476.1 252.5h0M451.4 276.0h0M471.6 260.3h0M447.0 282.2h0M451.4 264.6h0M478.3 252.5h0M449.2 258.7h0M469.4 261.7h0M473.8 258.3h0M478.3 249.2h0M482.8 243.7h0M478.3 250.9h0M473.8 261.2h0M460.4 252.3h0M478.3 239.9h0M453.7 260.2h0M455.9 280.0h0M455.9 253.9h0M455.9 275.6h0M460.4 266.3h0M476.1 250.8h0M507.4 216.3h0M471.6 241.9h0M505.2 215.7h0M469.4 270.8h0M471.6 261.8h0M464.9 263.3h0M449.2 259.9h0M480.6 243.6h0M455.9 257.9h0M460.4 247.7h0M439.1 286.1h0M460.4 274.6h0M467.1 242.5h0M455.9 258.8h0M453.7 264.0h0M473.8 242.8h0M471.6 251.4h0M469.4 261.2h0M460.4 280.3h0M455.9 246.9h0M467.1 244.1h0M455.9 268.8h0M451.4 261.8h0M473.8 264.2h0M460.4 278.6h0M447.0 271.2h0M500.7 222.4h0M460.4 255.0h0M460.4 246.7h0M467.1 266.2h0M480.6 266.6h0M478.3 281.1h0M451.4 277.3h0M473.8 247.5h0M462.6 265.1h0M482.8 259.3h0M515.5 214.2h0M515.5 213.2h0M478.3 253.6h0M464.9 254.3h0M482.8 243.2h0M500.7 246.5h0M464.9 248.0h0M451.4 280.2h0M455.9 253.3h0M460.4 278.8h0M460.4 274.1h0M464.9 272.2h0M455.9 268.6h0M471.6 241.4h0M449.2 285.3h0M471.6 255.9h0M455.9 254.1h0M469.4 262.5h0M453.7 271.3h0M471.6 267.0h0M464.9 260.3h0M500.7 236.9h0M451.4 262.3h0M460.4 252.6h0M462.6 269.7h0M460.4 281.5h0M460.4 262.4h0M473.8 243.1h0M438.0 271.3h0M462.6 285.5h0M462.6 281.1h0M491.8 228.7h0M498.5 233.4h0M482.8 259.4h0M487.3 236.2h0M515.5 211.1h0M515.5 211.2h0M473.8 252.2h0M444.7 257.4h0M491.8 260.2h0M467.1 256.5h0M442.5 277.1h0M451.4 257.5h0M469.4 252.5h0M478.3 239.7h0M503.0 255.2h0M482.8 265.9h0M500.7 255.0h0M444.7 273.9h0M464.9 276.8h0M482.8 235.2h0M482.8 263.8h0M451.4 270.3h0M471.6 261.4h0M455.9 287.0h0M451.4 264.6h0M482.8 233.9h0M460.4 247.8h0M500.7 240.0h0M442.5 273.7h0M509.7 225.5h0M482.8 250.3h0M464.9 262.7h0M469.4 259.2h0M455.9 276.8h0M469.4 280.1h0M478.3 236.2h0M478.3 255.8h0M471.6 257.3h0M449.2 257.4h0M455.9 272.8h0M515.5 207.8h0M460.4 254.4h0M462.6 269.2h0M462.6 257.8h0M491.8 249.4h0M462.6 248.6h0M469.4 242.9h0M462.6 266.0h0M453.7 262.5h0M458.2 257.5h0M453.7 262.1h0M482.8 238.0h0M515.5 219.7h0M480.6 245.4h0M469.4 255.6h0M473.8 257.7h0M469.4 240.8h0M487.3 221.8h0M449.2 257.3h0M443.6 260.8h0M478.3 276.2h0M464.9 261.4h0M480.6 250.0h0M509.7 229.6h0M451.4 266.6h0M480.6 268.9h0M478.3 237.9h0M473.8 256.6h0M462.6 271.5h0M473.8 251.9h0M469.4 268.2h0M447.0 275.4h0M471.6 261.9h0M438.7 269.6h0M460.4 277.2h0M476.1 255.4h0M505.2 240.8h0M500.7 227.1h0M460.4 279.1h0M439.1 277.9h0M505.2 220.2h0M447.0 273.0h0M478.3 255.7h0M453.7 273.9h0M487.3 235.3h0M447.0 264.6h0M489.5 235.6h0M447.0 268.5h0M473.8 266.6h0M491.8 245.6h0M451.4 260.0h0M464.9 261.5h0M455.9 264.5h0M485.0 239.3h0M473.8 251.1h0M505.2 230.9h0M515.5 217.2h0M469.4 246.3h0M482.8 250.5h0M469.4 263.6h0M464.9 269.7h0M515.5 244.3h0M460.4 259.8h0M460.4 267.5h0M460.4 251.6h0M453.7 260.8h0M460.4 275.5h0M455.9 278.5h0M491.8 237.8h0M480.6 269.7h0M469.4 261.5h0M482.8 246.1h0M478.3 251.6h0M489.5 242.8h0M451.4 269.6h0M458.2 248.1h0M491.8 261.2h0M460.4 265.6h0M438.9 262.0h0M455.9 269.1h0M451.4 269.0h0M473.8 254.6h0M496.2 236.2h0M464.9 245.6h0M469.4 255.8h0M460.4 272.4h0M455.9 277.1h0M445.8 265.9h0M515.5 212.9h0M464.9 235.4h0M478.3 244.9h0M473.8 271.0h0M515.5 223.1h0M491.8 231.7h0M480.6 256.9h0M460.4 242.2h0M515.5 208.7h0M451.4 278.4h0M471.6 245.8h0M467.1 254.1h0M444.7 260.0h0M482.8 261.1h0M451.4 264.9h0M467.1 267.8h0M467.1 255.0h0M460.4 258.1h0M460.4 249.5h0M482.8 245.3h0M509.7 239.7h0M476.1 279.6h0M469.4 254.3h0M451.4 256.1h0M442.5 263.5h0M473.8 268.3h0M478.3 251.4h0M487.3 247.7h0M458.2 266.4h0M471.6 253.2h0M460.4 254.2h0M447.0 274.5h0M480.6 270.8h0M509.7 231.0h0M464.9 273.0h0M480.6 246.3h0M487.3 239.0h0M444.7 288.0h0M473.8 256.9h0M460.4 257.1h0M462.6 268.1h0M482.8 273.9h0M455.9 278.5h0M496.2 221.9h0M482.8 254.5h0M442.5 289.1h0M451.4 266.5h0M515.5 226.5h0M460.4 275.7h0M489.5 237.2h0M478.3 245.2h0M467.1 276.5h0M460.4 266.0h0M469.4 252.5h0M469.4 256.1h0M451.4 268.8h0M482.8 248.8h0M507.4 245.8h0M440.6 269.4h0M482.8 250.8h0M515.5 242.1h0M473.8 241.0h0M464.9 271.1h0M451.4 276.5h0M453.7 276.9h0M515.5 210.2h0M449.2 282.4h0M478.3 246.3h0M473.8 271.1h0M467.1 253.3h0M469.4 251.5h0M503.0 216.1h0M469.4 272.9h0M469.4 259.9h0M473.8 271.4h0M478.3 258.3h0M469.4 257.1h0M482.8 250.9h0M503.0 240.4h0M478.3 243.5h0M500.7 233.0h0M451.4 268.0h0M467.1 263.9h0M464.9 235.3h0M482.8 246.8h0M460.4 270.6h0M460.4 273.9h0M467.1 263.5h0M453.7 258.3h0M464.9 265.5h0M473.8 250.3h0M455.9 260.7h0M451.4 269.3h0M480.6 255.3h0M491.8 250.5h0M473.8 251.3h0M478.3 243.8h0M447.0 269.5h0M473.8 261.8h0M469.4 266.0h0M441.0 281.2h0M455.9 263.8h0M496.2 237.1h0M455.9 277.8h0M453.7 271.6h0M469.4 260.9h0M449.2 282.3h0M464.9 246.3h0M478.3 250.3h0M451.4 268.4h0M464.9 239.3h0M445.8 277.1h0M460.4 258.7h0M500.7 243.4h0M469.4 252.3h0M487.3 227.3h0M473.8 267.5h0M462.6 272.8h0M476.1 253.1h0M482.8 235.3h0M469.4 261.7h0M473.8 249.3h0M505.2 228.8h0M455.9 275.4h0M476.1 252.2h0M478.3 258.1h0M500.7 232.2h0M464.9 248.9h0M482.8 269.0h0M480.6 269.2h0M469.4 262.3h0M455.9 268.0h0M462.6 271.3h0M473.8 250.7h0M469.4 237.4h0M482.8 253.7h0M478.3 238.7h0M469.4 261.1h0M505.2 240.5h0M460.4 252.6h0M473.8 259.5h0M455.9 263.2h0M485.0 261.9h0M482.8 258.6h0M451.4 296.9h0M498.5 220.0h0M476.1 257.1h0M462.6 267.7h0M451.4 286.4h0M460.4 262.4h0M471.6 251.9h0M478.3 261.2h0M473.8 274.0h0M464.9 253.8h0M482.8 246.0h0M473.8 259.8h0M476.1 236.2h0M455.9 268.7h0M464.9 266.1h0M451.4 276.6h0M464.9 256.2h0M453.7 277.5h0M464.9 267.6h0M464.9 277.6h0M509.7 235.1h0M460.4 238.0h0M447.0 266.0h0M464.9 264.9h0M473.8 268.8h0M473.8 248.7h0M487.3 259.6h0M482.8 251.2h0M464.9 251.7h0M462.6 255.7h0M442.5 282.1h0M478.3 231.6h0M444.7 269.7h0M464.9 254.3h0M460.4 258.8h0M478.3 260.7h0M458.2 264.2h0M455.9 274.8h0M503.0 230.3h0M469.4 235.4h0M455.9 264.2h0M487.3 241.1h0M449.2 251.1h0M489.5 250.0h0M455.9 247.9h0M482.8 274.4h0M464.9 291.2h0M505.2 238.6h0M451.4 253.2h0M447.0 286.6h0M496.2 226.9h0M462.6 244.3h0M445.8 254.8h0M478.3 258.6h0M482.8 249.3h0M482.8 264.5h0M438.0 265.6h0M496.2 224.8h0M467.1 274.5h0M469.4 274.1h0M455.9 255.5h0M464.9 257.2h0M447.0 243.0h0M478.3 245.4h0M462.6 251.3h0M503.0 234.7h0M444.7 262.6h0M478.3 246.9h0M458.2 260.5h0M473.8 273.3h0M447.0 251.8h0M482.8 260.2h0M451.4 250.5h0M455.9 261.7h0M458.2 253.7h0M464.9 273.9h0M442.3 303.6h0M460.0 296.9h0M515.5 268.1h0M515.5 282.1h0M496.2 208.9h0M480.6 211.1h0M487.3 211.1h0M491.3 215.2h0M438.9 217.0h0M475.2 326.1h0" stroke="#0867b9" stroke-width="2.1" stroke-linecap="round" fill="none"/><path d="M395.7 330.9L532.1 193.6" stroke="#404040" stroke-width="1.0" fill="none"/><path d="M395.4 193.2H532.5V331.2" stroke="#dcdcdc" stroke-width="0.6" fill="none"/><path d="M395.4 193.2V331.2H532.5" stroke="#9a9a9a" stroke-width="1.2" fill="none"/><path d="M415.6 331.2v-1.2M395.4 311.2h1.2M438.0 331.2v-1.2M395.4 288.8h1.2M460.4 331.2v-1.2M395.4 266.4h1.2M482.8 331.2v-1.2M395.4 243.9h1.2M505.2 331.2v-1.2M395.4 221.4h1.2M527.6 331.2v-1.2M395.4 199.0h1.2" stroke="#9a9a9a" stroke-width="0.7" fill="none"/><g font-family="Liberation Sans, sans-serif" font-size="3.9" fill="#333" stroke="#333" stroke-width="0.12"><text x="415.6" y="337.3" text-anchor="middle">-5</text><text x="393.8" y="312.7" text-anchor="end">-5</text><text x="438.0" y="337.3" text-anchor="middle">0</text><text x="393.8" y="290.2" text-anchor="end">0</text><text x="460.4" y="337.3" text-anchor="middle">5</text><text x="393.8" y="267.8" text-anchor="end">5</text><text x="482.8" y="337.3" text-anchor="middle">10</text><text x="393.8" y="245.3" text-anchor="end">10</text><text x="505.2" y="337.3" text-anchor="middle">15</text><text x="393.8" y="222.9" text-anchor="end">15</text><text x="527.6" y="337.3" text-anchor="middle">20</text><text x="393.8" y="200.4" text-anchor="end">20</text></g><text x="451.0" y="342.7" textLength="25.9" lengthAdjust="spacingAndGlyphs" font-family="Liberation Sans, sans-serif" font-size="4.5" fill="#333" stroke="#333" stroke-width="0.12">True response</text><text transform="translate(387.6 280.2) rotate(-90)" textLength="36.0" lengthAdjust="spacingAndGlyphs" font-family="Liberation Sans, sans-serif" font-size="4.5" fill="#333" stroke="#333" stroke-width="0.12">Predicted response</text><rect x="400.9" y="197.5" width="44.1" height="10.4" fill="#fff" stroke="#8a8a8a" stroke-width="0.6"/><path d="M407.8 200.4h0" stroke="#0867b9" stroke-width="2.1" stroke-linecap="round"/><path d="M402.2 205.2H413.1" stroke="#666" stroke-width="1.0"/><text x="414.3" y="201.6" textLength="19.5" lengthAdjust="spacingAndGlyphs" font-family="Liberation Sans, sans-serif" font-size="3.3" fill="#222" stroke="#222" stroke-width="0.1">Observations</text><text x="414.3" y="206.4" textLength="26.1" lengthAdjust="spacingAndGlyphs" font-family="Liberation Sans, sans-serif" font-size="3.35" fill="#222" stroke="#222" stroke-width="0.1">Perfect prediction</text></g>
<text x="19.2" y="185.6" textLength="140.7" lengthAdjust="spacingAndGlyphs" font-family="Liberation Serif, serif" font-size="10.1" fill="#1a1a1a" stroke="#1a1a1a" stroke-width="0.15">(<tspan font-weight="bold">a</tspan>) Linear Regression−Interaction</text>
<text x="211.0" y="185.6" textLength="127.3" lengthAdjust="spacingAndGlyphs" font-family="Liberation Serif, serif" font-size="10.1" fill="#1a1a1a" stroke="#1a1a1a" stroke-width="0.15">(<tspan font-weight="bold">b</tspan>) Regression Tree−Fine Tree</text>
<text x="417.1" y="185.6" textLength="87.2" lengthAdjust="spacingAndGlyphs" font-family="Liberation Serif, serif" font-size="10.1" fill="#1a1a1a" stroke="#1a1a1a" stroke-width="0.15">(<tspan font-weight="bold">c</tspan>) SVM−Cubic SVM</text>
<text x="30.0" y="357.7" textLength="117.5" lengthAdjust="spacingAndGlyphs" font-family="Liberation Serif, serif" font-size="10.1" fill="#1a1a1a" stroke="#1a1a1a" stroke-width="0.15">(<tspan font-weight="bold">d</tspan>) Ensemble Trees−Bagged</text>
<text x="227.3" y="357.7" textLength="95.3" lengthAdjust="spacingAndGlyphs" font-family="Liberation Serif, serif" font-size="10.1" fill="#1a1a1a" stroke="#1a1a1a" stroke-width="0.15">(<tspan font-weight="bold">e</tspan>) GPR−Rational GPR</text>
<text x="383.4" y="357.7" textLength="153.6" lengthAdjust="spacingAndGlyphs" font-family="Liberation Serif, serif" font-size="10.1" fill="#1a1a1a" stroke="#1a1a1a" stroke-width="0.15">(<tspan font-weight="bold">f</tspan>) ANN−Medium NN (25 Neurons)</text>
</svg></body></html>
